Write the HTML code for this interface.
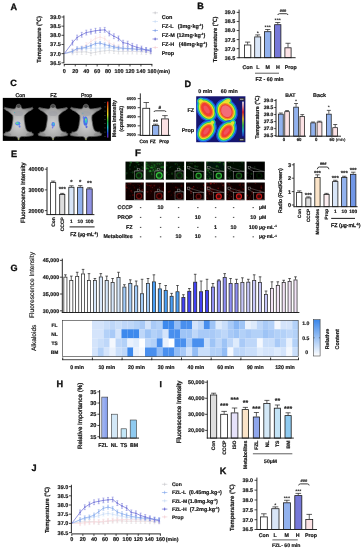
<!DOCTYPE html>
<html lang="en"><head><meta charset="utf-8"><title>Figure</title>
<style>
html,body{margin:0;padding:0;background:#fff;}
body{width:363px;height:550px;overflow:hidden;}
svg{display:block;font-family:'Liberation Sans','Noto Sans CJK SC',sans-serif;}
</style></head><body>
<svg width="363" height="550" viewBox="0 0 363 550" text-rendering="geometricPrecision">
<rect x="0" y="0" width="363" height="550" fill="#ffffff"/>
<defs><filter id="soft" x="0" y="0" width="363" height="550" filterUnits="userSpaceOnUse"><feGaussianBlur stdDeviation="0.38"/></filter></defs>
<g filter="url(#soft)" stroke-linecap="butt">
<text x="10.60" y="9.60" font-size="9.1" font-weight="bold" fill="#0c0c0c" stroke="#0c0c0c" stroke-width="0.3">A</text>
<line x1="72.51" y1="49.57" x2="72.51" y2="54.77" stroke="#d6d6da" stroke-width="0.6"/>
<line x1="71.51" y1="49.57" x2="73.51" y2="49.57" stroke="#d6d6da" stroke-width="0.5"/>
<line x1="71.51" y1="54.77" x2="73.51" y2="54.77" stroke="#d6d6da" stroke-width="0.5"/>
<line x1="77.11" y1="49.45" x2="77.11" y2="54.65" stroke="#d6d6da" stroke-width="0.6"/>
<line x1="76.11" y1="49.45" x2="78.11" y2="49.45" stroke="#d6d6da" stroke-width="0.5"/>
<line x1="76.11" y1="54.65" x2="78.11" y2="54.65" stroke="#d6d6da" stroke-width="0.5"/>
<line x1="81.71" y1="49.33" x2="81.71" y2="54.53" stroke="#d6d6da" stroke-width="0.6"/>
<line x1="80.71" y1="49.33" x2="82.71" y2="49.33" stroke="#d6d6da" stroke-width="0.5"/>
<line x1="80.71" y1="54.53" x2="82.71" y2="54.53" stroke="#d6d6da" stroke-width="0.5"/>
<line x1="86.31" y1="49.24" x2="86.31" y2="54.44" stroke="#d6d6da" stroke-width="0.6"/>
<line x1="85.31" y1="49.24" x2="87.31" y2="49.24" stroke="#d6d6da" stroke-width="0.5"/>
<line x1="85.31" y1="54.44" x2="87.31" y2="54.44" stroke="#d6d6da" stroke-width="0.5"/>
<line x1="90.91" y1="50.47" x2="90.91" y2="55.67" stroke="#d6d6da" stroke-width="0.6"/>
<line x1="89.91" y1="50.47" x2="91.91" y2="50.47" stroke="#d6d6da" stroke-width="0.5"/>
<line x1="89.91" y1="55.67" x2="91.91" y2="55.67" stroke="#d6d6da" stroke-width="0.5"/>
<line x1="95.51" y1="49.65" x2="95.51" y2="54.85" stroke="#d6d6da" stroke-width="0.6"/>
<line x1="94.51" y1="49.65" x2="96.51" y2="49.65" stroke="#d6d6da" stroke-width="0.5"/>
<line x1="94.51" y1="54.85" x2="96.51" y2="54.85" stroke="#d6d6da" stroke-width="0.5"/>
<line x1="100.11" y1="48.81" x2="100.11" y2="54.01" stroke="#d6d6da" stroke-width="0.6"/>
<line x1="99.11" y1="48.81" x2="101.11" y2="48.81" stroke="#d6d6da" stroke-width="0.5"/>
<line x1="99.11" y1="54.01" x2="101.11" y2="54.01" stroke="#d6d6da" stroke-width="0.5"/>
<line x1="104.71" y1="48.20" x2="104.71" y2="53.40" stroke="#d6d6da" stroke-width="0.6"/>
<line x1="103.71" y1="48.20" x2="105.71" y2="48.20" stroke="#d6d6da" stroke-width="0.5"/>
<line x1="103.71" y1="53.40" x2="105.71" y2="53.40" stroke="#d6d6da" stroke-width="0.5"/>
<line x1="109.30" y1="47.86" x2="109.30" y2="53.06" stroke="#d6d6da" stroke-width="0.6"/>
<line x1="108.30" y1="47.86" x2="110.30" y2="47.86" stroke="#d6d6da" stroke-width="0.5"/>
<line x1="108.30" y1="53.06" x2="110.30" y2="53.06" stroke="#d6d6da" stroke-width="0.5"/>
<line x1="113.90" y1="48.32" x2="113.90" y2="53.52" stroke="#d6d6da" stroke-width="0.6"/>
<line x1="112.90" y1="48.32" x2="114.90" y2="48.32" stroke="#d6d6da" stroke-width="0.5"/>
<line x1="112.90" y1="53.52" x2="114.90" y2="53.52" stroke="#d6d6da" stroke-width="0.5"/>
<line x1="118.50" y1="48.79" x2="118.50" y2="53.99" stroke="#d6d6da" stroke-width="0.6"/>
<line x1="117.50" y1="48.79" x2="119.50" y2="48.79" stroke="#d6d6da" stroke-width="0.5"/>
<line x1="117.50" y1="53.99" x2="119.50" y2="53.99" stroke="#d6d6da" stroke-width="0.5"/>
<line x1="123.10" y1="48.84" x2="123.10" y2="54.04" stroke="#d6d6da" stroke-width="0.6"/>
<line x1="122.10" y1="48.84" x2="124.10" y2="48.84" stroke="#d6d6da" stroke-width="0.5"/>
<line x1="122.10" y1="54.04" x2="124.10" y2="54.04" stroke="#d6d6da" stroke-width="0.5"/>
<line x1="127.70" y1="48.84" x2="127.70" y2="54.04" stroke="#d6d6da" stroke-width="0.6"/>
<line x1="126.70" y1="48.84" x2="128.70" y2="48.84" stroke="#d6d6da" stroke-width="0.5"/>
<line x1="126.70" y1="54.04" x2="128.70" y2="54.04" stroke="#d6d6da" stroke-width="0.5"/>
<line x1="132.30" y1="48.84" x2="132.30" y2="54.04" stroke="#d6d6da" stroke-width="0.6"/>
<line x1="131.30" y1="48.84" x2="133.30" y2="48.84" stroke="#d6d6da" stroke-width="0.5"/>
<line x1="131.30" y1="54.04" x2="133.30" y2="54.04" stroke="#d6d6da" stroke-width="0.5"/>
<line x1="136.90" y1="48.91" x2="136.90" y2="54.11" stroke="#d6d6da" stroke-width="0.6"/>
<line x1="135.90" y1="48.91" x2="137.90" y2="48.91" stroke="#d6d6da" stroke-width="0.5"/>
<line x1="135.90" y1="54.11" x2="137.90" y2="54.11" stroke="#d6d6da" stroke-width="0.5"/>
<line x1="141.50" y1="49.11" x2="141.50" y2="54.31" stroke="#d6d6da" stroke-width="0.6"/>
<line x1="140.50" y1="49.11" x2="142.50" y2="49.11" stroke="#d6d6da" stroke-width="0.5"/>
<line x1="140.50" y1="54.31" x2="142.50" y2="54.31" stroke="#d6d6da" stroke-width="0.5"/>
<line x1="146.10" y1="49.32" x2="146.10" y2="54.52" stroke="#d6d6da" stroke-width="0.6"/>
<line x1="145.10" y1="49.32" x2="147.10" y2="49.32" stroke="#d6d6da" stroke-width="0.5"/>
<line x1="145.10" y1="54.52" x2="147.10" y2="54.52" stroke="#d6d6da" stroke-width="0.5"/>
<line x1="150.70" y1="49.52" x2="150.70" y2="54.72" stroke="#d6d6da" stroke-width="0.6"/>
<line x1="149.70" y1="49.52" x2="151.70" y2="49.52" stroke="#d6d6da" stroke-width="0.5"/>
<line x1="149.70" y1="54.72" x2="151.70" y2="54.72" stroke="#d6d6da" stroke-width="0.5"/>
<polyline points="64.30,53.64 72.51,52.17 77.11,52.05 81.71,51.93 86.31,51.84 90.91,53.07 95.51,52.25 100.11,51.41 104.71,50.80 109.30,50.46 113.90,50.92 118.50,51.39 123.10,51.44 127.70,51.44 132.30,51.44 136.90,51.51 141.50,51.71 146.10,51.92 150.70,52.12" fill="none" stroke="#d6d6da" stroke-width="0.7" stroke-linejoin="round"/>
<circle cx="72.51" cy="52.17" r="0.85" fill="#d6d6da"/>
<circle cx="77.11" cy="52.05" r="0.85" fill="#d6d6da"/>
<circle cx="81.71" cy="51.93" r="0.85" fill="#d6d6da"/>
<circle cx="86.31" cy="51.84" r="0.85" fill="#d6d6da"/>
<circle cx="90.91" cy="53.07" r="0.85" fill="#d6d6da"/>
<circle cx="95.51" cy="52.25" r="0.85" fill="#d6d6da"/>
<circle cx="100.11" cy="51.41" r="0.85" fill="#d6d6da"/>
<circle cx="104.71" cy="50.80" r="0.85" fill="#d6d6da"/>
<circle cx="109.30" cy="50.46" r="0.85" fill="#d6d6da"/>
<circle cx="113.90" cy="50.92" r="0.85" fill="#d6d6da"/>
<circle cx="118.50" cy="51.39" r="0.85" fill="#d6d6da"/>
<circle cx="123.10" cy="51.44" r="0.85" fill="#d6d6da"/>
<circle cx="127.70" cy="51.44" r="0.85" fill="#d6d6da"/>
<circle cx="132.30" cy="51.44" r="0.85" fill="#d6d6da"/>
<circle cx="136.90" cy="51.51" r="0.85" fill="#d6d6da"/>
<circle cx="141.50" cy="51.71" r="0.85" fill="#d6d6da"/>
<circle cx="146.10" cy="51.92" r="0.85" fill="#d6d6da"/>
<circle cx="150.70" cy="52.12" r="0.85" fill="#d6d6da"/>
<line x1="72.51" y1="48.69" x2="72.51" y2="53.09" stroke="#cfe0f7" stroke-width="0.6"/>
<line x1="71.51" y1="48.69" x2="73.51" y2="48.69" stroke="#cfe0f7" stroke-width="0.5"/>
<line x1="71.51" y1="53.09" x2="73.51" y2="53.09" stroke="#cfe0f7" stroke-width="0.5"/>
<line x1="77.11" y1="47.46" x2="77.11" y2="51.86" stroke="#cfe0f7" stroke-width="0.6"/>
<line x1="76.11" y1="47.46" x2="78.11" y2="47.46" stroke="#cfe0f7" stroke-width="0.5"/>
<line x1="76.11" y1="51.86" x2="78.11" y2="51.86" stroke="#cfe0f7" stroke-width="0.5"/>
<line x1="81.71" y1="46.46" x2="81.71" y2="50.86" stroke="#cfe0f7" stroke-width="0.6"/>
<line x1="80.71" y1="46.46" x2="82.71" y2="46.46" stroke="#cfe0f7" stroke-width="0.5"/>
<line x1="80.71" y1="50.86" x2="82.71" y2="50.86" stroke="#cfe0f7" stroke-width="0.5"/>
<line x1="86.31" y1="46.31" x2="86.31" y2="50.71" stroke="#cfe0f7" stroke-width="0.6"/>
<line x1="85.31" y1="46.31" x2="87.31" y2="46.31" stroke="#cfe0f7" stroke-width="0.5"/>
<line x1="85.31" y1="50.71" x2="87.31" y2="50.71" stroke="#cfe0f7" stroke-width="0.5"/>
<line x1="90.91" y1="46.15" x2="90.91" y2="50.55" stroke="#cfe0f7" stroke-width="0.6"/>
<line x1="89.91" y1="46.15" x2="91.91" y2="46.15" stroke="#cfe0f7" stroke-width="0.5"/>
<line x1="89.91" y1="50.55" x2="91.91" y2="50.55" stroke="#cfe0f7" stroke-width="0.5"/>
<line x1="95.51" y1="46.00" x2="95.51" y2="50.40" stroke="#cfe0f7" stroke-width="0.6"/>
<line x1="94.51" y1="46.00" x2="96.51" y2="46.00" stroke="#cfe0f7" stroke-width="0.5"/>
<line x1="94.51" y1="50.40" x2="96.51" y2="50.40" stroke="#cfe0f7" stroke-width="0.5"/>
<line x1="100.11" y1="45.85" x2="100.11" y2="50.25" stroke="#cfe0f7" stroke-width="0.6"/>
<line x1="99.11" y1="45.85" x2="101.11" y2="45.85" stroke="#cfe0f7" stroke-width="0.5"/>
<line x1="99.11" y1="50.25" x2="101.11" y2="50.25" stroke="#cfe0f7" stroke-width="0.5"/>
<line x1="104.71" y1="45.69" x2="104.71" y2="50.09" stroke="#cfe0f7" stroke-width="0.6"/>
<line x1="103.71" y1="45.69" x2="105.71" y2="45.69" stroke="#cfe0f7" stroke-width="0.5"/>
<line x1="103.71" y1="50.09" x2="105.71" y2="50.09" stroke="#cfe0f7" stroke-width="0.5"/>
<line x1="109.30" y1="45.66" x2="109.30" y2="50.06" stroke="#cfe0f7" stroke-width="0.6"/>
<line x1="108.30" y1="45.66" x2="110.30" y2="45.66" stroke="#cfe0f7" stroke-width="0.5"/>
<line x1="108.30" y1="50.06" x2="110.30" y2="50.06" stroke="#cfe0f7" stroke-width="0.5"/>
<line x1="113.90" y1="45.97" x2="113.90" y2="50.37" stroke="#cfe0f7" stroke-width="0.6"/>
<line x1="112.90" y1="45.97" x2="114.90" y2="45.97" stroke="#cfe0f7" stroke-width="0.5"/>
<line x1="112.90" y1="50.37" x2="114.90" y2="50.37" stroke="#cfe0f7" stroke-width="0.5"/>
<line x1="118.50" y1="46.27" x2="118.50" y2="50.67" stroke="#cfe0f7" stroke-width="0.6"/>
<line x1="117.50" y1="46.27" x2="119.50" y2="46.27" stroke="#cfe0f7" stroke-width="0.5"/>
<line x1="117.50" y1="50.67" x2="119.50" y2="50.67" stroke="#cfe0f7" stroke-width="0.5"/>
<line x1="123.10" y1="46.58" x2="123.10" y2="50.98" stroke="#cfe0f7" stroke-width="0.6"/>
<line x1="122.10" y1="46.58" x2="124.10" y2="46.58" stroke="#cfe0f7" stroke-width="0.5"/>
<line x1="122.10" y1="50.98" x2="124.10" y2="50.98" stroke="#cfe0f7" stroke-width="0.5"/>
<line x1="127.70" y1="46.89" x2="127.70" y2="51.29" stroke="#cfe0f7" stroke-width="0.6"/>
<line x1="126.70" y1="46.89" x2="128.70" y2="46.89" stroke="#cfe0f7" stroke-width="0.5"/>
<line x1="126.70" y1="51.29" x2="128.70" y2="51.29" stroke="#cfe0f7" stroke-width="0.5"/>
<line x1="132.30" y1="47.20" x2="132.30" y2="51.60" stroke="#cfe0f7" stroke-width="0.6"/>
<line x1="131.30" y1="47.20" x2="133.30" y2="47.20" stroke="#cfe0f7" stroke-width="0.5"/>
<line x1="131.30" y1="51.60" x2="133.30" y2="51.60" stroke="#cfe0f7" stroke-width="0.5"/>
<line x1="136.90" y1="47.50" x2="136.90" y2="51.90" stroke="#cfe0f7" stroke-width="0.6"/>
<line x1="135.90" y1="47.50" x2="137.90" y2="47.50" stroke="#cfe0f7" stroke-width="0.5"/>
<line x1="135.90" y1="51.90" x2="137.90" y2="51.90" stroke="#cfe0f7" stroke-width="0.5"/>
<line x1="141.50" y1="47.81" x2="141.50" y2="52.21" stroke="#cfe0f7" stroke-width="0.6"/>
<line x1="140.50" y1="47.81" x2="142.50" y2="47.81" stroke="#cfe0f7" stroke-width="0.5"/>
<line x1="140.50" y1="52.21" x2="142.50" y2="52.21" stroke="#cfe0f7" stroke-width="0.5"/>
<line x1="146.10" y1="48.12" x2="146.10" y2="52.52" stroke="#cfe0f7" stroke-width="0.6"/>
<line x1="145.10" y1="48.12" x2="147.10" y2="48.12" stroke="#cfe0f7" stroke-width="0.5"/>
<line x1="145.10" y1="52.52" x2="147.10" y2="52.52" stroke="#cfe0f7" stroke-width="0.5"/>
<line x1="150.70" y1="48.43" x2="150.70" y2="52.83" stroke="#cfe0f7" stroke-width="0.6"/>
<line x1="149.70" y1="48.43" x2="151.70" y2="48.43" stroke="#cfe0f7" stroke-width="0.5"/>
<line x1="149.70" y1="52.83" x2="151.70" y2="52.83" stroke="#cfe0f7" stroke-width="0.5"/>
<polyline points="64.30,53.64 72.51,50.89 77.11,49.66 81.71,48.66 86.31,48.51 90.91,48.35 95.51,48.20 100.11,48.05 104.71,47.89 109.30,47.86 113.90,48.17 118.50,48.47 123.10,48.78 127.70,49.09 132.30,49.40 136.90,49.70 141.50,50.01 146.10,50.32 150.70,50.63" fill="none" stroke="#cfe0f7" stroke-width="0.7" stroke-linejoin="round"/>
<circle cx="72.51" cy="50.89" r="0.85" fill="#cfe0f7"/>
<circle cx="77.11" cy="49.66" r="0.85" fill="#cfe0f7"/>
<circle cx="81.71" cy="48.66" r="0.85" fill="#cfe0f7"/>
<circle cx="86.31" cy="48.51" r="0.85" fill="#cfe0f7"/>
<circle cx="90.91" cy="48.35" r="0.85" fill="#cfe0f7"/>
<circle cx="95.51" cy="48.20" r="0.85" fill="#cfe0f7"/>
<circle cx="100.11" cy="48.05" r="0.85" fill="#cfe0f7"/>
<circle cx="104.71" cy="47.89" r="0.85" fill="#cfe0f7"/>
<circle cx="109.30" cy="47.86" r="0.85" fill="#cfe0f7"/>
<circle cx="113.90" cy="48.17" r="0.85" fill="#cfe0f7"/>
<circle cx="118.50" cy="48.47" r="0.85" fill="#cfe0f7"/>
<circle cx="123.10" cy="48.78" r="0.85" fill="#cfe0f7"/>
<circle cx="127.70" cy="49.09" r="0.85" fill="#cfe0f7"/>
<circle cx="132.30" cy="49.40" r="0.85" fill="#cfe0f7"/>
<circle cx="136.90" cy="49.70" r="0.85" fill="#cfe0f7"/>
<circle cx="141.50" cy="50.01" r="0.85" fill="#cfe0f7"/>
<circle cx="146.10" cy="50.32" r="0.85" fill="#cfe0f7"/>
<circle cx="150.70" cy="50.63" r="0.85" fill="#cfe0f7"/>
<line x1="72.51" y1="48.49" x2="72.51" y2="53.29" stroke="#f8dfe2" stroke-width="0.6"/>
<line x1="71.51" y1="48.49" x2="73.51" y2="48.49" stroke="#f8dfe2" stroke-width="0.5"/>
<line x1="71.51" y1="53.29" x2="73.51" y2="53.29" stroke="#f8dfe2" stroke-width="0.5"/>
<line x1="77.11" y1="47.13" x2="77.11" y2="51.93" stroke="#f8dfe2" stroke-width="0.6"/>
<line x1="76.11" y1="47.13" x2="78.11" y2="47.13" stroke="#f8dfe2" stroke-width="0.5"/>
<line x1="76.11" y1="51.93" x2="78.11" y2="51.93" stroke="#f8dfe2" stroke-width="0.5"/>
<line x1="81.71" y1="45.78" x2="81.71" y2="50.58" stroke="#f8dfe2" stroke-width="0.6"/>
<line x1="80.71" y1="45.78" x2="82.71" y2="45.78" stroke="#f8dfe2" stroke-width="0.5"/>
<line x1="80.71" y1="50.58" x2="82.71" y2="50.58" stroke="#f8dfe2" stroke-width="0.5"/>
<line x1="86.31" y1="42.46" x2="86.31" y2="47.26" stroke="#f8dfe2" stroke-width="0.6"/>
<line x1="85.31" y1="42.46" x2="87.31" y2="42.46" stroke="#f8dfe2" stroke-width="0.5"/>
<line x1="85.31" y1="47.26" x2="87.31" y2="47.26" stroke="#f8dfe2" stroke-width="0.5"/>
<line x1="90.91" y1="39.11" x2="90.91" y2="43.91" stroke="#f8dfe2" stroke-width="0.6"/>
<line x1="89.91" y1="39.11" x2="91.91" y2="39.11" stroke="#f8dfe2" stroke-width="0.5"/>
<line x1="89.91" y1="43.91" x2="91.91" y2="43.91" stroke="#f8dfe2" stroke-width="0.5"/>
<line x1="95.51" y1="36.03" x2="95.51" y2="40.83" stroke="#f8dfe2" stroke-width="0.6"/>
<line x1="94.51" y1="36.03" x2="96.51" y2="36.03" stroke="#f8dfe2" stroke-width="0.5"/>
<line x1="94.51" y1="40.83" x2="96.51" y2="40.83" stroke="#f8dfe2" stroke-width="0.5"/>
<line x1="100.11" y1="34.65" x2="100.11" y2="39.45" stroke="#f8dfe2" stroke-width="0.6"/>
<line x1="99.11" y1="34.65" x2="101.11" y2="34.65" stroke="#f8dfe2" stroke-width="0.5"/>
<line x1="99.11" y1="39.45" x2="101.11" y2="39.45" stroke="#f8dfe2" stroke-width="0.5"/>
<line x1="104.71" y1="36.25" x2="104.71" y2="41.05" stroke="#f8dfe2" stroke-width="0.6"/>
<line x1="103.71" y1="36.25" x2="105.71" y2="36.25" stroke="#f8dfe2" stroke-width="0.5"/>
<line x1="103.71" y1="41.05" x2="105.71" y2="41.05" stroke="#f8dfe2" stroke-width="0.5"/>
<line x1="109.30" y1="40.21" x2="109.30" y2="45.01" stroke="#f8dfe2" stroke-width="0.6"/>
<line x1="108.30" y1="40.21" x2="110.30" y2="40.21" stroke="#f8dfe2" stroke-width="0.5"/>
<line x1="108.30" y1="45.01" x2="110.30" y2="45.01" stroke="#f8dfe2" stroke-width="0.5"/>
<line x1="113.90" y1="42.93" x2="113.90" y2="47.73" stroke="#f8dfe2" stroke-width="0.6"/>
<line x1="112.90" y1="42.93" x2="114.90" y2="42.93" stroke="#f8dfe2" stroke-width="0.5"/>
<line x1="112.90" y1="47.73" x2="114.90" y2="47.73" stroke="#f8dfe2" stroke-width="0.5"/>
<line x1="118.50" y1="44.40" x2="118.50" y2="49.20" stroke="#f8dfe2" stroke-width="0.6"/>
<line x1="117.50" y1="44.40" x2="119.50" y2="44.40" stroke="#f8dfe2" stroke-width="0.5"/>
<line x1="117.50" y1="49.20" x2="119.50" y2="49.20" stroke="#f8dfe2" stroke-width="0.5"/>
<line x1="123.10" y1="45.65" x2="123.10" y2="50.45" stroke="#f8dfe2" stroke-width="0.6"/>
<line x1="122.10" y1="45.65" x2="124.10" y2="45.65" stroke="#f8dfe2" stroke-width="0.5"/>
<line x1="122.10" y1="50.45" x2="124.10" y2="50.45" stroke="#f8dfe2" stroke-width="0.5"/>
<line x1="127.70" y1="46.16" x2="127.70" y2="50.96" stroke="#f8dfe2" stroke-width="0.6"/>
<line x1="126.70" y1="46.16" x2="128.70" y2="46.16" stroke="#f8dfe2" stroke-width="0.5"/>
<line x1="126.70" y1="50.96" x2="128.70" y2="50.96" stroke="#f8dfe2" stroke-width="0.5"/>
<line x1="132.30" y1="46.60" x2="132.30" y2="51.40" stroke="#f8dfe2" stroke-width="0.6"/>
<line x1="131.30" y1="46.60" x2="133.30" y2="46.60" stroke="#f8dfe2" stroke-width="0.5"/>
<line x1="131.30" y1="51.40" x2="133.30" y2="51.40" stroke="#f8dfe2" stroke-width="0.5"/>
<line x1="136.90" y1="47.04" x2="136.90" y2="51.84" stroke="#f8dfe2" stroke-width="0.6"/>
<line x1="135.90" y1="47.04" x2="137.90" y2="47.04" stroke="#f8dfe2" stroke-width="0.5"/>
<line x1="135.90" y1="51.84" x2="137.90" y2="51.84" stroke="#f8dfe2" stroke-width="0.5"/>
<line x1="141.50" y1="47.49" x2="141.50" y2="52.29" stroke="#f8dfe2" stroke-width="0.6"/>
<line x1="140.50" y1="47.49" x2="142.50" y2="47.49" stroke="#f8dfe2" stroke-width="0.5"/>
<line x1="140.50" y1="52.29" x2="142.50" y2="52.29" stroke="#f8dfe2" stroke-width="0.5"/>
<line x1="146.10" y1="47.93" x2="146.10" y2="52.73" stroke="#f8dfe2" stroke-width="0.6"/>
<line x1="145.10" y1="47.93" x2="147.10" y2="47.93" stroke="#f8dfe2" stroke-width="0.5"/>
<line x1="145.10" y1="52.73" x2="147.10" y2="52.73" stroke="#f8dfe2" stroke-width="0.5"/>
<line x1="150.70" y1="48.38" x2="150.70" y2="53.18" stroke="#f8dfe2" stroke-width="0.6"/>
<line x1="149.70" y1="48.38" x2="151.70" y2="48.38" stroke="#f8dfe2" stroke-width="0.5"/>
<line x1="149.70" y1="53.18" x2="151.70" y2="53.18" stroke="#f8dfe2" stroke-width="0.5"/>
<polyline points="64.30,53.64 72.51,50.89 77.11,49.53 81.71,48.18 86.31,44.86 90.91,41.51 95.51,38.43 100.11,37.05 104.71,38.65 109.30,42.61 113.90,45.33 118.50,46.80 123.10,48.05 127.70,48.56 132.30,49.00 136.90,49.44 141.50,49.89 146.10,50.33 150.70,50.78" fill="none" stroke="#f8dfe2" stroke-width="0.7" stroke-linejoin="round"/>
<circle cx="72.51" cy="50.89" r="0.85" fill="#f8dfe2"/>
<circle cx="77.11" cy="49.53" r="0.85" fill="#f8dfe2"/>
<circle cx="81.71" cy="48.18" r="0.85" fill="#f8dfe2"/>
<circle cx="86.31" cy="44.86" r="0.85" fill="#f8dfe2"/>
<circle cx="90.91" cy="41.51" r="0.85" fill="#f8dfe2"/>
<circle cx="95.51" cy="38.43" r="0.85" fill="#f8dfe2"/>
<circle cx="100.11" cy="37.05" r="0.85" fill="#f8dfe2"/>
<circle cx="104.71" cy="38.65" r="0.85" fill="#f8dfe2"/>
<circle cx="109.30" cy="42.61" r="0.85" fill="#f8dfe2"/>
<circle cx="113.90" cy="45.33" r="0.85" fill="#f8dfe2"/>
<circle cx="118.50" cy="46.80" r="0.85" fill="#f8dfe2"/>
<circle cx="123.10" cy="48.05" r="0.85" fill="#f8dfe2"/>
<circle cx="127.70" cy="48.56" r="0.85" fill="#f8dfe2"/>
<circle cx="132.30" cy="49.00" r="0.85" fill="#f8dfe2"/>
<circle cx="136.90" cy="49.44" r="0.85" fill="#f8dfe2"/>
<circle cx="141.50" cy="49.89" r="0.85" fill="#f8dfe2"/>
<circle cx="146.10" cy="50.33" r="0.85" fill="#f8dfe2"/>
<circle cx="150.70" cy="50.78" r="0.85" fill="#f8dfe2"/>
<line x1="72.51" y1="49.56" x2="72.51" y2="52.96" stroke="#86a6ea" stroke-width="0.6"/>
<line x1="71.51" y1="49.56" x2="73.51" y2="49.56" stroke="#86a6ea" stroke-width="0.5"/>
<line x1="71.51" y1="52.96" x2="73.51" y2="52.96" stroke="#86a6ea" stroke-width="0.5"/>
<line x1="77.11" y1="46.79" x2="77.11" y2="50.19" stroke="#86a6ea" stroke-width="0.6"/>
<line x1="76.11" y1="46.79" x2="78.11" y2="46.79" stroke="#86a6ea" stroke-width="0.5"/>
<line x1="76.11" y1="50.19" x2="78.11" y2="50.19" stroke="#86a6ea" stroke-width="0.5"/>
<line x1="81.71" y1="46.45" x2="81.71" y2="49.85" stroke="#86a6ea" stroke-width="0.6"/>
<line x1="80.71" y1="46.45" x2="82.71" y2="46.45" stroke="#86a6ea" stroke-width="0.5"/>
<line x1="80.71" y1="49.85" x2="82.71" y2="49.85" stroke="#86a6ea" stroke-width="0.5"/>
<line x1="86.31" y1="45.49" x2="86.31" y2="48.89" stroke="#86a6ea" stroke-width="0.6"/>
<line x1="85.31" y1="45.49" x2="87.31" y2="45.49" stroke="#86a6ea" stroke-width="0.5"/>
<line x1="85.31" y1="48.89" x2="87.31" y2="48.89" stroke="#86a6ea" stroke-width="0.5"/>
<line x1="90.91" y1="43.78" x2="90.91" y2="47.18" stroke="#86a6ea" stroke-width="0.6"/>
<line x1="89.91" y1="43.78" x2="91.91" y2="43.78" stroke="#86a6ea" stroke-width="0.5"/>
<line x1="89.91" y1="47.18" x2="91.91" y2="47.18" stroke="#86a6ea" stroke-width="0.5"/>
<line x1="95.51" y1="41.86" x2="95.51" y2="45.26" stroke="#86a6ea" stroke-width="0.6"/>
<line x1="94.51" y1="41.86" x2="96.51" y2="41.86" stroke="#86a6ea" stroke-width="0.5"/>
<line x1="94.51" y1="45.26" x2="96.51" y2="45.26" stroke="#86a6ea" stroke-width="0.5"/>
<line x1="100.11" y1="41.39" x2="100.11" y2="44.79" stroke="#86a6ea" stroke-width="0.6"/>
<line x1="99.11" y1="41.39" x2="101.11" y2="41.39" stroke="#86a6ea" stroke-width="0.5"/>
<line x1="99.11" y1="44.79" x2="101.11" y2="44.79" stroke="#86a6ea" stroke-width="0.5"/>
<line x1="104.71" y1="42.88" x2="104.71" y2="46.28" stroke="#86a6ea" stroke-width="0.6"/>
<line x1="103.71" y1="42.88" x2="105.71" y2="42.88" stroke="#86a6ea" stroke-width="0.5"/>
<line x1="103.71" y1="46.28" x2="105.71" y2="46.28" stroke="#86a6ea" stroke-width="0.5"/>
<line x1="109.30" y1="43.96" x2="109.30" y2="47.36" stroke="#86a6ea" stroke-width="0.6"/>
<line x1="108.30" y1="43.96" x2="110.30" y2="43.96" stroke="#86a6ea" stroke-width="0.5"/>
<line x1="108.30" y1="47.36" x2="110.30" y2="47.36" stroke="#86a6ea" stroke-width="0.5"/>
<line x1="113.90" y1="45.18" x2="113.90" y2="48.58" stroke="#86a6ea" stroke-width="0.6"/>
<line x1="112.90" y1="45.18" x2="114.90" y2="45.18" stroke="#86a6ea" stroke-width="0.5"/>
<line x1="112.90" y1="48.58" x2="114.90" y2="48.58" stroke="#86a6ea" stroke-width="0.5"/>
<line x1="118.50" y1="46.08" x2="118.50" y2="49.48" stroke="#86a6ea" stroke-width="0.6"/>
<line x1="117.50" y1="46.08" x2="119.50" y2="46.08" stroke="#86a6ea" stroke-width="0.5"/>
<line x1="117.50" y1="49.48" x2="119.50" y2="49.48" stroke="#86a6ea" stroke-width="0.5"/>
<line x1="123.10" y1="46.55" x2="123.10" y2="49.95" stroke="#86a6ea" stroke-width="0.6"/>
<line x1="122.10" y1="46.55" x2="124.10" y2="46.55" stroke="#86a6ea" stroke-width="0.5"/>
<line x1="122.10" y1="49.95" x2="124.10" y2="49.95" stroke="#86a6ea" stroke-width="0.5"/>
<line x1="127.70" y1="46.76" x2="127.70" y2="50.16" stroke="#86a6ea" stroke-width="0.6"/>
<line x1="126.70" y1="46.76" x2="128.70" y2="46.76" stroke="#86a6ea" stroke-width="0.5"/>
<line x1="126.70" y1="50.16" x2="128.70" y2="50.16" stroke="#86a6ea" stroke-width="0.5"/>
<line x1="132.30" y1="47.09" x2="132.30" y2="50.49" stroke="#86a6ea" stroke-width="0.6"/>
<line x1="131.30" y1="47.09" x2="133.30" y2="47.09" stroke="#86a6ea" stroke-width="0.5"/>
<line x1="131.30" y1="50.49" x2="133.30" y2="50.49" stroke="#86a6ea" stroke-width="0.5"/>
<line x1="136.90" y1="47.48" x2="136.90" y2="50.88" stroke="#86a6ea" stroke-width="0.6"/>
<line x1="135.90" y1="47.48" x2="137.90" y2="47.48" stroke="#86a6ea" stroke-width="0.5"/>
<line x1="135.90" y1="50.88" x2="137.90" y2="50.88" stroke="#86a6ea" stroke-width="0.5"/>
<line x1="141.50" y1="47.80" x2="141.50" y2="51.20" stroke="#86a6ea" stroke-width="0.6"/>
<line x1="140.50" y1="47.80" x2="142.50" y2="47.80" stroke="#86a6ea" stroke-width="0.5"/>
<line x1="140.50" y1="51.20" x2="142.50" y2="51.20" stroke="#86a6ea" stroke-width="0.5"/>
<line x1="146.10" y1="48.01" x2="146.10" y2="51.41" stroke="#86a6ea" stroke-width="0.6"/>
<line x1="145.10" y1="48.01" x2="147.10" y2="48.01" stroke="#86a6ea" stroke-width="0.5"/>
<line x1="145.10" y1="51.41" x2="147.10" y2="51.41" stroke="#86a6ea" stroke-width="0.5"/>
<line x1="150.70" y1="48.22" x2="150.70" y2="51.62" stroke="#86a6ea" stroke-width="0.6"/>
<line x1="149.70" y1="48.22" x2="151.70" y2="48.22" stroke="#86a6ea" stroke-width="0.5"/>
<line x1="149.70" y1="51.62" x2="151.70" y2="51.62" stroke="#86a6ea" stroke-width="0.5"/>
<polyline points="64.30,53.64 72.51,51.26 77.11,48.49 81.71,48.15 86.31,47.19 90.91,45.48 95.51,43.56 100.11,43.09 104.71,44.58 109.30,45.66 113.90,46.88 118.50,47.78 123.10,48.25 127.70,48.46 132.30,48.79 136.90,49.18 141.50,49.50 146.10,49.71 150.70,49.92" fill="none" stroke="#86a6ea" stroke-width="0.8" stroke-linejoin="round"/>
<circle cx="72.51" cy="51.26" r="0.85" fill="#86a6ea"/>
<circle cx="77.11" cy="48.49" r="0.85" fill="#86a6ea"/>
<circle cx="81.71" cy="48.15" r="0.85" fill="#86a6ea"/>
<circle cx="86.31" cy="47.19" r="0.85" fill="#86a6ea"/>
<circle cx="90.91" cy="45.48" r="0.85" fill="#86a6ea"/>
<circle cx="95.51" cy="43.56" r="0.85" fill="#86a6ea"/>
<circle cx="100.11" cy="43.09" r="0.85" fill="#86a6ea"/>
<circle cx="104.71" cy="44.58" r="0.85" fill="#86a6ea"/>
<circle cx="109.30" cy="45.66" r="0.85" fill="#86a6ea"/>
<circle cx="113.90" cy="46.88" r="0.85" fill="#86a6ea"/>
<circle cx="118.50" cy="47.78" r="0.85" fill="#86a6ea"/>
<circle cx="123.10" cy="48.25" r="0.85" fill="#86a6ea"/>
<circle cx="127.70" cy="48.46" r="0.85" fill="#86a6ea"/>
<circle cx="132.30" cy="48.79" r="0.85" fill="#86a6ea"/>
<circle cx="136.90" cy="49.18" r="0.85" fill="#86a6ea"/>
<circle cx="141.50" cy="49.50" r="0.85" fill="#86a6ea"/>
<circle cx="146.10" cy="49.71" r="0.85" fill="#86a6ea"/>
<circle cx="150.70" cy="49.92" r="0.85" fill="#86a6ea"/>
<line x1="72.51" y1="40.25" x2="72.51" y2="45.05" stroke="#7c7edb" stroke-width="0.6"/>
<line x1="71.51" y1="40.25" x2="73.51" y2="40.25" stroke="#7c7edb" stroke-width="0.5"/>
<line x1="71.51" y1="45.05" x2="73.51" y2="45.05" stroke="#7c7edb" stroke-width="0.5"/>
<line x1="77.11" y1="35.12" x2="77.11" y2="39.92" stroke="#7c7edb" stroke-width="0.6"/>
<line x1="76.11" y1="35.12" x2="78.11" y2="35.12" stroke="#7c7edb" stroke-width="0.5"/>
<line x1="76.11" y1="39.92" x2="78.11" y2="39.92" stroke="#7c7edb" stroke-width="0.5"/>
<line x1="81.71" y1="32.37" x2="81.71" y2="37.17" stroke="#7c7edb" stroke-width="0.6"/>
<line x1="80.71" y1="32.37" x2="82.71" y2="32.37" stroke="#7c7edb" stroke-width="0.5"/>
<line x1="80.71" y1="37.17" x2="82.71" y2="37.17" stroke="#7c7edb" stroke-width="0.5"/>
<line x1="86.31" y1="30.17" x2="86.31" y2="34.97" stroke="#7c7edb" stroke-width="0.6"/>
<line x1="85.31" y1="30.17" x2="87.31" y2="30.17" stroke="#7c7edb" stroke-width="0.5"/>
<line x1="85.31" y1="34.97" x2="87.31" y2="34.97" stroke="#7c7edb" stroke-width="0.5"/>
<line x1="90.91" y1="29.26" x2="90.91" y2="34.06" stroke="#7c7edb" stroke-width="0.6"/>
<line x1="89.91" y1="29.26" x2="91.91" y2="29.26" stroke="#7c7edb" stroke-width="0.5"/>
<line x1="89.91" y1="34.06" x2="91.91" y2="34.06" stroke="#7c7edb" stroke-width="0.5"/>
<line x1="95.51" y1="28.34" x2="95.51" y2="33.14" stroke="#7c7edb" stroke-width="0.6"/>
<line x1="94.51" y1="28.34" x2="96.51" y2="28.34" stroke="#7c7edb" stroke-width="0.5"/>
<line x1="94.51" y1="33.14" x2="96.51" y2="33.14" stroke="#7c7edb" stroke-width="0.5"/>
<line x1="100.11" y1="27.79" x2="100.11" y2="32.59" stroke="#7c7edb" stroke-width="0.6"/>
<line x1="99.11" y1="27.79" x2="101.11" y2="27.79" stroke="#7c7edb" stroke-width="0.5"/>
<line x1="99.11" y1="32.59" x2="101.11" y2="32.59" stroke="#7c7edb" stroke-width="0.5"/>
<line x1="104.71" y1="27.42" x2="104.71" y2="32.22" stroke="#7c7edb" stroke-width="0.6"/>
<line x1="103.71" y1="27.42" x2="105.71" y2="27.42" stroke="#7c7edb" stroke-width="0.5"/>
<line x1="103.71" y1="32.22" x2="105.71" y2="32.22" stroke="#7c7edb" stroke-width="0.5"/>
<line x1="109.30" y1="31.09" x2="109.30" y2="35.89" stroke="#7c7edb" stroke-width="0.6"/>
<line x1="108.30" y1="31.09" x2="110.30" y2="31.09" stroke="#7c7edb" stroke-width="0.5"/>
<line x1="108.30" y1="35.89" x2="110.30" y2="35.89" stroke="#7c7edb" stroke-width="0.5"/>
<line x1="113.90" y1="33.84" x2="113.90" y2="38.64" stroke="#7c7edb" stroke-width="0.6"/>
<line x1="112.90" y1="33.84" x2="114.90" y2="33.84" stroke="#7c7edb" stroke-width="0.5"/>
<line x1="112.90" y1="38.64" x2="114.90" y2="38.64" stroke="#7c7edb" stroke-width="0.5"/>
<line x1="118.50" y1="36.03" x2="118.50" y2="40.83" stroke="#7c7edb" stroke-width="0.6"/>
<line x1="117.50" y1="36.03" x2="119.50" y2="36.03" stroke="#7c7edb" stroke-width="0.5"/>
<line x1="117.50" y1="40.83" x2="119.50" y2="40.83" stroke="#7c7edb" stroke-width="0.5"/>
<line x1="123.10" y1="40.25" x2="123.10" y2="45.05" stroke="#7c7edb" stroke-width="0.6"/>
<line x1="122.10" y1="40.25" x2="124.10" y2="40.25" stroke="#7c7edb" stroke-width="0.5"/>
<line x1="122.10" y1="45.05" x2="124.10" y2="45.05" stroke="#7c7edb" stroke-width="0.5"/>
<line x1="127.70" y1="41.16" x2="127.70" y2="45.96" stroke="#7c7edb" stroke-width="0.6"/>
<line x1="126.70" y1="41.16" x2="128.70" y2="41.16" stroke="#7c7edb" stroke-width="0.5"/>
<line x1="126.70" y1="45.96" x2="128.70" y2="45.96" stroke="#7c7edb" stroke-width="0.5"/>
<line x1="132.30" y1="43.36" x2="132.30" y2="48.16" stroke="#7c7edb" stroke-width="0.6"/>
<line x1="131.30" y1="43.36" x2="133.30" y2="43.36" stroke="#7c7edb" stroke-width="0.5"/>
<line x1="131.30" y1="48.16" x2="133.30" y2="48.16" stroke="#7c7edb" stroke-width="0.5"/>
<line x1="136.90" y1="44.83" x2="136.90" y2="49.63" stroke="#7c7edb" stroke-width="0.6"/>
<line x1="135.90" y1="44.83" x2="137.90" y2="44.83" stroke="#7c7edb" stroke-width="0.5"/>
<line x1="135.90" y1="49.63" x2="137.90" y2="49.63" stroke="#7c7edb" stroke-width="0.5"/>
<line x1="141.50" y1="46.11" x2="141.50" y2="50.91" stroke="#7c7edb" stroke-width="0.6"/>
<line x1="140.50" y1="46.11" x2="142.50" y2="46.11" stroke="#7c7edb" stroke-width="0.5"/>
<line x1="140.50" y1="50.91" x2="142.50" y2="50.91" stroke="#7c7edb" stroke-width="0.5"/>
<line x1="146.10" y1="47.58" x2="146.10" y2="52.38" stroke="#7c7edb" stroke-width="0.6"/>
<line x1="145.10" y1="47.58" x2="147.10" y2="47.58" stroke="#7c7edb" stroke-width="0.5"/>
<line x1="145.10" y1="52.38" x2="147.10" y2="52.38" stroke="#7c7edb" stroke-width="0.5"/>
<line x1="150.70" y1="48.59" x2="150.70" y2="53.39" stroke="#7c7edb" stroke-width="0.6"/>
<line x1="149.70" y1="48.59" x2="151.70" y2="48.59" stroke="#7c7edb" stroke-width="0.5"/>
<line x1="149.70" y1="53.39" x2="151.70" y2="53.39" stroke="#7c7edb" stroke-width="0.5"/>
<polyline points="64.30,53.64 72.51,42.65 77.11,37.52 81.71,34.77 86.31,32.57 90.91,31.66 95.51,30.74 100.11,30.19 104.71,29.82 109.30,33.49 113.90,36.24 118.50,38.43 123.10,42.65 127.70,43.56 132.30,45.76 136.90,47.23 141.50,48.51 146.10,49.98 150.70,50.99" fill="none" stroke="#7c7edb" stroke-width="0.8" stroke-linejoin="round"/>
<circle cx="72.51" cy="42.65" r="0.85" fill="#7c7edb"/>
<circle cx="77.11" cy="37.52" r="0.85" fill="#7c7edb"/>
<circle cx="81.71" cy="34.77" r="0.85" fill="#7c7edb"/>
<circle cx="86.31" cy="32.57" r="0.85" fill="#7c7edb"/>
<circle cx="90.91" cy="31.66" r="0.85" fill="#7c7edb"/>
<circle cx="95.51" cy="30.74" r="0.85" fill="#7c7edb"/>
<circle cx="100.11" cy="30.19" r="0.85" fill="#7c7edb"/>
<circle cx="104.71" cy="29.82" r="0.85" fill="#7c7edb"/>
<circle cx="109.30" cy="33.49" r="0.85" fill="#7c7edb"/>
<circle cx="113.90" cy="36.24" r="0.85" fill="#7c7edb"/>
<circle cx="118.50" cy="38.43" r="0.85" fill="#7c7edb"/>
<circle cx="123.10" cy="42.65" r="0.85" fill="#7c7edb"/>
<circle cx="127.70" cy="43.56" r="0.85" fill="#7c7edb"/>
<circle cx="132.30" cy="45.76" r="0.85" fill="#7c7edb"/>
<circle cx="136.90" cy="47.23" r="0.85" fill="#7c7edb"/>
<circle cx="141.50" cy="48.51" r="0.85" fill="#7c7edb"/>
<circle cx="146.10" cy="49.98" r="0.85" fill="#7c7edb"/>
<circle cx="150.70" cy="50.99" r="0.85" fill="#7c7edb"/>
<line x1="63.90" y1="15.40" x2="63.90" y2="63.20" stroke="#1c1c1c" stroke-width="0.95"/>
<line x1="61.50" y1="17.00" x2="63.90" y2="17.00" stroke="#1c1c1c" stroke-width="0.8075"/>
<text x="60.80" y="18.98" font-size="5.5" text-anchor="end" font-weight="bold" fill="#161616" stroke="#161616" stroke-width="0.18">39.0</text>
<line x1="61.50" y1="26.16" x2="63.90" y2="26.16" stroke="#1c1c1c" stroke-width="0.8075"/>
<text x="60.80" y="28.14" font-size="5.5" text-anchor="end" font-weight="bold" fill="#161616" stroke="#161616" stroke-width="0.18">38.5</text>
<line x1="61.50" y1="35.32" x2="63.90" y2="35.32" stroke="#1c1c1c" stroke-width="0.8075"/>
<text x="60.80" y="37.30" font-size="5.5" text-anchor="end" font-weight="bold" fill="#161616" stroke="#161616" stroke-width="0.18">38.0</text>
<line x1="61.50" y1="44.48" x2="63.90" y2="44.48" stroke="#1c1c1c" stroke-width="0.8075"/>
<text x="60.80" y="46.46" font-size="5.5" text-anchor="end" font-weight="bold" fill="#161616" stroke="#161616" stroke-width="0.18">37.5</text>
<line x1="61.50" y1="53.64" x2="63.90" y2="53.64" stroke="#1c1c1c" stroke-width="0.8075"/>
<text x="60.80" y="55.62" font-size="5.5" text-anchor="end" font-weight="bold" fill="#161616" stroke="#161616" stroke-width="0.18">37.0</text>
<line x1="61.50" y1="62.80" x2="63.90" y2="62.80" stroke="#1c1c1c" stroke-width="0.8075"/>
<text x="60.80" y="64.78" font-size="5.5" text-anchor="end" font-weight="bold" fill="#161616" stroke="#161616" stroke-width="0.18">36.5</text>
<line x1="63.85" y1="64.40" x2="152.35" y2="64.40" stroke="#1c1c1c" stroke-width="0.95"/>
<line x1="64.30" y1="64.40" x2="64.30" y2="66.40" stroke="#1c1c1c" stroke-width="0.8"/>
<text x="64.30" y="72.98" font-size="5.5" text-anchor="middle" font-weight="bold" fill="#161616" stroke="#161616" stroke-width="0.18">0</text>
<line x1="75.25" y1="64.40" x2="75.25" y2="66.40" stroke="#1c1c1c" stroke-width="0.8"/>
<text x="75.25" y="72.98" font-size="5.5" text-anchor="middle" font-weight="bold" fill="#161616" stroke="#161616" stroke-width="0.18">20</text>
<line x1="86.20" y1="64.40" x2="86.20" y2="66.40" stroke="#1c1c1c" stroke-width="0.8"/>
<text x="86.20" y="72.98" font-size="5.5" text-anchor="middle" font-weight="bold" fill="#161616" stroke="#161616" stroke-width="0.18">40</text>
<line x1="97.15" y1="64.40" x2="97.15" y2="66.40" stroke="#1c1c1c" stroke-width="0.8"/>
<text x="97.15" y="72.98" font-size="5.5" text-anchor="middle" font-weight="bold" fill="#161616" stroke="#161616" stroke-width="0.18">60</text>
<line x1="108.10" y1="64.40" x2="108.10" y2="66.40" stroke="#1c1c1c" stroke-width="0.8"/>
<text x="108.10" y="72.98" font-size="5.5" text-anchor="middle" font-weight="bold" fill="#161616" stroke="#161616" stroke-width="0.18">80</text>
<line x1="119.05" y1="64.40" x2="119.05" y2="66.40" stroke="#1c1c1c" stroke-width="0.8"/>
<text x="119.05" y="72.98" font-size="5.5" text-anchor="middle" font-weight="bold" fill="#161616" stroke="#161616" stroke-width="0.18">100</text>
<line x1="130.00" y1="64.40" x2="130.00" y2="66.40" stroke="#1c1c1c" stroke-width="0.8"/>
<text x="130.00" y="72.98" font-size="5.5" text-anchor="middle" font-weight="bold" fill="#161616" stroke="#161616" stroke-width="0.18">120</text>
<line x1="140.95" y1="64.40" x2="140.95" y2="66.40" stroke="#1c1c1c" stroke-width="0.8"/>
<text x="140.95" y="72.98" font-size="5.5" text-anchor="middle" font-weight="bold" fill="#161616" stroke="#161616" stroke-width="0.18">140</text>
<line x1="151.90" y1="64.40" x2="151.90" y2="66.40" stroke="#1c1c1c" stroke-width="0.8"/>
<text x="147.50" y="72.98" font-size="5.5" text-anchor="start" font-weight="bold" fill="#161616" stroke="#161616" stroke-width="0.18">160</text>
<text x="157.30" y="72.87" font-size="5.2" text-anchor="start" font-weight="bold" fill="#161616" stroke="#161616" stroke-width="0.18">(min)</text>
<text x="41.32" y="39.40" font-size="5.9" text-anchor="middle" font-weight="bold" fill="#161616" transform="rotate(-90 41.32 39.40)" stroke="#161616" stroke-width="0.18">Temperature (℃)</text>
<line x1="152.50" y1="12.80" x2="158.00" y2="12.80" stroke="#d0d0d4" stroke-width="0.7"/>
<line x1="155.20" y1="11.20" x2="155.20" y2="14.40" stroke="#d0d0d4" stroke-width="0.6"/>
<circle cx="155.2" cy="12.80" r="0.85" fill="#d0d0d4"/>
<text x="161.70" y="18.58" font-size="5.5" text-anchor="start" font-weight="bold" fill="#161616" stroke="#161616" stroke-width="0.18">Con</text>
<line x1="152.50" y1="21.50" x2="158.00" y2="21.50" stroke="#cfe0f7" stroke-width="0.7"/>
<line x1="155.20" y1="19.90" x2="155.20" y2="23.10" stroke="#cfe0f7" stroke-width="0.6"/>
<circle cx="155.2" cy="21.50" r="0.85" fill="#cfe0f7"/>
<text x="161.70" y="27.88" font-size="5.5" text-anchor="start" font-weight="bold" fill="#161616" stroke="#161616" stroke-width="0.18">FZ-L</text>
<text x="177.70" y="27.86" font-size="5.45" text-anchor="start" font-weight="bold" fill="#161616" stroke="#161616" stroke-width="0.18">(3mg·kg<tspan dy="-1.7" font-size="3.0">-1</tspan><tspan dy="1.7">)</tspan></text>
<line x1="152.50" y1="30.50" x2="158.00" y2="30.50" stroke="#86a6ea" stroke-width="0.7"/>
<line x1="155.20" y1="28.90" x2="155.20" y2="32.10" stroke="#86a6ea" stroke-width="0.6"/>
<circle cx="155.2" cy="30.50" r="0.85" fill="#86a6ea"/>
<text x="161.70" y="36.98" font-size="5.5" text-anchor="start" font-weight="bold" fill="#161616" stroke="#161616" stroke-width="0.18">FZ-M</text>
<text x="176.70" y="36.96" font-size="5.45" text-anchor="start" font-weight="bold" fill="#161616" stroke="#161616" stroke-width="0.18">(12mg·kg<tspan dy="-1.7" font-size="3.0">-1</tspan><tspan dy="1.7">)</tspan></text>
<line x1="152.50" y1="39.00" x2="158.00" y2="39.00" stroke="#6e70d4" stroke-width="0.7"/>
<line x1="155.20" y1="37.40" x2="155.20" y2="40.60" stroke="#6e70d4" stroke-width="0.6"/>
<circle cx="155.2" cy="39.00" r="0.85" fill="#6e70d4"/>
<text x="161.70" y="46.18" font-size="5.5" text-anchor="start" font-weight="bold" fill="#161616" stroke="#161616" stroke-width="0.18">FZ-H</text>
<text x="178.70" y="46.16" font-size="5.45" text-anchor="start" font-weight="bold" fill="#161616" stroke="#161616" stroke-width="0.18">(48mg·kg<tspan dy="-1.7" font-size="3.0">-1</tspan><tspan dy="1.7">)</tspan></text>
<line x1="152.50" y1="47.50" x2="158.00" y2="47.50" stroke="#f6d4d8" stroke-width="0.7"/>
<line x1="155.20" y1="45.90" x2="155.20" y2="49.10" stroke="#f6d4d8" stroke-width="0.6"/>
<circle cx="155.2" cy="47.50" r="0.85" fill="#f6d4d8"/>
<text x="161.70" y="55.28" font-size="5.5" text-anchor="start" font-weight="bold" fill="#161616" stroke="#161616" stroke-width="0.18">Prop</text>
<text x="31.40" y="470.80" font-size="9.1" font-weight="bold" fill="#0c0c0c" stroke="#0c0c0c" stroke-width="0.3">J</text>
<line x1="80.11" y1="519.73" x2="80.11" y2="524.13" stroke="#dcd8da" stroke-width="0.6"/>
<line x1="79.11" y1="519.73" x2="81.11" y2="519.73" stroke="#dcd8da" stroke-width="0.5"/>
<line x1="79.11" y1="524.13" x2="81.11" y2="524.13" stroke="#dcd8da" stroke-width="0.5"/>
<line x1="84.76" y1="519.60" x2="84.76" y2="524.00" stroke="#dcd8da" stroke-width="0.6"/>
<line x1="83.76" y1="519.60" x2="85.76" y2="519.60" stroke="#dcd8da" stroke-width="0.5"/>
<line x1="83.76" y1="524.00" x2="85.76" y2="524.00" stroke="#dcd8da" stroke-width="0.5"/>
<line x1="89.41" y1="519.48" x2="89.41" y2="523.88" stroke="#dcd8da" stroke-width="0.6"/>
<line x1="88.41" y1="519.48" x2="90.41" y2="519.48" stroke="#dcd8da" stroke-width="0.5"/>
<line x1="88.41" y1="523.88" x2="90.41" y2="523.88" stroke="#dcd8da" stroke-width="0.5"/>
<line x1="94.06" y1="519.38" x2="94.06" y2="523.78" stroke="#dcd8da" stroke-width="0.6"/>
<line x1="93.06" y1="519.38" x2="95.06" y2="519.38" stroke="#dcd8da" stroke-width="0.5"/>
<line x1="93.06" y1="523.78" x2="95.06" y2="523.78" stroke="#dcd8da" stroke-width="0.5"/>
<line x1="98.71" y1="520.15" x2="98.71" y2="524.55" stroke="#dcd8da" stroke-width="0.6"/>
<line x1="97.71" y1="520.15" x2="99.71" y2="520.15" stroke="#dcd8da" stroke-width="0.5"/>
<line x1="97.71" y1="524.55" x2="99.71" y2="524.55" stroke="#dcd8da" stroke-width="0.5"/>
<line x1="103.36" y1="519.64" x2="103.36" y2="524.04" stroke="#dcd8da" stroke-width="0.6"/>
<line x1="102.36" y1="519.64" x2="104.36" y2="519.64" stroke="#dcd8da" stroke-width="0.5"/>
<line x1="102.36" y1="524.04" x2="104.36" y2="524.04" stroke="#dcd8da" stroke-width="0.5"/>
<line x1="108.02" y1="519.11" x2="108.02" y2="523.51" stroke="#dcd8da" stroke-width="0.6"/>
<line x1="107.02" y1="519.11" x2="109.02" y2="519.11" stroke="#dcd8da" stroke-width="0.5"/>
<line x1="107.02" y1="523.51" x2="109.02" y2="523.51" stroke="#dcd8da" stroke-width="0.5"/>
<line x1="112.67" y1="518.73" x2="112.67" y2="523.13" stroke="#dcd8da" stroke-width="0.6"/>
<line x1="111.67" y1="518.73" x2="113.67" y2="518.73" stroke="#dcd8da" stroke-width="0.5"/>
<line x1="111.67" y1="523.13" x2="113.67" y2="523.13" stroke="#dcd8da" stroke-width="0.5"/>
<line x1="117.32" y1="518.50" x2="117.32" y2="522.90" stroke="#dcd8da" stroke-width="0.6"/>
<line x1="116.32" y1="518.50" x2="118.32" y2="518.50" stroke="#dcd8da" stroke-width="0.5"/>
<line x1="116.32" y1="522.90" x2="118.32" y2="522.90" stroke="#dcd8da" stroke-width="0.5"/>
<line x1="121.97" y1="518.73" x2="121.97" y2="523.13" stroke="#dcd8da" stroke-width="0.6"/>
<line x1="120.97" y1="518.73" x2="122.97" y2="518.73" stroke="#dcd8da" stroke-width="0.5"/>
<line x1="120.97" y1="523.13" x2="122.97" y2="523.13" stroke="#dcd8da" stroke-width="0.5"/>
<line x1="126.62" y1="518.96" x2="126.62" y2="523.36" stroke="#dcd8da" stroke-width="0.6"/>
<line x1="125.62" y1="518.96" x2="127.62" y2="518.96" stroke="#dcd8da" stroke-width="0.5"/>
<line x1="125.62" y1="523.36" x2="127.62" y2="523.36" stroke="#dcd8da" stroke-width="0.5"/>
<line x1="131.27" y1="518.99" x2="131.27" y2="523.39" stroke="#dcd8da" stroke-width="0.6"/>
<line x1="130.27" y1="518.99" x2="132.27" y2="518.99" stroke="#dcd8da" stroke-width="0.5"/>
<line x1="130.27" y1="523.39" x2="132.27" y2="523.39" stroke="#dcd8da" stroke-width="0.5"/>
<line x1="135.92" y1="518.99" x2="135.92" y2="523.39" stroke="#dcd8da" stroke-width="0.6"/>
<line x1="134.92" y1="518.99" x2="136.92" y2="518.99" stroke="#dcd8da" stroke-width="0.5"/>
<line x1="134.92" y1="523.39" x2="136.92" y2="523.39" stroke="#dcd8da" stroke-width="0.5"/>
<line x1="140.58" y1="518.99" x2="140.58" y2="523.39" stroke="#dcd8da" stroke-width="0.6"/>
<line x1="139.58" y1="518.99" x2="141.58" y2="518.99" stroke="#dcd8da" stroke-width="0.5"/>
<line x1="139.58" y1="523.39" x2="141.58" y2="523.39" stroke="#dcd8da" stroke-width="0.5"/>
<line x1="145.23" y1="519.06" x2="145.23" y2="523.46" stroke="#dcd8da" stroke-width="0.6"/>
<line x1="144.23" y1="519.06" x2="146.23" y2="519.06" stroke="#dcd8da" stroke-width="0.5"/>
<line x1="144.23" y1="523.46" x2="146.23" y2="523.46" stroke="#dcd8da" stroke-width="0.5"/>
<line x1="149.88" y1="519.26" x2="149.88" y2="523.66" stroke="#dcd8da" stroke-width="0.6"/>
<line x1="148.88" y1="519.26" x2="150.88" y2="519.26" stroke="#dcd8da" stroke-width="0.5"/>
<line x1="148.88" y1="523.66" x2="150.88" y2="523.66" stroke="#dcd8da" stroke-width="0.5"/>
<line x1="154.53" y1="519.47" x2="154.53" y2="523.87" stroke="#dcd8da" stroke-width="0.6"/>
<line x1="153.53" y1="519.47" x2="155.53" y2="519.47" stroke="#dcd8da" stroke-width="0.5"/>
<line x1="153.53" y1="523.87" x2="155.53" y2="523.87" stroke="#dcd8da" stroke-width="0.5"/>
<line x1="159.18" y1="519.67" x2="159.18" y2="524.07" stroke="#dcd8da" stroke-width="0.6"/>
<line x1="158.18" y1="519.67" x2="160.18" y2="519.67" stroke="#dcd8da" stroke-width="0.5"/>
<line x1="158.18" y1="524.07" x2="160.18" y2="524.07" stroke="#dcd8da" stroke-width="0.5"/>
<polyline points="71.80,523.40 80.11,521.93 84.76,521.80 89.41,521.68 94.06,521.58 98.71,522.35 103.36,521.84 108.02,521.31 112.67,520.93 117.32,520.70 121.97,520.93 126.62,521.16 131.27,521.19 135.92,521.19 140.58,521.19 145.23,521.26 149.88,521.46 154.53,521.67 159.18,521.87" fill="none" stroke="#dcd8da" stroke-width="0.7" stroke-linejoin="round"/>
<circle cx="80.11" cy="521.93" r="0.85" fill="#dcd8da"/>
<circle cx="84.76" cy="521.80" r="0.85" fill="#dcd8da"/>
<circle cx="89.41" cy="521.68" r="0.85" fill="#dcd8da"/>
<circle cx="94.06" cy="521.58" r="0.85" fill="#dcd8da"/>
<circle cx="98.71" cy="522.35" r="0.85" fill="#dcd8da"/>
<circle cx="103.36" cy="521.84" r="0.85" fill="#dcd8da"/>
<circle cx="108.02" cy="521.31" r="0.85" fill="#dcd8da"/>
<circle cx="112.67" cy="520.93" r="0.85" fill="#dcd8da"/>
<circle cx="117.32" cy="520.70" r="0.85" fill="#dcd8da"/>
<circle cx="121.97" cy="520.93" r="0.85" fill="#dcd8da"/>
<circle cx="126.62" cy="521.16" r="0.85" fill="#dcd8da"/>
<circle cx="131.27" cy="521.19" r="0.85" fill="#dcd8da"/>
<circle cx="135.92" cy="521.19" r="0.85" fill="#dcd8da"/>
<circle cx="140.58" cy="521.19" r="0.85" fill="#dcd8da"/>
<circle cx="145.23" cy="521.26" r="0.85" fill="#dcd8da"/>
<circle cx="149.88" cy="521.46" r="0.85" fill="#dcd8da"/>
<circle cx="154.53" cy="521.67" r="0.85" fill="#dcd8da"/>
<circle cx="159.18" cy="521.87" r="0.85" fill="#dcd8da"/>
<line x1="80.11" y1="521.20" x2="80.11" y2="525.60" stroke="#f8dade" stroke-width="0.6"/>
<line x1="79.11" y1="521.20" x2="81.11" y2="521.20" stroke="#f8dade" stroke-width="0.5"/>
<line x1="79.11" y1="525.60" x2="81.11" y2="525.60" stroke="#f8dade" stroke-width="0.5"/>
<line x1="84.76" y1="520.71" x2="84.76" y2="525.11" stroke="#f8dade" stroke-width="0.6"/>
<line x1="83.76" y1="520.71" x2="85.76" y2="520.71" stroke="#f8dade" stroke-width="0.5"/>
<line x1="83.76" y1="525.11" x2="85.76" y2="525.11" stroke="#f8dade" stroke-width="0.5"/>
<line x1="89.41" y1="520.21" x2="89.41" y2="524.61" stroke="#f8dade" stroke-width="0.6"/>
<line x1="88.41" y1="520.21" x2="90.41" y2="520.21" stroke="#f8dade" stroke-width="0.5"/>
<line x1="88.41" y1="524.61" x2="90.41" y2="524.61" stroke="#f8dade" stroke-width="0.5"/>
<line x1="94.06" y1="519.72" x2="94.06" y2="524.12" stroke="#f8dade" stroke-width="0.6"/>
<line x1="93.06" y1="519.72" x2="95.06" y2="519.72" stroke="#f8dade" stroke-width="0.5"/>
<line x1="93.06" y1="524.12" x2="95.06" y2="524.12" stroke="#f8dade" stroke-width="0.5"/>
<line x1="98.71" y1="519.41" x2="98.71" y2="523.81" stroke="#f8dade" stroke-width="0.6"/>
<line x1="97.71" y1="519.41" x2="99.71" y2="519.41" stroke="#f8dade" stroke-width="0.5"/>
<line x1="97.71" y1="523.81" x2="99.71" y2="523.81" stroke="#f8dade" stroke-width="0.5"/>
<line x1="103.36" y1="519.10" x2="103.36" y2="523.50" stroke="#f8dade" stroke-width="0.6"/>
<line x1="102.36" y1="519.10" x2="104.36" y2="519.10" stroke="#f8dade" stroke-width="0.5"/>
<line x1="102.36" y1="523.50" x2="104.36" y2="523.50" stroke="#f8dade" stroke-width="0.5"/>
<line x1="108.02" y1="518.59" x2="108.02" y2="522.99" stroke="#f8dade" stroke-width="0.6"/>
<line x1="107.02" y1="518.59" x2="109.02" y2="518.59" stroke="#f8dade" stroke-width="0.5"/>
<line x1="107.02" y1="522.99" x2="109.02" y2="522.99" stroke="#f8dade" stroke-width="0.5"/>
<line x1="112.67" y1="517.98" x2="112.67" y2="522.38" stroke="#f8dade" stroke-width="0.6"/>
<line x1="111.67" y1="517.98" x2="113.67" y2="517.98" stroke="#f8dade" stroke-width="0.5"/>
<line x1="111.67" y1="522.38" x2="113.67" y2="522.38" stroke="#f8dade" stroke-width="0.5"/>
<line x1="117.32" y1="517.49" x2="117.32" y2="521.89" stroke="#f8dade" stroke-width="0.6"/>
<line x1="116.32" y1="517.49" x2="118.32" y2="517.49" stroke="#f8dade" stroke-width="0.5"/>
<line x1="116.32" y1="521.89" x2="118.32" y2="521.89" stroke="#f8dade" stroke-width="0.5"/>
<line x1="121.97" y1="517.39" x2="121.97" y2="521.79" stroke="#f8dade" stroke-width="0.6"/>
<line x1="120.97" y1="517.39" x2="122.97" y2="517.39" stroke="#f8dade" stroke-width="0.5"/>
<line x1="120.97" y1="521.79" x2="122.97" y2="521.79" stroke="#f8dade" stroke-width="0.5"/>
<line x1="126.62" y1="517.29" x2="126.62" y2="521.69" stroke="#f8dade" stroke-width="0.6"/>
<line x1="125.62" y1="517.29" x2="127.62" y2="517.29" stroke="#f8dade" stroke-width="0.5"/>
<line x1="125.62" y1="521.69" x2="127.62" y2="521.69" stroke="#f8dade" stroke-width="0.5"/>
<line x1="131.27" y1="517.18" x2="131.27" y2="521.58" stroke="#f8dade" stroke-width="0.6"/>
<line x1="130.27" y1="517.18" x2="132.27" y2="517.18" stroke="#f8dade" stroke-width="0.5"/>
<line x1="130.27" y1="521.58" x2="132.27" y2="521.58" stroke="#f8dade" stroke-width="0.5"/>
<line x1="135.92" y1="517.29" x2="135.92" y2="521.69" stroke="#f8dade" stroke-width="0.6"/>
<line x1="134.92" y1="517.29" x2="136.92" y2="517.29" stroke="#f8dade" stroke-width="0.5"/>
<line x1="134.92" y1="521.69" x2="136.92" y2="521.69" stroke="#f8dade" stroke-width="0.5"/>
<line x1="140.58" y1="517.50" x2="140.58" y2="521.90" stroke="#f8dade" stroke-width="0.6"/>
<line x1="139.58" y1="517.50" x2="141.58" y2="517.50" stroke="#f8dade" stroke-width="0.5"/>
<line x1="139.58" y1="521.90" x2="141.58" y2="521.90" stroke="#f8dade" stroke-width="0.5"/>
<line x1="145.23" y1="517.71" x2="145.23" y2="522.11" stroke="#f8dade" stroke-width="0.6"/>
<line x1="144.23" y1="517.71" x2="146.23" y2="517.71" stroke="#f8dade" stroke-width="0.5"/>
<line x1="144.23" y1="522.11" x2="146.23" y2="522.11" stroke="#f8dade" stroke-width="0.5"/>
<line x1="149.88" y1="517.92" x2="149.88" y2="522.32" stroke="#f8dade" stroke-width="0.6"/>
<line x1="148.88" y1="517.92" x2="150.88" y2="517.92" stroke="#f8dade" stroke-width="0.5"/>
<line x1="148.88" y1="522.32" x2="150.88" y2="522.32" stroke="#f8dade" stroke-width="0.5"/>
<line x1="154.53" y1="518.15" x2="154.53" y2="522.55" stroke="#f8dade" stroke-width="0.6"/>
<line x1="153.53" y1="518.15" x2="155.53" y2="518.15" stroke="#f8dade" stroke-width="0.5"/>
<line x1="153.53" y1="522.55" x2="155.53" y2="522.55" stroke="#f8dade" stroke-width="0.5"/>
<line x1="159.18" y1="518.38" x2="159.18" y2="522.78" stroke="#f8dade" stroke-width="0.6"/>
<line x1="158.18" y1="518.38" x2="160.18" y2="518.38" stroke="#f8dade" stroke-width="0.5"/>
<line x1="158.18" y1="522.78" x2="160.18" y2="522.78" stroke="#f8dade" stroke-width="0.5"/>
<polyline points="71.80,523.40 80.11,523.40 84.76,522.91 89.41,522.41 94.06,521.92 98.71,521.61 103.36,521.30 108.02,520.79 112.67,520.18 117.32,519.69 121.97,519.59 126.62,519.49 131.27,519.38 135.92,519.49 140.58,519.70 145.23,519.91 149.88,520.12 154.53,520.35 159.18,520.58" fill="none" stroke="#f8dade" stroke-width="0.7" stroke-linejoin="round"/>
<circle cx="80.11" cy="523.40" r="0.85" fill="#f8dade"/>
<circle cx="84.76" cy="522.91" r="0.85" fill="#f8dade"/>
<circle cx="89.41" cy="522.41" r="0.85" fill="#f8dade"/>
<circle cx="94.06" cy="521.92" r="0.85" fill="#f8dade"/>
<circle cx="98.71" cy="521.61" r="0.85" fill="#f8dade"/>
<circle cx="103.36" cy="521.30" r="0.85" fill="#f8dade"/>
<circle cx="108.02" cy="520.79" r="0.85" fill="#f8dade"/>
<circle cx="112.67" cy="520.18" r="0.85" fill="#f8dade"/>
<circle cx="117.32" cy="519.69" r="0.85" fill="#f8dade"/>
<circle cx="121.97" cy="519.59" r="0.85" fill="#f8dade"/>
<circle cx="126.62" cy="519.49" r="0.85" fill="#f8dade"/>
<circle cx="131.27" cy="519.38" r="0.85" fill="#f8dade"/>
<circle cx="135.92" cy="519.49" r="0.85" fill="#f8dade"/>
<circle cx="140.58" cy="519.70" r="0.85" fill="#f8dade"/>
<circle cx="145.23" cy="519.91" r="0.85" fill="#f8dade"/>
<circle cx="149.88" cy="520.12" r="0.85" fill="#f8dade"/>
<circle cx="154.53" cy="520.35" r="0.85" fill="#f8dade"/>
<circle cx="159.18" cy="520.58" r="0.85" fill="#f8dade"/>
<line x1="80.11" y1="517.92" x2="80.11" y2="521.52" stroke="#cfe0f7" stroke-width="0.6"/>
<line x1="79.11" y1="517.92" x2="81.11" y2="517.92" stroke="#cfe0f7" stroke-width="0.5"/>
<line x1="79.11" y1="521.52" x2="81.11" y2="521.52" stroke="#cfe0f7" stroke-width="0.5"/>
<line x1="84.76" y1="516.89" x2="84.76" y2="520.49" stroke="#cfe0f7" stroke-width="0.6"/>
<line x1="83.76" y1="516.89" x2="85.76" y2="516.89" stroke="#cfe0f7" stroke-width="0.5"/>
<line x1="83.76" y1="520.49" x2="85.76" y2="520.49" stroke="#cfe0f7" stroke-width="0.5"/>
<line x1="89.41" y1="515.90" x2="89.41" y2="519.50" stroke="#cfe0f7" stroke-width="0.6"/>
<line x1="88.41" y1="515.90" x2="90.41" y2="515.90" stroke="#cfe0f7" stroke-width="0.5"/>
<line x1="88.41" y1="519.50" x2="90.41" y2="519.50" stroke="#cfe0f7" stroke-width="0.5"/>
<line x1="94.06" y1="515.08" x2="94.06" y2="518.68" stroke="#cfe0f7" stroke-width="0.6"/>
<line x1="93.06" y1="515.08" x2="95.06" y2="515.08" stroke="#cfe0f7" stroke-width="0.5"/>
<line x1="93.06" y1="518.68" x2="95.06" y2="518.68" stroke="#cfe0f7" stroke-width="0.5"/>
<line x1="98.71" y1="513.95" x2="98.71" y2="517.55" stroke="#cfe0f7" stroke-width="0.6"/>
<line x1="97.71" y1="513.95" x2="99.71" y2="513.95" stroke="#cfe0f7" stroke-width="0.5"/>
<line x1="97.71" y1="517.55" x2="99.71" y2="517.55" stroke="#cfe0f7" stroke-width="0.5"/>
<line x1="103.36" y1="512.40" x2="103.36" y2="516.00" stroke="#cfe0f7" stroke-width="0.6"/>
<line x1="102.36" y1="512.40" x2="104.36" y2="512.40" stroke="#cfe0f7" stroke-width="0.5"/>
<line x1="102.36" y1="516.00" x2="104.36" y2="516.00" stroke="#cfe0f7" stroke-width="0.5"/>
<line x1="108.02" y1="511.63" x2="108.02" y2="515.23" stroke="#cfe0f7" stroke-width="0.6"/>
<line x1="107.02" y1="511.63" x2="109.02" y2="511.63" stroke="#cfe0f7" stroke-width="0.5"/>
<line x1="107.02" y1="515.23" x2="109.02" y2="515.23" stroke="#cfe0f7" stroke-width="0.5"/>
<line x1="112.67" y1="512.44" x2="112.67" y2="516.04" stroke="#cfe0f7" stroke-width="0.6"/>
<line x1="111.67" y1="512.44" x2="113.67" y2="512.44" stroke="#cfe0f7" stroke-width="0.5"/>
<line x1="111.67" y1="516.04" x2="113.67" y2="516.04" stroke="#cfe0f7" stroke-width="0.5"/>
<line x1="117.32" y1="513.59" x2="117.32" y2="517.19" stroke="#cfe0f7" stroke-width="0.6"/>
<line x1="116.32" y1="513.59" x2="118.32" y2="513.59" stroke="#cfe0f7" stroke-width="0.5"/>
<line x1="116.32" y1="517.19" x2="118.32" y2="517.19" stroke="#cfe0f7" stroke-width="0.5"/>
<line x1="121.97" y1="514.62" x2="121.97" y2="518.22" stroke="#cfe0f7" stroke-width="0.6"/>
<line x1="120.97" y1="514.62" x2="122.97" y2="514.62" stroke="#cfe0f7" stroke-width="0.5"/>
<line x1="120.97" y1="518.22" x2="122.97" y2="518.22" stroke="#cfe0f7" stroke-width="0.5"/>
<line x1="126.62" y1="515.37" x2="126.62" y2="518.97" stroke="#cfe0f7" stroke-width="0.6"/>
<line x1="125.62" y1="515.37" x2="127.62" y2="515.37" stroke="#cfe0f7" stroke-width="0.5"/>
<line x1="125.62" y1="518.97" x2="127.62" y2="518.97" stroke="#cfe0f7" stroke-width="0.5"/>
<line x1="131.27" y1="515.80" x2="131.27" y2="519.40" stroke="#cfe0f7" stroke-width="0.6"/>
<line x1="130.27" y1="515.80" x2="132.27" y2="515.80" stroke="#cfe0f7" stroke-width="0.5"/>
<line x1="130.27" y1="519.40" x2="132.27" y2="519.40" stroke="#cfe0f7" stroke-width="0.5"/>
<line x1="135.92" y1="516.23" x2="135.92" y2="519.83" stroke="#cfe0f7" stroke-width="0.6"/>
<line x1="134.92" y1="516.23" x2="136.92" y2="516.23" stroke="#cfe0f7" stroke-width="0.5"/>
<line x1="134.92" y1="519.83" x2="136.92" y2="519.83" stroke="#cfe0f7" stroke-width="0.5"/>
<line x1="140.58" y1="516.64" x2="140.58" y2="520.24" stroke="#cfe0f7" stroke-width="0.6"/>
<line x1="139.58" y1="516.64" x2="141.58" y2="516.64" stroke="#cfe0f7" stroke-width="0.5"/>
<line x1="139.58" y1="520.24" x2="141.58" y2="520.24" stroke="#cfe0f7" stroke-width="0.5"/>
<line x1="145.23" y1="517.03" x2="145.23" y2="520.63" stroke="#cfe0f7" stroke-width="0.6"/>
<line x1="144.23" y1="517.03" x2="146.23" y2="517.03" stroke="#cfe0f7" stroke-width="0.5"/>
<line x1="144.23" y1="520.63" x2="146.23" y2="520.63" stroke="#cfe0f7" stroke-width="0.5"/>
<line x1="149.88" y1="517.41" x2="149.88" y2="521.01" stroke="#cfe0f7" stroke-width="0.6"/>
<line x1="148.88" y1="517.41" x2="150.88" y2="517.41" stroke="#cfe0f7" stroke-width="0.5"/>
<line x1="148.88" y1="521.01" x2="150.88" y2="521.01" stroke="#cfe0f7" stroke-width="0.5"/>
<line x1="154.53" y1="517.80" x2="154.53" y2="521.40" stroke="#cfe0f7" stroke-width="0.6"/>
<line x1="153.53" y1="517.80" x2="155.53" y2="517.80" stroke="#cfe0f7" stroke-width="0.5"/>
<line x1="153.53" y1="521.40" x2="155.53" y2="521.40" stroke="#cfe0f7" stroke-width="0.5"/>
<line x1="159.18" y1="518.19" x2="159.18" y2="521.79" stroke="#cfe0f7" stroke-width="0.6"/>
<line x1="158.18" y1="518.19" x2="160.18" y2="518.19" stroke="#cfe0f7" stroke-width="0.5"/>
<line x1="158.18" y1="521.79" x2="160.18" y2="521.79" stroke="#cfe0f7" stroke-width="0.5"/>
<polyline points="71.80,523.40 80.11,519.72 84.76,518.69 89.41,517.70 94.06,516.88 98.71,515.75 103.36,514.20 108.02,513.43 112.67,514.24 117.32,515.39 121.97,516.42 126.62,517.17 131.27,517.60 135.92,518.03 140.58,518.44 145.23,518.83 149.88,519.21 154.53,519.60 159.18,519.99" fill="none" stroke="#cfe0f7" stroke-width="0.7" stroke-linejoin="round"/>
<circle cx="80.11" cy="519.72" r="0.85" fill="#cfe0f7"/>
<circle cx="84.76" cy="518.69" r="0.85" fill="#cfe0f7"/>
<circle cx="89.41" cy="517.70" r="0.85" fill="#cfe0f7"/>
<circle cx="94.06" cy="516.88" r="0.85" fill="#cfe0f7"/>
<circle cx="98.71" cy="515.75" r="0.85" fill="#cfe0f7"/>
<circle cx="103.36" cy="514.20" r="0.85" fill="#cfe0f7"/>
<circle cx="108.02" cy="513.43" r="0.85" fill="#cfe0f7"/>
<circle cx="112.67" cy="514.24" r="0.85" fill="#cfe0f7"/>
<circle cx="117.32" cy="515.39" r="0.85" fill="#cfe0f7"/>
<circle cx="121.97" cy="516.42" r="0.85" fill="#cfe0f7"/>
<circle cx="126.62" cy="517.17" r="0.85" fill="#cfe0f7"/>
<circle cx="131.27" cy="517.60" r="0.85" fill="#cfe0f7"/>
<circle cx="135.92" cy="518.03" r="0.85" fill="#cfe0f7"/>
<circle cx="140.58" cy="518.44" r="0.85" fill="#cfe0f7"/>
<circle cx="145.23" cy="518.83" r="0.85" fill="#cfe0f7"/>
<circle cx="149.88" cy="519.21" r="0.85" fill="#cfe0f7"/>
<circle cx="154.53" cy="519.60" r="0.85" fill="#cfe0f7"/>
<circle cx="159.18" cy="519.99" r="0.85" fill="#cfe0f7"/>
<line x1="80.11" y1="517.72" x2="80.11" y2="521.72" stroke="#92b2ee" stroke-width="0.6"/>
<line x1="79.11" y1="517.72" x2="81.11" y2="517.72" stroke="#92b2ee" stroke-width="0.5"/>
<line x1="79.11" y1="521.72" x2="81.11" y2="521.72" stroke="#92b2ee" stroke-width="0.5"/>
<line x1="84.76" y1="515.84" x2="84.76" y2="519.84" stroke="#92b2ee" stroke-width="0.6"/>
<line x1="83.76" y1="515.84" x2="85.76" y2="515.84" stroke="#92b2ee" stroke-width="0.5"/>
<line x1="83.76" y1="519.84" x2="85.76" y2="519.84" stroke="#92b2ee" stroke-width="0.5"/>
<line x1="89.41" y1="514.98" x2="89.41" y2="518.98" stroke="#92b2ee" stroke-width="0.6"/>
<line x1="88.41" y1="514.98" x2="90.41" y2="514.98" stroke="#92b2ee" stroke-width="0.5"/>
<line x1="88.41" y1="518.98" x2="90.41" y2="518.98" stroke="#92b2ee" stroke-width="0.5"/>
<line x1="94.06" y1="513.04" x2="94.06" y2="517.04" stroke="#92b2ee" stroke-width="0.6"/>
<line x1="93.06" y1="513.04" x2="95.06" y2="513.04" stroke="#92b2ee" stroke-width="0.5"/>
<line x1="93.06" y1="517.04" x2="95.06" y2="517.04" stroke="#92b2ee" stroke-width="0.5"/>
<line x1="98.71" y1="509.60" x2="98.71" y2="513.60" stroke="#92b2ee" stroke-width="0.6"/>
<line x1="97.71" y1="509.60" x2="99.71" y2="509.60" stroke="#92b2ee" stroke-width="0.5"/>
<line x1="97.71" y1="513.60" x2="99.71" y2="513.60" stroke="#92b2ee" stroke-width="0.5"/>
<line x1="103.36" y1="506.31" x2="103.36" y2="510.31" stroke="#92b2ee" stroke-width="0.6"/>
<line x1="102.36" y1="506.31" x2="104.36" y2="506.31" stroke="#92b2ee" stroke-width="0.5"/>
<line x1="102.36" y1="510.31" x2="104.36" y2="510.31" stroke="#92b2ee" stroke-width="0.5"/>
<line x1="108.02" y1="505.08" x2="108.02" y2="509.08" stroke="#92b2ee" stroke-width="0.6"/>
<line x1="107.02" y1="505.08" x2="109.02" y2="505.08" stroke="#92b2ee" stroke-width="0.5"/>
<line x1="107.02" y1="509.08" x2="109.02" y2="509.08" stroke="#92b2ee" stroke-width="0.5"/>
<line x1="112.67" y1="506.40" x2="112.67" y2="510.40" stroke="#92b2ee" stroke-width="0.6"/>
<line x1="111.67" y1="506.40" x2="113.67" y2="506.40" stroke="#92b2ee" stroke-width="0.5"/>
<line x1="111.67" y1="510.40" x2="113.67" y2="510.40" stroke="#92b2ee" stroke-width="0.5"/>
<line x1="117.32" y1="509.99" x2="117.32" y2="513.99" stroke="#92b2ee" stroke-width="0.6"/>
<line x1="116.32" y1="509.99" x2="118.32" y2="509.99" stroke="#92b2ee" stroke-width="0.5"/>
<line x1="116.32" y1="513.99" x2="118.32" y2="513.99" stroke="#92b2ee" stroke-width="0.5"/>
<line x1="121.97" y1="511.76" x2="121.97" y2="515.76" stroke="#92b2ee" stroke-width="0.6"/>
<line x1="120.97" y1="511.76" x2="122.97" y2="511.76" stroke="#92b2ee" stroke-width="0.5"/>
<line x1="120.97" y1="515.76" x2="122.97" y2="515.76" stroke="#92b2ee" stroke-width="0.5"/>
<line x1="126.62" y1="513.08" x2="126.62" y2="517.08" stroke="#92b2ee" stroke-width="0.6"/>
<line x1="125.62" y1="513.08" x2="127.62" y2="513.08" stroke="#92b2ee" stroke-width="0.5"/>
<line x1="125.62" y1="517.08" x2="127.62" y2="517.08" stroke="#92b2ee" stroke-width="0.5"/>
<line x1="131.27" y1="514.32" x2="131.27" y2="518.32" stroke="#92b2ee" stroke-width="0.6"/>
<line x1="130.27" y1="514.32" x2="132.27" y2="514.32" stroke="#92b2ee" stroke-width="0.5"/>
<line x1="130.27" y1="518.32" x2="132.27" y2="518.32" stroke="#92b2ee" stroke-width="0.5"/>
<line x1="135.92" y1="515.08" x2="135.92" y2="519.08" stroke="#92b2ee" stroke-width="0.6"/>
<line x1="134.92" y1="515.08" x2="136.92" y2="515.08" stroke="#92b2ee" stroke-width="0.5"/>
<line x1="134.92" y1="519.08" x2="136.92" y2="519.08" stroke="#92b2ee" stroke-width="0.5"/>
<line x1="140.58" y1="515.81" x2="140.58" y2="519.81" stroke="#92b2ee" stroke-width="0.6"/>
<line x1="139.58" y1="515.81" x2="141.58" y2="515.81" stroke="#92b2ee" stroke-width="0.5"/>
<line x1="139.58" y1="519.81" x2="141.58" y2="519.81" stroke="#92b2ee" stroke-width="0.5"/>
<line x1="145.23" y1="516.28" x2="145.23" y2="520.28" stroke="#92b2ee" stroke-width="0.6"/>
<line x1="144.23" y1="516.28" x2="146.23" y2="516.28" stroke="#92b2ee" stroke-width="0.5"/>
<line x1="144.23" y1="520.28" x2="146.23" y2="520.28" stroke="#92b2ee" stroke-width="0.5"/>
<line x1="149.88" y1="516.72" x2="149.88" y2="520.72" stroke="#92b2ee" stroke-width="0.6"/>
<line x1="148.88" y1="516.72" x2="150.88" y2="516.72" stroke="#92b2ee" stroke-width="0.5"/>
<line x1="148.88" y1="520.72" x2="150.88" y2="520.72" stroke="#92b2ee" stroke-width="0.5"/>
<line x1="154.53" y1="517.16" x2="154.53" y2="521.16" stroke="#92b2ee" stroke-width="0.6"/>
<line x1="153.53" y1="517.16" x2="155.53" y2="517.16" stroke="#92b2ee" stroke-width="0.5"/>
<line x1="153.53" y1="521.16" x2="155.53" y2="521.16" stroke="#92b2ee" stroke-width="0.5"/>
<line x1="159.18" y1="517.60" x2="159.18" y2="521.60" stroke="#92b2ee" stroke-width="0.6"/>
<line x1="158.18" y1="517.60" x2="160.18" y2="517.60" stroke="#92b2ee" stroke-width="0.5"/>
<line x1="158.18" y1="521.60" x2="160.18" y2="521.60" stroke="#92b2ee" stroke-width="0.5"/>
<polyline points="71.80,523.40 80.11,519.72 84.76,517.84 89.41,516.98 94.06,515.04 98.71,511.60 103.36,508.31 108.02,507.08 112.67,508.40 117.32,511.99 121.97,513.76 126.62,515.08 131.27,516.32 135.92,517.08 140.58,517.81 145.23,518.28 149.88,518.72 154.53,519.16 159.18,519.60" fill="none" stroke="#92b2ee" stroke-width="0.8" stroke-linejoin="round"/>
<circle cx="80.11" cy="519.72" r="0.85" fill="#92b2ee"/>
<circle cx="84.76" cy="517.84" r="0.85" fill="#92b2ee"/>
<circle cx="89.41" cy="516.98" r="0.85" fill="#92b2ee"/>
<circle cx="94.06" cy="515.04" r="0.85" fill="#92b2ee"/>
<circle cx="98.71" cy="511.60" r="0.85" fill="#92b2ee"/>
<circle cx="103.36" cy="508.31" r="0.85" fill="#92b2ee"/>
<circle cx="108.02" cy="507.08" r="0.85" fill="#92b2ee"/>
<circle cx="112.67" cy="508.40" r="0.85" fill="#92b2ee"/>
<circle cx="117.32" cy="511.99" r="0.85" fill="#92b2ee"/>
<circle cx="121.97" cy="513.76" r="0.85" fill="#92b2ee"/>
<circle cx="126.62" cy="515.08" r="0.85" fill="#92b2ee"/>
<circle cx="131.27" cy="516.32" r="0.85" fill="#92b2ee"/>
<circle cx="135.92" cy="517.08" r="0.85" fill="#92b2ee"/>
<circle cx="140.58" cy="517.81" r="0.85" fill="#92b2ee"/>
<circle cx="145.23" cy="518.28" r="0.85" fill="#92b2ee"/>
<circle cx="149.88" cy="518.72" r="0.85" fill="#92b2ee"/>
<circle cx="154.53" cy="519.16" r="0.85" fill="#92b2ee"/>
<circle cx="159.18" cy="519.60" r="0.85" fill="#92b2ee"/>
<line x1="80.11" y1="509.96" x2="80.11" y2="514.76" stroke="#7c7edb" stroke-width="0.6"/>
<line x1="79.11" y1="509.96" x2="81.11" y2="509.96" stroke="#7c7edb" stroke-width="0.5"/>
<line x1="79.11" y1="514.76" x2="81.11" y2="514.76" stroke="#7c7edb" stroke-width="0.5"/>
<line x1="84.76" y1="504.81" x2="84.76" y2="509.61" stroke="#7c7edb" stroke-width="0.6"/>
<line x1="83.76" y1="504.81" x2="85.76" y2="504.81" stroke="#7c7edb" stroke-width="0.5"/>
<line x1="83.76" y1="509.61" x2="85.76" y2="509.61" stroke="#7c7edb" stroke-width="0.5"/>
<line x1="89.41" y1="502.05" x2="89.41" y2="506.85" stroke="#7c7edb" stroke-width="0.6"/>
<line x1="88.41" y1="502.05" x2="90.41" y2="502.05" stroke="#7c7edb" stroke-width="0.5"/>
<line x1="88.41" y1="506.85" x2="90.41" y2="506.85" stroke="#7c7edb" stroke-width="0.5"/>
<line x1="94.06" y1="499.84" x2="94.06" y2="504.64" stroke="#7c7edb" stroke-width="0.6"/>
<line x1="93.06" y1="499.84" x2="95.06" y2="499.84" stroke="#7c7edb" stroke-width="0.5"/>
<line x1="93.06" y1="504.64" x2="95.06" y2="504.64" stroke="#7c7edb" stroke-width="0.5"/>
<line x1="98.71" y1="498.92" x2="98.71" y2="503.72" stroke="#7c7edb" stroke-width="0.6"/>
<line x1="97.71" y1="498.92" x2="99.71" y2="498.92" stroke="#7c7edb" stroke-width="0.5"/>
<line x1="97.71" y1="503.72" x2="99.71" y2="503.72" stroke="#7c7edb" stroke-width="0.5"/>
<line x1="103.36" y1="498.00" x2="103.36" y2="502.80" stroke="#7c7edb" stroke-width="0.6"/>
<line x1="102.36" y1="498.00" x2="104.36" y2="498.00" stroke="#7c7edb" stroke-width="0.5"/>
<line x1="102.36" y1="502.80" x2="104.36" y2="502.80" stroke="#7c7edb" stroke-width="0.5"/>
<line x1="108.02" y1="497.45" x2="108.02" y2="502.25" stroke="#7c7edb" stroke-width="0.6"/>
<line x1="107.02" y1="497.45" x2="109.02" y2="497.45" stroke="#7c7edb" stroke-width="0.5"/>
<line x1="107.02" y1="502.25" x2="109.02" y2="502.25" stroke="#7c7edb" stroke-width="0.5"/>
<line x1="112.67" y1="497.08" x2="112.67" y2="501.88" stroke="#7c7edb" stroke-width="0.6"/>
<line x1="111.67" y1="497.08" x2="113.67" y2="497.08" stroke="#7c7edb" stroke-width="0.5"/>
<line x1="111.67" y1="501.88" x2="113.67" y2="501.88" stroke="#7c7edb" stroke-width="0.5"/>
<line x1="117.32" y1="500.76" x2="117.32" y2="505.56" stroke="#7c7edb" stroke-width="0.6"/>
<line x1="116.32" y1="500.76" x2="118.32" y2="500.76" stroke="#7c7edb" stroke-width="0.5"/>
<line x1="116.32" y1="505.56" x2="118.32" y2="505.56" stroke="#7c7edb" stroke-width="0.5"/>
<line x1="121.97" y1="503.52" x2="121.97" y2="508.32" stroke="#7c7edb" stroke-width="0.6"/>
<line x1="120.97" y1="503.52" x2="122.97" y2="503.52" stroke="#7c7edb" stroke-width="0.5"/>
<line x1="120.97" y1="508.32" x2="122.97" y2="508.32" stroke="#7c7edb" stroke-width="0.5"/>
<line x1="126.62" y1="505.73" x2="126.62" y2="510.53" stroke="#7c7edb" stroke-width="0.6"/>
<line x1="125.62" y1="505.73" x2="127.62" y2="505.73" stroke="#7c7edb" stroke-width="0.5"/>
<line x1="125.62" y1="510.53" x2="127.62" y2="510.53" stroke="#7c7edb" stroke-width="0.5"/>
<line x1="131.27" y1="509.96" x2="131.27" y2="514.76" stroke="#7c7edb" stroke-width="0.6"/>
<line x1="130.27" y1="509.96" x2="132.27" y2="509.96" stroke="#7c7edb" stroke-width="0.5"/>
<line x1="130.27" y1="514.76" x2="132.27" y2="514.76" stroke="#7c7edb" stroke-width="0.5"/>
<line x1="135.92" y1="510.88" x2="135.92" y2="515.68" stroke="#7c7edb" stroke-width="0.6"/>
<line x1="134.92" y1="510.88" x2="136.92" y2="510.88" stroke="#7c7edb" stroke-width="0.5"/>
<line x1="134.92" y1="515.68" x2="136.92" y2="515.68" stroke="#7c7edb" stroke-width="0.5"/>
<line x1="140.58" y1="513.09" x2="140.58" y2="517.89" stroke="#7c7edb" stroke-width="0.6"/>
<line x1="139.58" y1="513.09" x2="141.58" y2="513.09" stroke="#7c7edb" stroke-width="0.5"/>
<line x1="139.58" y1="517.89" x2="141.58" y2="517.89" stroke="#7c7edb" stroke-width="0.5"/>
<line x1="145.23" y1="514.56" x2="145.23" y2="519.36" stroke="#7c7edb" stroke-width="0.6"/>
<line x1="144.23" y1="514.56" x2="146.23" y2="514.56" stroke="#7c7edb" stroke-width="0.5"/>
<line x1="144.23" y1="519.36" x2="146.23" y2="519.36" stroke="#7c7edb" stroke-width="0.5"/>
<line x1="149.88" y1="515.85" x2="149.88" y2="520.65" stroke="#7c7edb" stroke-width="0.6"/>
<line x1="148.88" y1="515.85" x2="150.88" y2="515.85" stroke="#7c7edb" stroke-width="0.5"/>
<line x1="148.88" y1="520.65" x2="150.88" y2="520.65" stroke="#7c7edb" stroke-width="0.5"/>
<line x1="154.53" y1="517.32" x2="154.53" y2="522.12" stroke="#7c7edb" stroke-width="0.6"/>
<line x1="153.53" y1="517.32" x2="155.53" y2="517.32" stroke="#7c7edb" stroke-width="0.5"/>
<line x1="153.53" y1="522.12" x2="155.53" y2="522.12" stroke="#7c7edb" stroke-width="0.5"/>
<line x1="159.18" y1="518.34" x2="159.18" y2="523.14" stroke="#7c7edb" stroke-width="0.6"/>
<line x1="158.18" y1="518.34" x2="160.18" y2="518.34" stroke="#7c7edb" stroke-width="0.5"/>
<line x1="158.18" y1="523.14" x2="160.18" y2="523.14" stroke="#7c7edb" stroke-width="0.5"/>
<polyline points="71.80,523.40 80.11,512.36 84.76,507.21 89.41,504.45 94.06,502.24 98.71,501.32 103.36,500.40 108.02,499.85 112.67,499.48 117.32,503.16 121.97,505.92 126.62,508.13 131.27,512.36 135.92,513.28 140.58,515.49 145.23,516.96 149.88,518.25 154.53,519.72 159.18,520.74" fill="none" stroke="#7c7edb" stroke-width="0.8" stroke-linejoin="round"/>
<circle cx="80.11" cy="512.36" r="0.85" fill="#7c7edb"/>
<circle cx="84.76" cy="507.21" r="0.85" fill="#7c7edb"/>
<circle cx="89.41" cy="504.45" r="0.85" fill="#7c7edb"/>
<circle cx="94.06" cy="502.24" r="0.85" fill="#7c7edb"/>
<circle cx="98.71" cy="501.32" r="0.85" fill="#7c7edb"/>
<circle cx="103.36" cy="500.40" r="0.85" fill="#7c7edb"/>
<circle cx="108.02" cy="499.85" r="0.85" fill="#7c7edb"/>
<circle cx="112.67" cy="499.48" r="0.85" fill="#7c7edb"/>
<circle cx="117.32" cy="503.16" r="0.85" fill="#7c7edb"/>
<circle cx="121.97" cy="505.92" r="0.85" fill="#7c7edb"/>
<circle cx="126.62" cy="508.13" r="0.85" fill="#7c7edb"/>
<circle cx="131.27" cy="512.36" r="0.85" fill="#7c7edb"/>
<circle cx="135.92" cy="513.28" r="0.85" fill="#7c7edb"/>
<circle cx="140.58" cy="515.49" r="0.85" fill="#7c7edb"/>
<circle cx="145.23" cy="516.96" r="0.85" fill="#7c7edb"/>
<circle cx="149.88" cy="518.25" r="0.85" fill="#7c7edb"/>
<circle cx="154.53" cy="519.72" r="0.85" fill="#7c7edb"/>
<circle cx="159.18" cy="520.74" r="0.85" fill="#7c7edb"/>
<line x1="71.40" y1="484.80" x2="71.40" y2="533.00" stroke="#1c1c1c" stroke-width="0.95"/>
<line x1="69.00" y1="486.60" x2="71.40" y2="486.60" stroke="#1c1c1c" stroke-width="0.8075"/>
<text x="68.30" y="488.58" font-size="5.5" text-anchor="end" font-weight="bold" fill="#161616" stroke="#161616" stroke-width="0.18">39.0</text>
<line x1="69.00" y1="495.80" x2="71.40" y2="495.80" stroke="#1c1c1c" stroke-width="0.8075"/>
<text x="68.30" y="497.78" font-size="5.5" text-anchor="end" font-weight="bold" fill="#161616" stroke="#161616" stroke-width="0.18">38.5</text>
<line x1="69.00" y1="505.00" x2="71.40" y2="505.00" stroke="#1c1c1c" stroke-width="0.8075"/>
<text x="68.30" y="506.98" font-size="5.5" text-anchor="end" font-weight="bold" fill="#161616" stroke="#161616" stroke-width="0.18">38.0</text>
<line x1="69.00" y1="514.20" x2="71.40" y2="514.20" stroke="#1c1c1c" stroke-width="0.8075"/>
<text x="68.30" y="516.18" font-size="5.5" text-anchor="end" font-weight="bold" fill="#161616" stroke="#161616" stroke-width="0.18">37.5</text>
<line x1="69.00" y1="523.40" x2="71.40" y2="523.40" stroke="#1c1c1c" stroke-width="0.8075"/>
<text x="68.30" y="525.38" font-size="5.5" text-anchor="end" font-weight="bold" fill="#161616" stroke="#161616" stroke-width="0.18">37.0</text>
<line x1="69.00" y1="532.60" x2="71.40" y2="532.60" stroke="#1c1c1c" stroke-width="0.8075"/>
<text x="68.30" y="534.58" font-size="5.5" text-anchor="end" font-weight="bold" fill="#161616" stroke="#161616" stroke-width="0.18">36.5</text>
<line x1="71.35" y1="533.90" x2="160.85" y2="533.90" stroke="#1c1c1c" stroke-width="0.95"/>
<line x1="71.80" y1="533.90" x2="71.80" y2="535.90" stroke="#1c1c1c" stroke-width="0.8"/>
<text x="71.80" y="541.38" font-size="5.5" text-anchor="middle" font-weight="bold" fill="#161616" stroke="#161616" stroke-width="0.18">0</text>
<line x1="82.88" y1="533.90" x2="82.88" y2="535.90" stroke="#1c1c1c" stroke-width="0.8"/>
<text x="82.88" y="541.38" font-size="5.5" text-anchor="middle" font-weight="bold" fill="#161616" stroke="#161616" stroke-width="0.18">20</text>
<line x1="93.95" y1="533.90" x2="93.95" y2="535.90" stroke="#1c1c1c" stroke-width="0.8"/>
<text x="93.95" y="541.38" font-size="5.5" text-anchor="middle" font-weight="bold" fill="#161616" stroke="#161616" stroke-width="0.18">40</text>
<line x1="105.03" y1="533.90" x2="105.03" y2="535.90" stroke="#1c1c1c" stroke-width="0.8"/>
<text x="105.03" y="541.38" font-size="5.5" text-anchor="middle" font-weight="bold" fill="#161616" stroke="#161616" stroke-width="0.18">60</text>
<line x1="116.10" y1="533.90" x2="116.10" y2="535.90" stroke="#1c1c1c" stroke-width="0.8"/>
<text x="116.10" y="541.38" font-size="5.5" text-anchor="middle" font-weight="bold" fill="#161616" stroke="#161616" stroke-width="0.18">80</text>
<line x1="127.18" y1="533.90" x2="127.18" y2="535.90" stroke="#1c1c1c" stroke-width="0.8"/>
<text x="127.18" y="541.38" font-size="5.5" text-anchor="middle" font-weight="bold" fill="#161616" stroke="#161616" stroke-width="0.18">100</text>
<line x1="138.25" y1="533.90" x2="138.25" y2="535.90" stroke="#1c1c1c" stroke-width="0.8"/>
<text x="138.25" y="541.38" font-size="5.5" text-anchor="middle" font-weight="bold" fill="#161616" stroke="#161616" stroke-width="0.18">120</text>
<line x1="149.32" y1="533.90" x2="149.32" y2="535.90" stroke="#1c1c1c" stroke-width="0.8"/>
<text x="149.32" y="541.38" font-size="5.5" text-anchor="middle" font-weight="bold" fill="#161616" stroke="#161616" stroke-width="0.18">140</text>
<line x1="160.40" y1="533.90" x2="160.40" y2="535.90" stroke="#1c1c1c" stroke-width="0.8"/>
<text x="156.00" y="541.38" font-size="5.5" text-anchor="start" font-weight="bold" fill="#161616" stroke="#161616" stroke-width="0.18">160</text>
<text x="165.80" y="541.27" font-size="5.2" text-anchor="start" font-weight="bold" fill="#161616" stroke="#161616" stroke-width="0.18">(min)</text>
<text x="48.99" y="510.00" font-size="5.8" text-anchor="middle" font-weight="bold" fill="#161616" transform="rotate(-90 48.99 510.00)" stroke="#161616" stroke-width="0.18">Temperature (℃)</text>
<line x1="161.90" y1="484.30" x2="167.40" y2="484.30" stroke="#d0d0d4" stroke-width="0.7"/>
<line x1="164.60" y1="482.60" x2="164.60" y2="486.00" stroke="#d0d0d4" stroke-width="0.6"/>
<circle cx="164.6" cy="484.30" r="0.85" fill="#d0d0d4"/>
<text x="171.90" y="486.14" font-size="5.1" text-anchor="start" font-weight="bold" fill="#161616" stroke="#161616" stroke-width="0.18">Con</text>
<line x1="161.90" y1="492.50" x2="167.40" y2="492.50" stroke="#92b2ee" stroke-width="0.7"/>
<line x1="164.60" y1="490.80" x2="164.60" y2="494.20" stroke="#92b2ee" stroke-width="0.6"/>
<circle cx="164.6" cy="492.50" r="0.85" fill="#92b2ee"/>
<text x="171.90" y="494.34" font-size="5.1" text-anchor="start" font-weight="bold" fill="#161616" stroke="#161616" stroke-width="0.18">FZL-L</text>
<text x="188.90" y="494.46" font-size="5.45" text-anchor="start" font-weight="bold" fill="#161616" stroke="#161616" stroke-width="0.18">(0.45mg.kg<tspan dy="-1.7" font-size="3.1">-1</tspan><tspan dy="1.7">)</tspan></text>
<line x1="161.90" y1="500.80" x2="167.40" y2="500.80" stroke="#cfe0f7" stroke-width="0.7"/>
<line x1="164.60" y1="499.10" x2="164.60" y2="502.50" stroke="#cfe0f7" stroke-width="0.6"/>
<circle cx="164.6" cy="500.80" r="0.85" fill="#cfe0f7"/>
<text x="171.90" y="502.64" font-size="5.1" text-anchor="start" font-weight="bold" fill="#161616" stroke="#161616" stroke-width="0.18">FZL-M</text>
<text x="187.90" y="502.76" font-size="5.45" text-anchor="start" font-weight="bold" fill="#161616" stroke="#161616" stroke-width="0.18">(1.8mg.kg<tspan dy="-1.7" font-size="3.1">-1</tspan><tspan dy="1.7">)</tspan></text>
<line x1="161.90" y1="509.10" x2="167.40" y2="509.10" stroke="#6e70d4" stroke-width="0.7"/>
<line x1="164.60" y1="507.40" x2="164.60" y2="510.80" stroke="#6e70d4" stroke-width="0.6"/>
<circle cx="164.6" cy="509.10" r="0.85" fill="#6e70d4"/>
<text x="171.90" y="510.94" font-size="5.1" text-anchor="start" font-weight="bold" fill="#161616" stroke="#161616" stroke-width="0.18">FZL-H</text>
<text x="189.70" y="511.06" font-size="5.45" text-anchor="start" font-weight="bold" fill="#161616" stroke="#161616" stroke-width="0.18">(7.2mg.kg<tspan dy="-1.7" font-size="3.1">-1</tspan><tspan dy="1.7">)</tspan></text>
<line x1="161.90" y1="516.90" x2="167.40" y2="516.90" stroke="#f6d4d8" stroke-width="0.7"/>
<line x1="164.60" y1="515.20" x2="164.60" y2="518.60" stroke="#f6d4d8" stroke-width="0.6"/>
<circle cx="164.6" cy="516.90" r="0.85" fill="#f6d4d8"/>
<text x="171.90" y="518.74" font-size="5.1" text-anchor="start" font-weight="bold" fill="#161616" stroke="#161616" stroke-width="0.18">Prop</text>
<text x="197.30" y="9.00" font-size="9.1" font-weight="bold" fill="#0c0c0c" stroke="#0c0c0c" stroke-width="0.3">B</text>
<line x1="247.60" y1="44.60" x2="247.60" y2="42.10" stroke="#1c1c1c" stroke-width="0.7"/>
<line x1="245.01" y1="42.10" x2="250.19" y2="42.10" stroke="#1c1c1c" stroke-width="0.7"/>
<rect x="244.40" y="45.00" width="6.40" height="12.70" fill="#ffffff" stroke="#1c1c1c" stroke-width="0.8"/>
<text x="247.70" y="69.31" font-size="5.3" text-anchor="middle" font-weight="bold" fill="#161616" stroke="#161616" stroke-width="0.18">Con</text>
<line x1="257.70" y1="36.50" x2="257.70" y2="34.90" stroke="#1c1c1c" stroke-width="0.7"/>
<line x1="255.25" y1="34.90" x2="260.15" y2="34.90" stroke="#1c1c1c" stroke-width="0.7"/>
<rect x="254.70" y="36.90" width="6.00" height="20.80" fill="#d9e6f8" stroke="#1c1c1c" stroke-width="0.8"/>
<text x="257.80" y="69.31" font-size="5.3" text-anchor="middle" font-weight="bold" fill="#161616" stroke="#161616" stroke-width="0.18">L</text>
<text x="257.70" y="35.00" font-size="5.4" text-anchor="middle" font-weight="bold" fill="#2c2c2c">*</text>
<line x1="267.70" y1="31.30" x2="267.70" y2="29.50" stroke="#1c1c1c" stroke-width="0.7"/>
<line x1="265.11" y1="29.50" x2="270.29" y2="29.50" stroke="#1c1c1c" stroke-width="0.7"/>
<rect x="264.50" y="31.70" width="6.40" height="26.00" fill="#92b2ee" stroke="#1c1c1c" stroke-width="0.8"/>
<text x="267.80" y="69.31" font-size="5.3" text-anchor="middle" font-weight="bold" fill="#161616" stroke="#161616" stroke-width="0.18">M</text>
<text x="267.70" y="29.20" font-size="5.4" text-anchor="middle" font-weight="bold" fill="#2c2c2c">***</text>
<line x1="277.75" y1="24.30" x2="277.75" y2="22.50" stroke="#1c1c1c" stroke-width="0.7"/>
<line x1="275.19" y1="22.50" x2="280.31" y2="22.50" stroke="#1c1c1c" stroke-width="0.7"/>
<rect x="274.60" y="24.70" width="6.30" height="33.00" fill="#7678d8" stroke="#1c1c1c" stroke-width="0.8"/>
<text x="277.80" y="69.31" font-size="5.3" text-anchor="middle" font-weight="bold" fill="#161616" stroke="#161616" stroke-width="0.18">H</text>
<text x="277.75" y="21.50" font-size="5.4" text-anchor="middle" font-weight="bold" fill="#2c2c2c">***</text>
<line x1="288.00" y1="47.40" x2="288.00" y2="43.30" stroke="#1c1c1c" stroke-width="0.7"/>
<line x1="285.48" y1="43.30" x2="290.52" y2="43.30" stroke="#1c1c1c" stroke-width="0.7"/>
<rect x="284.90" y="47.80" width="6.20" height="9.90" fill="#fce2e5" stroke="#1c1c1c" stroke-width="0.8"/>
<text x="290.70" y="69.31" font-size="5.3" text-anchor="middle" font-weight="bold" fill="#161616" stroke="#161616" stroke-width="0.18">Prop</text>
<line x1="239.10" y1="9.60" x2="239.10" y2="58.15" stroke="#1c1c1c" stroke-width="0.95"/>
<line x1="236.70" y1="12.40" x2="239.10" y2="12.40" stroke="#1c1c1c" stroke-width="0.8075"/>
<text x="235.30" y="14.34" font-size="5.4" text-anchor="end" font-weight="bold" fill="#161616" stroke="#161616" stroke-width="0.18">39.0</text>
<line x1="236.70" y1="21.46" x2="239.10" y2="21.46" stroke="#1c1c1c" stroke-width="0.8075"/>
<text x="235.30" y="23.40" font-size="5.4" text-anchor="end" font-weight="bold" fill="#161616" stroke="#161616" stroke-width="0.18">38.5</text>
<line x1="236.70" y1="30.52" x2="239.10" y2="30.52" stroke="#1c1c1c" stroke-width="0.8075"/>
<text x="235.30" y="32.46" font-size="5.4" text-anchor="end" font-weight="bold" fill="#161616" stroke="#161616" stroke-width="0.18">38.0</text>
<line x1="236.70" y1="39.58" x2="239.10" y2="39.58" stroke="#1c1c1c" stroke-width="0.8075"/>
<text x="235.30" y="41.52" font-size="5.4" text-anchor="end" font-weight="bold" fill="#161616" stroke="#161616" stroke-width="0.18">37.5</text>
<line x1="236.70" y1="48.64" x2="239.10" y2="48.64" stroke="#1c1c1c" stroke-width="0.8075"/>
<text x="235.30" y="50.58" font-size="5.4" text-anchor="end" font-weight="bold" fill="#161616" stroke="#161616" stroke-width="0.18">37.0</text>
<line x1="236.70" y1="57.70" x2="239.10" y2="57.70" stroke="#1c1c1c" stroke-width="0.8075"/>
<text x="235.30" y="59.64" font-size="5.4" text-anchor="end" font-weight="bold" fill="#161616" stroke="#161616" stroke-width="0.18">36.5</text>
<line x1="238.65" y1="57.70" x2="295.60" y2="57.70" stroke="#1c1c1c" stroke-width="0.95"/>
<line x1="255.00" y1="73.20" x2="279.00" y2="73.20" stroke="#1c1c1c" stroke-width="0.7"/>
<text x="269.60" y="80.91" font-size="5.3" text-anchor="middle" font-weight="bold" fill="#161616" stroke="#161616" stroke-width="0.18">FZ - 60 min</text>
<text x="216.97" y="39.40" font-size="5.75" text-anchor="middle" font-weight="bold" fill="#161616" transform="rotate(-90 216.97 39.40)" stroke="#161616" stroke-width="0.18">Temperature (℃)</text>
<path d="M277.8 15.0 q0.3 -1.3 1.6 -1.3 h7.0 q1.3 0 1.6 1.3" fill="none" stroke="#1c1c1c" stroke-width="0.85"/>
<text x="283.00" y="11.84" font-size="4.0" text-anchor="middle" font-weight="bold" fill="#161616" stroke="#161616" stroke-width="0.18">###</text>
<text x="219.80" y="473.60" font-size="9.1" font-weight="bold" fill="#0c0c0c" stroke="#0c0c0c" stroke-width="0.3">K</text>
<line x1="263.85" y1="516.50" x2="263.85" y2="513.80" stroke="#1c1c1c" stroke-width="0.7"/>
<line x1="261.08" y1="513.80" x2="266.62" y2="513.80" stroke="#1c1c1c" stroke-width="0.7"/>
<rect x="260.40" y="516.90" width="6.90" height="12.60" fill="#ffffff" stroke="#1c1c1c" stroke-width="0.8"/>
<text x="263.90" y="536.61" font-size="5.3" text-anchor="middle" font-weight="bold" fill="#161616" stroke="#161616" stroke-width="0.18">Con</text>
<line x1="275.35" y1="508.30" x2="275.35" y2="506.90" stroke="#1c1c1c" stroke-width="0.7"/>
<line x1="272.43" y1="506.90" x2="278.27" y2="506.90" stroke="#1c1c1c" stroke-width="0.7"/>
<rect x="271.70" y="508.70" width="7.30" height="20.80" fill="#d9e6f8" stroke="#1c1c1c" stroke-width="0.8"/>
<text x="275.10" y="536.61" font-size="5.3" text-anchor="middle" font-weight="bold" fill="#161616" stroke="#161616" stroke-width="0.18">L</text>
<text x="275.35" y="506.60" font-size="5.4" text-anchor="middle" font-weight="bold" fill="#2c2c2c">*</text>
<line x1="286.90" y1="502.40" x2="286.90" y2="500.30" stroke="#1c1c1c" stroke-width="0.7"/>
<line x1="284.09" y1="500.30" x2="289.71" y2="500.30" stroke="#1c1c1c" stroke-width="0.7"/>
<rect x="283.40" y="502.80" width="7.00" height="26.70" fill="#92b2ee" stroke="#1c1c1c" stroke-width="0.8"/>
<text x="286.80" y="536.61" font-size="5.3" text-anchor="middle" font-weight="bold" fill="#161616" stroke="#161616" stroke-width="0.18">M</text>
<text x="286.90" y="500.40" font-size="5.4" text-anchor="middle" font-weight="bold" fill="#2c2c2c">***</text>
<line x1="298.30" y1="495.20" x2="298.30" y2="493.40" stroke="#1c1c1c" stroke-width="0.7"/>
<line x1="295.49" y1="493.40" x2="301.11" y2="493.40" stroke="#1c1c1c" stroke-width="0.7"/>
<rect x="294.80" y="495.60" width="7.00" height="33.90" fill="#7678d8" stroke="#1c1c1c" stroke-width="0.8"/>
<text x="297.60" y="536.61" font-size="5.3" text-anchor="middle" font-weight="bold" fill="#161616" stroke="#161616" stroke-width="0.18">H</text>
<text x="298.30" y="492.90" font-size="5.4" text-anchor="middle" font-weight="bold" fill="#2c2c2c">***</text>
<line x1="309.25" y1="519.20" x2="309.25" y2="514.40" stroke="#1c1c1c" stroke-width="0.7"/>
<line x1="306.48" y1="514.40" x2="312.02" y2="514.40" stroke="#1c1c1c" stroke-width="0.7"/>
<rect x="305.80" y="519.60" width="6.90" height="9.90" fill="#fce2e5" stroke="#1c1c1c" stroke-width="0.8"/>
<text x="311.00" y="536.61" font-size="5.3" text-anchor="middle" font-weight="bold" fill="#161616" stroke="#161616" stroke-width="0.18">Prop</text>
<line x1="256.90" y1="477.60" x2="256.90" y2="529.95" stroke="#1c1c1c" stroke-width="0.95"/>
<line x1="254.50" y1="480.30" x2="256.90" y2="480.30" stroke="#1c1c1c" stroke-width="0.8075"/>
<text x="253.10" y="482.24" font-size="5.4" text-anchor="end" font-weight="bold" fill="#161616" stroke="#161616" stroke-width="0.18">39.0</text>
<line x1="254.50" y1="490.14" x2="256.90" y2="490.14" stroke="#1c1c1c" stroke-width="0.8075"/>
<text x="253.10" y="492.08" font-size="5.4" text-anchor="end" font-weight="bold" fill="#161616" stroke="#161616" stroke-width="0.18">38.5</text>
<line x1="254.50" y1="499.98" x2="256.90" y2="499.98" stroke="#1c1c1c" stroke-width="0.8075"/>
<text x="253.10" y="501.92" font-size="5.4" text-anchor="end" font-weight="bold" fill="#161616" stroke="#161616" stroke-width="0.18">38.0</text>
<line x1="254.50" y1="509.82" x2="256.90" y2="509.82" stroke="#1c1c1c" stroke-width="0.8075"/>
<text x="253.10" y="511.76" font-size="5.4" text-anchor="end" font-weight="bold" fill="#161616" stroke="#161616" stroke-width="0.18">37.5</text>
<line x1="254.50" y1="519.66" x2="256.90" y2="519.66" stroke="#1c1c1c" stroke-width="0.8075"/>
<text x="253.10" y="521.60" font-size="5.4" text-anchor="end" font-weight="bold" fill="#161616" stroke="#161616" stroke-width="0.18">37.0</text>
<line x1="254.50" y1="529.50" x2="256.90" y2="529.50" stroke="#1c1c1c" stroke-width="0.8075"/>
<text x="253.10" y="531.44" font-size="5.4" text-anchor="end" font-weight="bold" fill="#161616" stroke="#161616" stroke-width="0.18">36.5</text>
<line x1="256.45" y1="529.50" x2="317.00" y2="529.50" stroke="#1c1c1c" stroke-width="0.95"/>
<line x1="272.40" y1="539.90" x2="297.80" y2="539.90" stroke="#1c1c1c" stroke-width="0.7"/>
<text x="286.20" y="547.14" font-size="5.1" text-anchor="middle" font-weight="bold" fill="#161616" stroke="#161616" stroke-width="0.18">FZL- 60 min</text>
<text x="234.32" y="507.60" font-size="5.9" text-anchor="middle" font-weight="bold" fill="#161616" transform="rotate(-90 234.32 507.60)" stroke="#161616" stroke-width="0.18">Temperature (℃)</text>
<path d="M298.6 485.4 q0.3 -1.5 1.8 -1.5 h7.0 q1.5 0 1.8 1.5" fill="none" stroke="#1c1c1c" stroke-width="0.85"/>
<text x="303.90" y="482.08" font-size="4.1" text-anchor="middle" font-weight="bold" fill="#161616" stroke="#161616" stroke-width="0.18">###</text>
<text x="10.20" y="86.40" font-size="9.1" font-weight="bold" fill="#0c0c0c" stroke="#0c0c0c" stroke-width="0.3">C</text>
<text x="20.40" y="96.51" font-size="5.3" text-anchor="middle" font-weight="normal" fill="#161616" stroke="#161616" stroke-width="0.3">Con</text>
<text x="53.40" y="96.51" font-size="5.3" text-anchor="middle" font-weight="normal" fill="#161616" stroke="#161616" stroke-width="0.3">FZ</text>
<text x="86.50" y="96.51" font-size="5.3" text-anchor="middle" font-weight="normal" fill="#161616" stroke="#161616" stroke-width="0.3">Prop</text>
<rect x="2.80" y="97.90" width="108.10" height="43.00" fill="#060606"/>
<defs>
<linearGradient id="rb" x1="0" y1="0" x2="0" y2="1">
<stop offset="0" stop-color="#e01818"/><stop offset="0.2" stop-color="#f09a18"/><stop offset="0.36" stop-color="#e8e020"/>
<stop offset="0.55" stop-color="#20c040"/><stop offset="0.72" stop-color="#20c0d0"/><stop offset="0.88" stop-color="#2040e0"/><stop offset="1" stop-color="#7020b0"/>
</linearGradient>
<radialGradient id="mg" cx="0.5" cy="0.56" r="0.6"><stop offset="0" stop-color="#d2d2d2"/><stop offset="0.35" stop-color="#bcbcbc"/><stop offset="0.7" stop-color="#a2a2a2"/><stop offset="1" stop-color="#767676"/></radialGradient>
<filter id="bl" x="-20%" y="-20%" width="140%" height="140%"><feGaussianBlur stdDeviation="0.55"/></filter>
<filter id="bl2" x="-30%" y="-30%" width="160%" height="160%"><feGaussianBlur stdDeviation="1.1"/></filter>
<filter id="bl3" x="-30%" y="-30%" width="160%" height="160%"><feGaussianBlur stdDeviation="0.4"/></filter>
</defs>
<g transform="translate(18.60 0) scale(1.0 1)" filter="url(#bl)">
<path d="M0.00 104.30 C1.50 104.30 2.30 105.20 2.50 106.80 C2.70 107.90 3.20 108.60 4.40 108.90 C8.00 109.00 11.00 108.20 13.80 107.40 L14.50 108.70 C11.40 110.60 8.00 112.60 5.80 115.60 C5.40 118.00 5.70 120.50 6.10 122.50 C6.50 126.00 7.00 129.00 8.60 131.00 L14.80 133.80 L14.40 135.40 C11.00 136.20 6.00 136.80 3.40 136.50 C2.20 136.80 1.20 137.20 0.90 138.20 L0.35 139.90 L-0.35 139.90 L-0.90 138.20 C-1.20 137.20 -2.20 136.80 -3.40 136.50 C-6.00 136.80 -11.00 136.20 -14.40 135.40 L-14.80 133.80 L-8.60 131.00 C-7.00 129.00 -6.50 126.00 -6.10 122.50 C-5.70 120.50 -5.40 118.00 -5.80 115.60 C-8.00 112.60 -11.40 110.60 -14.50 108.70 L-13.80 107.40 C-11.00 108.20 -8.00 109.00 -4.40 108.90 C-3.20 108.60 -2.70 107.90 -2.50 106.80 C-2.30 105.20 -1.50 104.30 0.00 104.30 Z" fill="url(#mg)" stroke="#5c5c5c" stroke-width="0.7" stroke-linejoin="round"/>
<ellipse cx="0" cy="106.3" rx="1.9" ry="1.7" fill="#484848"/>
<ellipse cx="-9.5" cy="109.6" rx="3.6" ry="1.0" fill="#8a8a8a" opacity="0.6" transform="rotate(-8 -9.5 109.6)"/><ellipse cx="9.5" cy="109.6" rx="3.6" ry="1.0" fill="#8a8a8a" opacity="0.6" transform="rotate(8 9.5 109.6)"/>
<ellipse cx="-10.5" cy="133.6" rx="3.4" ry="1.2" fill="#868686" opacity="0.6" transform="rotate(28 -10.5 133.6)"/><ellipse cx="10.5" cy="133.6" rx="3.4" ry="1.2" fill="#868686" opacity="0.6" transform="rotate(-28 10.5 133.6)"/>
<ellipse cx="0" cy="113.5" rx="4.6" ry="2.6" fill="#9a9ca4" opacity="0.55"/>
</g>
<g transform="translate(18.60 0)" filter="url(#bl3)">
<ellipse cx="-0.8" cy="123.4" rx="2.6" ry="2.0" fill="#5a84ea"/>
<ellipse cx="-1.2" cy="123.2" rx="1.5" ry="1.0" fill="#38d0c8"/>
<ellipse cx="-1.8" cy="123.0" rx="0.7" ry="0.5" fill="#b0e840"/>
<ellipse cx="1.0" cy="126.4" rx="0.9" ry="1.2" fill="#6a78e4"/>
<ellipse cx="-4.0" cy="112.6" rx="0.5" ry="0.5" fill="#50b0c0"/>
<ellipse cx="0.1" cy="139.0" rx="0.4" ry="0.8" fill="#c0d040"/>
</g>
<g transform="translate(53.00 0) scale(1.0 1)" filter="url(#bl)">
<path d="M0.00 104.30 C1.50 104.30 2.30 105.20 2.50 106.80 C2.70 107.90 3.20 108.60 4.40 108.90 C8.00 109.00 11.00 108.20 13.80 107.40 L14.50 108.70 C11.40 110.60 8.00 112.60 5.80 115.60 C5.40 118.00 5.70 120.50 6.10 122.50 C6.50 126.00 7.00 129.00 8.60 131.00 L14.80 133.80 L14.40 135.40 C11.00 136.20 6.00 136.80 3.40 136.50 C2.20 136.80 1.20 137.20 0.90 138.20 L0.35 139.90 L-0.35 139.90 L-0.90 138.20 C-1.20 137.20 -2.20 136.80 -3.40 136.50 C-6.00 136.80 -11.00 136.20 -14.40 135.40 L-14.80 133.80 L-8.60 131.00 C-7.00 129.00 -6.50 126.00 -6.10 122.50 C-5.70 120.50 -5.40 118.00 -5.80 115.60 C-8.00 112.60 -11.40 110.60 -14.50 108.70 L-13.80 107.40 C-11.00 108.20 -8.00 109.00 -4.40 108.90 C-3.20 108.60 -2.70 107.90 -2.50 106.80 C-2.30 105.20 -1.50 104.30 0.00 104.30 Z" fill="url(#mg)" stroke="#5c5c5c" stroke-width="0.7" stroke-linejoin="round"/>
<ellipse cx="0" cy="106.3" rx="1.9" ry="1.7" fill="#484848"/>
<ellipse cx="-9.5" cy="109.6" rx="3.6" ry="1.0" fill="#8a8a8a" opacity="0.6" transform="rotate(-8 -9.5 109.6)"/><ellipse cx="9.5" cy="109.6" rx="3.6" ry="1.0" fill="#8a8a8a" opacity="0.6" transform="rotate(8 9.5 109.6)"/>
<ellipse cx="-10.5" cy="133.6" rx="3.4" ry="1.2" fill="#868686" opacity="0.6" transform="rotate(28 -10.5 133.6)"/><ellipse cx="10.5" cy="133.6" rx="3.4" ry="1.2" fill="#868686" opacity="0.6" transform="rotate(-28 10.5 133.6)"/>
<ellipse cx="0" cy="113.5" rx="4.6" ry="2.6" fill="#9a9ca4" opacity="0.55"/>
</g>
<g transform="translate(53.00 0)" filter="url(#bl3)">
<ellipse cx="0.2" cy="124.4" rx="1.8" ry="2.4" fill="#5a80ea"/>
<ellipse cx="0.6" cy="124.0" rx="0.9" ry="1.1" fill="#38c8d8"/>
<ellipse cx="-0.4" cy="127.6" rx="0.8" ry="1.0" fill="#7a7ae4"/>
<ellipse cx="0.1" cy="139.0" rx="0.4" ry="0.8" fill="#c0d040"/>
</g>
<g transform="translate(85.90 0) scale(1.06 1)" filter="url(#bl)">
<path d="M0.00 104.30 C1.50 104.30 2.30 105.20 2.50 106.80 C2.70 107.90 3.20 108.60 4.40 108.90 C8.00 109.00 11.00 108.20 13.80 107.40 L14.50 108.70 C11.40 110.60 8.00 112.60 5.80 115.60 C5.40 118.00 5.70 120.50 6.10 122.50 C6.50 126.00 7.00 129.00 8.60 131.00 L14.80 133.80 L14.40 135.40 C11.00 136.20 6.00 136.80 3.40 136.50 C2.20 136.80 1.20 137.20 0.90 138.20 L0.35 139.90 L-0.35 139.90 L-0.90 138.20 C-1.20 137.20 -2.20 136.80 -3.40 136.50 C-6.00 136.80 -11.00 136.20 -14.40 135.40 L-14.80 133.80 L-8.60 131.00 C-7.00 129.00 -6.50 126.00 -6.10 122.50 C-5.70 120.50 -5.40 118.00 -5.80 115.60 C-8.00 112.60 -11.40 110.60 -14.50 108.70 L-13.80 107.40 C-11.00 108.20 -8.00 109.00 -4.40 108.90 C-3.20 108.60 -2.70 107.90 -2.50 106.80 C-2.30 105.20 -1.50 104.30 0.00 104.30 Z" fill="url(#mg)" stroke="#5c5c5c" stroke-width="0.7" stroke-linejoin="round"/>
<ellipse cx="0" cy="106.3" rx="1.9" ry="1.7" fill="#484848"/>
<ellipse cx="-9.5" cy="109.6" rx="3.6" ry="1.0" fill="#8a8a8a" opacity="0.6" transform="rotate(-8 -9.5 109.6)"/><ellipse cx="9.5" cy="109.6" rx="3.6" ry="1.0" fill="#8a8a8a" opacity="0.6" transform="rotate(8 9.5 109.6)"/>
<ellipse cx="-10.5" cy="133.6" rx="3.4" ry="1.2" fill="#868686" opacity="0.6" transform="rotate(28 -10.5 133.6)"/><ellipse cx="10.5" cy="133.6" rx="3.4" ry="1.2" fill="#868686" opacity="0.6" transform="rotate(-28 10.5 133.6)"/>
<ellipse cx="0" cy="113.5" rx="4.6" ry="2.6" fill="#9a9ca4" opacity="0.55"/>
</g>
<g transform="translate(85.90 0)" filter="url(#bl3)">
<ellipse cx="-0.4" cy="121.2" rx="2.2" ry="4.6" fill="#4a70e8"/>
<ellipse cx="0.1" cy="120.6" rx="1.1" ry="2.6" fill="#30c8d0"/>
<ellipse cx="-0.2" cy="119.6" rx="0.55" ry="1.0" fill="#a0e850"/>
<ellipse cx="-2.4" cy="117.6" rx="0.8" ry="1.6" fill="#6a80e4"/>
<ellipse cx="0.6" cy="126.8" rx="1.0" ry="1.4" fill="#5468dc"/>
<ellipse cx="-3.0" cy="113.2" rx="0.5" ry="0.5" fill="#50b0c0"/>
<ellipse cx="0.1" cy="139.0" rx="0.4" ry="0.8" fill="#c0d040"/>
</g>
<rect x="107.00" y="101.60" width="1.40" height="36.00" fill="url(#rb)"/>
<rect x="104.40" y="102.40" width="1.20" height="0.60" fill="#555"/>
<rect x="104.40" y="106.60" width="1.20" height="0.60" fill="#555"/>
<rect x="104.40" y="110.80" width="1.20" height="0.60" fill="#555"/>
<rect x="104.40" y="115.00" width="1.20" height="0.60" fill="#555"/>
<rect x="104.40" y="119.20" width="1.20" height="0.60" fill="#555"/>
<rect x="104.40" y="123.40" width="1.20" height="0.60" fill="#555"/>
<rect x="104.40" y="127.60" width="1.20" height="0.60" fill="#555"/>
<rect x="104.40" y="131.80" width="1.20" height="0.60" fill="#555"/>
<rect x="104.40" y="136.00" width="1.20" height="0.60" fill="#555"/>
<line x1="146.25" y1="107.90" x2="146.25" y2="102.50" stroke="#1c1c1c" stroke-width="0.7"/>
<line x1="143.48" y1="102.50" x2="149.02" y2="102.50" stroke="#1c1c1c" stroke-width="0.7"/>
<rect x="142.80" y="108.30" width="6.90" height="27.10" fill="#ffffff" stroke="#1c1c1c" stroke-width="0.8"/>
<text x="143.90" y="143.09" font-size="4.7" text-anchor="middle" font-weight="normal" fill="#161616" stroke="#161616" stroke-width="0.3">Con</text>
<line x1="155.60" y1="125.20" x2="155.60" y2="124.20" stroke="#1c1c1c" stroke-width="0.7"/>
<line x1="153.01" y1="124.20" x2="158.19" y2="124.20" stroke="#1c1c1c" stroke-width="0.7"/>
<rect x="152.40" y="125.60" width="6.40" height="9.80" fill="#92b2ee" stroke="#1c1c1c" stroke-width="0.8"/>
<text x="152.80" y="143.09" font-size="4.7" text-anchor="middle" font-weight="normal" fill="#161616" stroke="#161616" stroke-width="0.3">FZ</text>
<text x="155.60" y="123.90" font-size="6.4" text-anchor="middle" font-weight="bold" fill="#1c1c1c" stroke="#1c1c1c" stroke-width="0.14">**</text>
<line x1="164.95" y1="118.50" x2="164.95" y2="115.60" stroke="#1c1c1c" stroke-width="0.7"/>
<line x1="162.18" y1="115.60" x2="167.72" y2="115.60" stroke="#1c1c1c" stroke-width="0.7"/>
<rect x="161.50" y="118.90" width="6.90" height="16.50" fill="#fce2e5" stroke="#1c1c1c" stroke-width="0.8"/>
<text x="164.20" y="143.09" font-size="4.7" text-anchor="middle" font-weight="normal" fill="#161616" stroke="#161616" stroke-width="0.3">Prop</text>
<line x1="140.30" y1="93.40" x2="140.30" y2="135.80" stroke="#1c1c1c" stroke-width="0.95"/>
<line x1="137.70" y1="98.60" x2="140.30" y2="98.60" stroke="#1c1c1c" stroke-width="0.8075"/>
<text x="135.90" y="100.08" font-size="4.1" text-anchor="end" font-weight="bold" fill="#161616" stroke="#161616" stroke-width="0.18">6000</text>
<line x1="137.70" y1="107.67" x2="140.30" y2="107.67" stroke="#1c1c1c" stroke-width="0.8075"/>
<text x="135.90" y="109.15" font-size="4.1" text-anchor="end" font-weight="bold" fill="#161616" stroke="#161616" stroke-width="0.18">5000</text>
<line x1="137.70" y1="116.75" x2="140.30" y2="116.75" stroke="#1c1c1c" stroke-width="0.8075"/>
<text x="135.90" y="118.23" font-size="4.1" text-anchor="end" font-weight="bold" fill="#161616" stroke="#161616" stroke-width="0.18">4000</text>
<line x1="137.70" y1="125.83" x2="140.30" y2="125.83" stroke="#1c1c1c" stroke-width="0.8075"/>
<text x="135.90" y="127.30" font-size="4.1" text-anchor="end" font-weight="bold" fill="#161616" stroke="#161616" stroke-width="0.18">3000</text>
<line x1="137.70" y1="134.90" x2="140.30" y2="134.90" stroke="#1c1c1c" stroke-width="0.8075"/>
<text x="135.90" y="136.38" font-size="4.1" text-anchor="end" font-weight="bold" fill="#161616" stroke="#161616" stroke-width="0.18">2000</text>
<line x1="139.85" y1="135.40" x2="170.40" y2="135.40" stroke="#1c1c1c" stroke-width="0.95"/>
<path d="M154.0 112.0 q0.3 -1.2 1.5 -1.2 h9.0 q1.2 0 1.5 1.2" fill="none" stroke="#1c1c1c" stroke-width="0.85"/>
<text x="159.80" y="108.86" font-size="4.6" text-anchor="middle" font-weight="bold" fill="#161616" stroke="#161616" stroke-width="0.18">#</text>
<text x="116.43" y="118.60" font-size="5.35" text-anchor="middle" font-weight="bold" fill="#161616" transform="rotate(-90 116.43 118.60)" stroke="#161616" stroke-width="0.18">Mean intensity</text>
<text x="123.27" y="118.80" font-size="5.2" text-anchor="middle" font-weight="bold" fill="#161616" transform="rotate(-90 123.27 118.80)" stroke="#161616" stroke-width="0.18">(cps/mm2)</text>
<text x="184.40" y="86.60" font-size="9.1" font-weight="bold" fill="#0c0c0c" stroke="#0c0c0c" stroke-width="0.3">D</text>
<text x="205.20" y="92.94" font-size="5.4" text-anchor="middle" font-weight="bold" fill="#161616" stroke="#161616" stroke-width="0.18">0 min</text>
<text x="229.20" y="92.94" font-size="5.4" text-anchor="middle" font-weight="bold" fill="#161616" stroke="#161616" stroke-width="0.18">60 min</text>
<text x="194.20" y="112.48" font-size="5.5" text-anchor="end" font-weight="bold" fill="#161616" stroke="#161616" stroke-width="0.18">FZ</text>
<text x="194.20" y="132.48" font-size="5.5" text-anchor="end" font-weight="bold" fill="#161616" stroke="#161616" stroke-width="0.18">Prop</text>
<defs>
<radialGradient id="th1" cx="0.5" cy="0.5" r="0.5">
<stop offset="0" stop-color="#f0707a"/><stop offset="0.40" stop-color="#ee3a44"/><stop offset="0.56" stop-color="#ee3a30"/><stop offset="0.64" stop-color="#f08a20"/><stop offset="0.72" stop-color="#f0e020"/><stop offset="0.82" stop-color="#40d040"/><stop offset="0.91" stop-color="#20c0d0"/><stop offset="1" stop-color="#2050d0" stop-opacity="0"/>
</radialGradient>
<radialGradient id="th2" cx="0.5" cy="0.5" r="0.5">
<stop offset="0" stop-color="#f8a0a8"/><stop offset="0.50" stop-color="#f27078"/><stop offset="0.64" stop-color="#ee4038"/><stop offset="0.72" stop-color="#f0c020"/><stop offset="0.82" stop-color="#40d040"/><stop offset="0.91" stop-color="#20c0d0"/><stop offset="1" stop-color="#2050d0" stop-opacity="0"/>
</radialGradient>
<linearGradient id="thb" x1="0" y1="0" x2="0" y2="1">
<stop offset="0" stop-color="#ffffff"/><stop offset="0.12" stop-color="#f8b0b0"/><stop offset="0.3" stop-color="#e82020"/><stop offset="0.5" stop-color="#f0d020"/><stop offset="0.68" stop-color="#30c840"/><stop offset="0.84" stop-color="#20b0e0"/><stop offset="1" stop-color="#2030c0"/>
</linearGradient>
<clipPath id="dclip"><rect x="196.2" y="96.3" width="49.2" height="45.9"/></clipPath>
</defs>
<rect x="196.20" y="96.30" width="49.20" height="45.90" fill="#121270"/>
<g clip-path="url(#dclip)"><g filter="url(#bl)">
<g transform="rotate(58 206.6 109.6)">
<ellipse cx="206.6" cy="109.6" rx="13.00" ry="9.80" fill="#1f4fd8"/>
<ellipse cx="197.00" cy="110.20" rx="4.2" ry="3.6" fill="#20b4dc"/>
<ellipse cx="206.6" cy="109.6" rx="11.60" ry="8.50" fill="#20b4dc"/>
<ellipse cx="197.00" cy="110.20" rx="3.3" ry="2.8000000000000003" fill="#36cf4a"/>
<ellipse cx="206.6" cy="109.6" rx="10.80" ry="7.70" fill="#36cf4a"/>
<ellipse cx="197.00" cy="110.20" rx="2.6" ry="2.2" fill="#e6e030"/>
<ellipse cx="206.6" cy="109.6" rx="9.80" ry="6.80" fill="#efe428"/>
<ellipse cx="206.6" cy="109.6" rx="8.70" ry="5.80" fill="#f09020"/>
<ellipse cx="206.6" cy="109.6" rx="7.40" ry="4.60" fill="#f03c34"/>
<ellipse cx="206.6" cy="109.6" rx="4.4" ry="2.2" fill="#f2525c"/>
</g>
<g transform="rotate(60 226.4 111.2)">
<ellipse cx="226.4" cy="111.2" rx="12.90" ry="11.10" fill="#1f4fd8"/>
<ellipse cx="218.40" cy="106.60" rx="3.8000000000000003" ry="5.6" fill="#20b4dc"/>
<ellipse cx="226.4" cy="111.2" rx="11.50" ry="9.80" fill="#20b4dc"/>
<ellipse cx="218.40" cy="106.60" rx="2.9000000000000004" ry="4.8" fill="#36cf4a"/>
<ellipse cx="226.4" cy="111.2" rx="10.70" ry="9.00" fill="#36cf4a"/>
<ellipse cx="218.40" cy="106.60" rx="2.2" ry="4.2" fill="#e6e030"/>
<ellipse cx="226.4" cy="111.2" rx="9.70" ry="8.10" fill="#efe428"/>
<ellipse cx="226.4" cy="111.2" rx="8.60" ry="7.10" fill="#f09020"/>
<ellipse cx="226.4" cy="111.2" rx="7.30" ry="5.90" fill="#f03c34"/>
<ellipse cx="226.4" cy="111.2" rx="6.2" ry="4.9" fill="#f26c78"/>
</g>
<g transform="rotate(-52 206.3 131.0)">
<ellipse cx="206.3" cy="131.0" rx="12.50" ry="9.10" fill="#1f4fd8"/>
<ellipse cx="215.90" cy="130.60" rx="4.2" ry="3.0999999999999996" fill="#20b4dc"/>
<ellipse cx="206.3" cy="131.0" rx="11.10" ry="7.80" fill="#20b4dc"/>
<ellipse cx="215.90" cy="130.60" rx="3.3" ry="2.3" fill="#36cf4a"/>
<ellipse cx="206.3" cy="131.0" rx="10.30" ry="7.00" fill="#36cf4a"/>
<ellipse cx="215.90" cy="130.60" rx="2.6" ry="1.7" fill="#e6e030"/>
<ellipse cx="206.3" cy="131.0" rx="9.30" ry="6.10" fill="#efe428"/>
<ellipse cx="206.3" cy="131.0" rx="8.20" ry="5.10" fill="#f09020"/>
<ellipse cx="206.3" cy="131.0" rx="6.90" ry="3.90" fill="#f03c34"/>
<ellipse cx="206.3" cy="131.0" rx="4.0" ry="1.9" fill="#f2525c"/>
</g>
<g transform="rotate(-52 226.6 131.4)">
<ellipse cx="226.6" cy="131.4" rx="12.50" ry="9.10" fill="#1f4fd8"/>
<ellipse cx="236.20" cy="131.00" rx="4.2" ry="3.0999999999999996" fill="#20b4dc"/>
<ellipse cx="226.6" cy="131.4" rx="11.10" ry="7.80" fill="#20b4dc"/>
<ellipse cx="236.20" cy="131.00" rx="3.3" ry="2.3" fill="#36cf4a"/>
<ellipse cx="226.6" cy="131.4" rx="10.30" ry="7.00" fill="#36cf4a"/>
<ellipse cx="236.20" cy="131.00" rx="2.6" ry="1.7" fill="#e6e030"/>
<ellipse cx="226.6" cy="131.4" rx="9.30" ry="6.10" fill="#efe428"/>
<ellipse cx="226.6" cy="131.4" rx="8.20" ry="5.10" fill="#f09020"/>
<ellipse cx="226.6" cy="131.4" rx="6.90" ry="3.90" fill="#f03c34"/>
<ellipse cx="226.6" cy="131.4" rx="4.0" ry="1.9" fill="#f2525c"/>
</g>
</g></g>
<rect x="242.20" y="101.60" width="1.60" height="34.80" fill="url(#thb)"/>
<rect x="238.80" y="98.00" width="5.80" height="2.60" fill="#2a2a34"/>
<rect x="238.80" y="138.40" width="5.80" height="2.60" fill="#2a2a34"/>
<rect x="240.00" y="98.80" width="3.40" height="1.00" fill="#b0b0b8"/>
<rect x="240.00" y="139.20" width="3.40" height="1.00" fill="#b0b0b8"/>
<line x1="280.85" y1="113.80" x2="280.85" y2="113.00" stroke="#1c1c1c" stroke-width="0.7"/>
<line x1="278.87" y1="113.00" x2="282.83" y2="113.00" stroke="#1c1c1c" stroke-width="0.7"/>
<rect x="278.48" y="114.17" width="4.75" height="22.02" fill="#92b2ee" stroke="#1c1c1c" stroke-width="0.75"/>
<line x1="287.05" y1="111.30" x2="287.05" y2="110.60" stroke="#1c1c1c" stroke-width="0.7"/>
<line x1="285.14" y1="110.60" x2="288.96" y2="110.60" stroke="#1c1c1c" stroke-width="0.7"/>
<rect x="284.77" y="111.67" width="4.55" height="24.52" fill="#fce2e5" stroke="#1c1c1c" stroke-width="0.75"/>
<line x1="296.05" y1="106.80" x2="296.05" y2="103.50" stroke="#1c1c1c" stroke-width="0.7"/>
<line x1="294.07" y1="103.50" x2="298.03" y2="103.50" stroke="#1c1c1c" stroke-width="0.7"/>
<rect x="293.68" y="107.17" width="4.75" height="29.02" fill="#92b2ee" stroke="#1c1c1c" stroke-width="0.75"/>
<text x="296.05" y="103.00" font-size="5.2" text-anchor="middle" font-weight="bold" fill="#2c2c2c">*</text>
<line x1="302.25" y1="116.20" x2="302.25" y2="114.60" stroke="#1c1c1c" stroke-width="0.7"/>
<line x1="300.34" y1="114.60" x2="304.16" y2="114.60" stroke="#1c1c1c" stroke-width="0.7"/>
<rect x="299.98" y="116.58" width="4.55" height="19.62" fill="#fce2e5" stroke="#1c1c1c" stroke-width="0.75"/>
<line x1="313.05" y1="122.50" x2="313.05" y2="122.00" stroke="#1c1c1c" stroke-width="0.7"/>
<line x1="311.14" y1="122.00" x2="314.96" y2="122.00" stroke="#1c1c1c" stroke-width="0.7"/>
<rect x="310.77" y="122.88" width="4.55" height="13.32" fill="#92b2ee" stroke="#1c1c1c" stroke-width="0.75"/>
<line x1="319.50" y1="121.70" x2="319.50" y2="121.20" stroke="#1c1c1c" stroke-width="0.7"/>
<line x1="317.48" y1="121.20" x2="321.52" y2="121.20" stroke="#1c1c1c" stroke-width="0.7"/>
<rect x="317.07" y="122.08" width="4.85" height="14.12" fill="#fce2e5" stroke="#1c1c1c" stroke-width="0.75"/>
<line x1="328.85" y1="113.80" x2="328.85" y2="110.40" stroke="#1c1c1c" stroke-width="0.7"/>
<line x1="326.87" y1="110.40" x2="330.83" y2="110.40" stroke="#1c1c1c" stroke-width="0.7"/>
<rect x="326.48" y="114.17" width="4.75" height="22.02" fill="#92b2ee" stroke="#1c1c1c" stroke-width="0.75"/>
<text x="328.85" y="109.00" font-size="5.2" text-anchor="middle" font-weight="bold" fill="#2c2c2c">*</text>
<line x1="335.20" y1="127.30" x2="335.20" y2="124.50" stroke="#1c1c1c" stroke-width="0.7"/>
<line x1="333.18" y1="124.50" x2="337.22" y2="124.50" stroke="#1c1c1c" stroke-width="0.7"/>
<rect x="332.77" y="127.67" width="4.85" height="8.52" fill="#fce2e5" stroke="#1c1c1c" stroke-width="0.75"/>
<line x1="276.00" y1="99.00" x2="276.00" y2="136.60" stroke="#1c1c1c" stroke-width="0.95"/>
<line x1="274.20" y1="100.50" x2="276.00" y2="100.50" stroke="#1c1c1c" stroke-width="0.8075"/>
<text x="273.40" y="102.30" font-size="5.0" text-anchor="end" font-weight="bold" fill="#161616" stroke="#161616" stroke-width="0.18">39.0</text>
<line x1="274.20" y1="107.52" x2="276.00" y2="107.52" stroke="#1c1c1c" stroke-width="0.8075"/>
<text x="273.40" y="109.32" font-size="5.0" text-anchor="end" font-weight="bold" fill="#161616" stroke="#161616" stroke-width="0.18">38.5</text>
<line x1="274.20" y1="114.54" x2="276.00" y2="114.54" stroke="#1c1c1c" stroke-width="0.8075"/>
<text x="273.40" y="116.34" font-size="5.0" text-anchor="end" font-weight="bold" fill="#161616" stroke="#161616" stroke-width="0.18">38.0</text>
<line x1="274.20" y1="121.56" x2="276.00" y2="121.56" stroke="#1c1c1c" stroke-width="0.8075"/>
<text x="273.40" y="123.36" font-size="5.0" text-anchor="end" font-weight="bold" fill="#161616" stroke="#161616" stroke-width="0.18">37.5</text>
<line x1="274.20" y1="128.58" x2="276.00" y2="128.58" stroke="#1c1c1c" stroke-width="0.8075"/>
<text x="273.40" y="130.38" font-size="5.0" text-anchor="end" font-weight="bold" fill="#161616" stroke="#161616" stroke-width="0.18">37.0</text>
<line x1="274.20" y1="135.60" x2="276.00" y2="135.60" stroke="#1c1c1c" stroke-width="0.8075"/>
<text x="273.40" y="137.40" font-size="5.0" text-anchor="end" font-weight="bold" fill="#161616" stroke="#161616" stroke-width="0.18">36.5</text>
<text x="258.76" y="117.20" font-size="5.45" text-anchor="middle" font-weight="bold" fill="#161616" transform="rotate(-90 258.76 117.20)" stroke="#161616" stroke-width="0.18">Temperature (℃)</text>
<line x1="275.55" y1="136.20" x2="306.00" y2="136.20" stroke="#1c1c1c" stroke-width="0.95"/>
<line x1="309.10" y1="136.20" x2="341.00" y2="136.20" stroke="#1c1c1c" stroke-width="0.95"/>
<text x="290.30" y="97.07" font-size="5.2" text-anchor="middle" font-weight="bold" fill="#161616" stroke="#161616" stroke-width="0.18">BAT</text>
<text x="319.50" y="96.64" font-size="5.4" text-anchor="middle" font-weight="bold" fill="#161616" stroke="#161616" stroke-width="0.18">Back</text>
<line x1="283.90" y1="136.20" x2="283.90" y2="137.60" stroke="#1c1c1c" stroke-width="0.7"/>
<text x="283.90" y="141.45" font-size="4.3" text-anchor="middle" font-weight="bold" fill="#161616" stroke="#161616" stroke-width="0.18">0</text>
<line x1="299.10" y1="136.20" x2="299.10" y2="137.60" stroke="#1c1c1c" stroke-width="0.7"/>
<text x="299.10" y="141.45" font-size="4.3" text-anchor="middle" font-weight="bold" fill="#161616" stroke="#161616" stroke-width="0.18">60</text>
<line x1="316.20" y1="136.20" x2="316.20" y2="137.60" stroke="#1c1c1c" stroke-width="0.7"/>
<text x="316.20" y="141.45" font-size="4.3" text-anchor="middle" font-weight="bold" fill="#161616" stroke="#161616" stroke-width="0.18">0</text>
<line x1="331.90" y1="136.20" x2="331.90" y2="137.60" stroke="#1c1c1c" stroke-width="0.7"/>
<text x="331.90" y="141.45" font-size="4.3" text-anchor="middle" font-weight="bold" fill="#161616" stroke="#161616" stroke-width="0.18">60</text>
<text x="335.80" y="141.21" font-size="4.2" text-anchor="start" font-weight="normal" fill="#161616" stroke="#161616" stroke-width="0.16">(min)</text>
<text x="11.00" y="157.20" font-size="9.1" font-weight="bold" fill="#0c0c0c" stroke="#0c0c0c" stroke-width="0.3">E</text>
<line x1="53.15" y1="182.20" x2="53.15" y2="181.10" stroke="#1c1c1c" stroke-width="0.7"/>
<line x1="51.03" y1="181.10" x2="55.27" y2="181.10" stroke="#1c1c1c" stroke-width="0.7"/>
<rect x="50.60" y="182.60" width="5.10" height="32.00" fill="#ffffff" stroke="#1c1c1c" stroke-width="0.8"/>
<text x="55.01" y="217.30" font-size="4.9" text-anchor="end" font-weight="bold" fill="#161616" transform="rotate(-90 55.01 217.30)" stroke="#161616" stroke-width="0.18">Con</text>
<line x1="62.25" y1="194.00" x2="62.25" y2="193.40" stroke="#1c1c1c" stroke-width="0.7"/>
<line x1="60.13" y1="193.40" x2="64.37" y2="193.40" stroke="#1c1c1c" stroke-width="0.7"/>
<rect x="59.70" y="194.40" width="5.10" height="20.20" fill="#dedede" stroke="#1c1c1c" stroke-width="0.8"/>
<text x="64.11" y="217.30" font-size="4.9" text-anchor="end" font-weight="bold" fill="#161616" transform="rotate(-90 64.11 217.30)" stroke="#161616" stroke-width="0.18">CCCP</text>
<text x="62.25" y="191.40" font-size="6.0" text-anchor="middle" font-weight="bold" fill="#1c1c1c" stroke="#1c1c1c" stroke-width="0.14">***</text>
<line x1="71.40" y1="186.90" x2="71.40" y2="185.80" stroke="#1c1c1c" stroke-width="0.7"/>
<line x1="69.24" y1="185.80" x2="73.56" y2="185.80" stroke="#1c1c1c" stroke-width="0.7"/>
<rect x="68.80" y="187.30" width="5.20" height="27.30" fill="#d9e6f8" stroke="#1c1c1c" stroke-width="0.8"/>
<text x="71.40" y="222.73" font-size="4.8" text-anchor="middle" font-weight="bold" fill="#161616" stroke="#161616" stroke-width="0.18">1</text>
<text x="71.40" y="184.20" font-size="6.0" text-anchor="middle" font-weight="bold" fill="#1c1c1c" stroke="#1c1c1c" stroke-width="0.14">*</text>
<line x1="80.25" y1="186.90" x2="80.25" y2="185.60" stroke="#1c1c1c" stroke-width="0.7"/>
<line x1="78.05" y1="185.60" x2="82.45" y2="185.60" stroke="#1c1c1c" stroke-width="0.7"/>
<rect x="77.60" y="187.30" width="5.30" height="27.30" fill="#92b2ee" stroke="#1c1c1c" stroke-width="0.8"/>
<text x="80.25" y="222.73" font-size="4.8" text-anchor="middle" font-weight="bold" fill="#161616" stroke="#161616" stroke-width="0.18">10</text>
<text x="80.25" y="184.20" font-size="6.0" text-anchor="middle" font-weight="bold" fill="#1c1c1c" stroke="#1c1c1c" stroke-width="0.14">*</text>
<line x1="89.45" y1="188.50" x2="89.45" y2="187.70" stroke="#1c1c1c" stroke-width="0.7"/>
<line x1="87.18" y1="187.70" x2="91.72" y2="187.70" stroke="#1c1c1c" stroke-width="0.7"/>
<rect x="86.70" y="188.90" width="5.50" height="25.70" fill="#9092e4" stroke="#1c1c1c" stroke-width="0.8"/>
<text x="89.45" y="222.73" font-size="4.8" text-anchor="middle" font-weight="bold" fill="#161616" stroke="#161616" stroke-width="0.18">100</text>
<text x="89.45" y="185.40" font-size="6.0" text-anchor="middle" font-weight="bold" fill="#1c1c1c" stroke="#1c1c1c" stroke-width="0.14">**</text>
<line x1="47.00" y1="167.00" x2="47.00" y2="215.00" stroke="#1c1c1c" stroke-width="0.95"/>
<line x1="44.80" y1="169.20" x2="47.00" y2="169.20" stroke="#1c1c1c" stroke-width="0.8075"/>
<text x="43.80" y="171.18" font-size="5.5" text-anchor="end" font-weight="bold" fill="#161616" stroke="#161616" stroke-width="0.18">40000</text>
<line x1="44.80" y1="189.90" x2="47.00" y2="189.90" stroke="#1c1c1c" stroke-width="0.8075"/>
<text x="43.80" y="191.88" font-size="5.5" text-anchor="end" font-weight="bold" fill="#161616" stroke="#161616" stroke-width="0.18">30000</text>
<line x1="44.80" y1="210.60" x2="47.00" y2="210.60" stroke="#1c1c1c" stroke-width="0.8075"/>
<text x="43.80" y="212.58" font-size="5.5" text-anchor="end" font-weight="bold" fill="#161616" stroke="#161616" stroke-width="0.18">20000</text>
<line x1="46.55" y1="214.60" x2="94.40" y2="214.60" stroke="#1c1c1c" stroke-width="0.95"/>
<line x1="69.60" y1="226.90" x2="94.60" y2="226.90" stroke="#1c1c1c" stroke-width="1.0"/>
<text x="70.20" y="235.62" font-size="5.05" text-anchor="start" font-weight="normal" fill="#161616" stroke="#161616" stroke-width="0.32">FZ (μg·mL<tspan dy="-1.7" font-size="3.0">-1</tspan><tspan dy="1.7">)</tspan></text>
<text x="24.98" y="192.80" font-size="6.05" text-anchor="middle" font-weight="normal" fill="#161616" transform="rotate(-90 24.98 192.80)" stroke="#161616" stroke-width="0.3">Fluorescence Intensity</text>
<text x="135.00" y="156.00" font-size="9.6" font-weight="bold" fill="#0c0c0c" stroke="#0c0c0c" stroke-width="0.3">F</text>
<defs><filter id="nz" x="-5%" y="-5%" width="110%" height="110%"><feGaussianBlur stdDeviation="0.5"/></filter></defs>
<defs><clipPath id="fc00"><rect x="125.50" y="161.60" width="18.3" height="18.1"/></clipPath></defs>
<rect x="125.50" y="161.60" width="18.30" height="18.10" fill="rgb(4,13,5)"/>
<g clip-path="url(#fc00)"><g filter="url(#nz)">
<circle cx="129.85" cy="168.99" r="0.86" fill="rgb(60,225,70)" opacity="0.16"/>
<circle cx="136.95" cy="162.49" r="1.06" fill="rgb(60,225,70)" opacity="0.10"/>
<circle cx="130.25" cy="164.78" r="0.75" fill="rgb(60,225,70)" opacity="0.27"/>
<circle cx="140.81" cy="168.07" r="0.48" fill="rgb(60,225,70)" opacity="0.21"/>
<circle cx="137.12" cy="173.38" r="0.98" fill="rgb(60,225,70)" opacity="0.19"/>
<circle cx="137.79" cy="162.47" r="0.85" fill="rgb(60,225,70)" opacity="0.23"/>
<circle cx="131.01" cy="162.02" r="0.75" fill="rgb(60,225,70)" opacity="0.25"/>
<circle cx="138.65" cy="173.53" r="1.13" fill="rgb(60,225,70)" opacity="0.22"/>
<circle cx="132.73" cy="172.47" r="1.15" fill="rgb(60,225,70)" opacity="0.18"/>
<circle cx="141.58" cy="162.92" r="0.53" fill="rgb(60,225,70)" opacity="0.12"/>
<circle cx="143.17" cy="167.52" r="0.61" fill="rgb(60,225,70)" opacity="0.21"/>
<circle cx="134.78" cy="166.84" r="0.85" fill="rgb(60,225,70)" opacity="0.16"/>
<circle cx="136.19" cy="173.87" r="1.14" fill="rgb(60,225,70)" opacity="0.22"/>
<circle cx="141.17" cy="175.05" r="0.49" fill="rgb(60,225,70)" opacity="0.21"/>
<circle cx="141.25" cy="174.69" r="0.83" fill="rgb(60,225,70)" opacity="0.25"/>
<circle cx="138.56" cy="164.47" r="0.84" fill="rgb(60,225,70)" opacity="0.24"/>
<circle cx="130.71" cy="162.46" r="1.19" fill="rgb(60,225,70)" opacity="0.25"/>
<circle cx="127.12" cy="172.47" r="0.48" fill="rgb(60,225,70)" opacity="0.17"/>
<circle cx="130.88" cy="172.04" r="0.39" fill="rgb(60,225,70)" opacity="0.25"/>
<circle cx="136.75" cy="162.21" r="0.63" fill="rgb(60,225,70)" opacity="0.22"/>
<circle cx="141.62" cy="174.91" r="1.20" fill="rgb(60,225,70)" opacity="0.19"/>
<circle cx="131.17" cy="162.64" r="0.38" fill="rgb(60,225,70)" opacity="0.20"/>
<circle cx="129.11" cy="167.14" r="0.48" fill="rgb(60,225,70)" opacity="0.20"/>
<circle cx="126.28" cy="173.38" r="1.16" fill="rgb(60,225,70)" opacity="0.15"/>
<circle cx="141.91" cy="166.73" r="0.79" fill="rgb(60,225,70)" opacity="0.18"/>
<circle cx="137.28" cy="169.69" r="0.88" fill="rgb(60,225,70)" opacity="0.20"/>
<circle cx="142.71" cy="168.48" r="0.96" fill="rgb(60,225,70)" opacity="0.17"/>
<circle cx="129.85" cy="165.69" r="0.79" fill="rgb(60,225,70)" opacity="0.27"/>
<circle cx="135.54" cy="161.76" r="0.84" fill="rgb(60,225,70)" opacity="0.17"/>
<circle cx="125.87" cy="169.96" r="0.40" fill="rgb(60,225,70)" opacity="0.21"/>
<circle cx="136.98" cy="167.93" r="0.65" fill="rgb(60,225,70)" opacity="0.22"/>
<circle cx="138.44" cy="171.62" r="0.40" fill="rgb(60,225,70)" opacity="0.10"/>
<circle cx="137.87" cy="174.68" r="0.74" fill="rgb(60,225,70)" opacity="0.14"/>
<circle cx="136.35" cy="165.94" r="0.62" fill="rgb(60,225,70)" opacity="0.16"/>
</g></g>
<rect x="134.70" y="171.00" width="8.80" height="8.40" fill="rgb(2,9,3)" stroke="#a8a8a8" stroke-width="0.45"/>
<g filter="url(#bl)"><circle cx="139.10" cy="175.40" r="2.86" fill="rgb(60,225,70)" fill-opacity="0.10" stroke="rgb(60,225,70)" stroke-width="1.2" stroke-opacity="0.38"/></g>
<rect x="137.30" y="168.20" width="2.30" height="2.30" fill="none" stroke="#a8a8a8" stroke-width="0.4"/>
<line x1="137.30" y1="170.50" x2="134.70" y2="171.00" stroke="#9a9a9a" stroke-width="0.35"/>
<line x1="139.60" y1="169.40" x2="143.50" y2="171.00" stroke="#9a9a9a" stroke-width="0.35"/>
<defs><clipPath id="fc01"><rect x="125.50" y="182.50" width="18.3" height="17.7"/></clipPath></defs>
<rect x="125.50" y="182.50" width="18.30" height="17.70" fill="rgb(14,3,3)"/>
<g clip-path="url(#fc01)"><g filter="url(#nz)">
<circle cx="129.82" cy="183.87" r="0.48" fill="rgb(245,30,30)" opacity="0.16"/>
<circle cx="126.72" cy="187.83" r="1.03" fill="rgb(245,30,30)" opacity="0.24"/>
<circle cx="139.50" cy="185.45" r="0.59" fill="rgb(245,30,30)" opacity="0.18"/>
<circle cx="128.66" cy="183.91" r="1.14" fill="rgb(245,30,30)" opacity="0.13"/>
<circle cx="140.67" cy="193.21" r="0.51" fill="rgb(245,30,30)" opacity="0.22"/>
<circle cx="131.17" cy="190.82" r="1.08" fill="rgb(245,30,30)" opacity="0.21"/>
<circle cx="141.60" cy="183.65" r="0.92" fill="rgb(245,30,30)" opacity="0.19"/>
<circle cx="134.76" cy="184.86" r="0.43" fill="rgb(245,30,30)" opacity="0.17"/>
<circle cx="142.60" cy="193.99" r="0.61" fill="rgb(245,30,30)" opacity="0.18"/>
<circle cx="142.13" cy="190.10" r="1.07" fill="rgb(245,30,30)" opacity="0.23"/>
<circle cx="134.80" cy="188.00" r="0.72" fill="rgb(245,30,30)" opacity="0.19"/>
<circle cx="128.45" cy="186.55" r="0.39" fill="rgb(245,30,30)" opacity="0.22"/>
<circle cx="126.35" cy="190.81" r="0.80" fill="rgb(245,30,30)" opacity="0.14"/>
<circle cx="134.12" cy="187.05" r="0.52" fill="rgb(245,30,30)" opacity="0.25"/>
<circle cx="133.05" cy="185.19" r="0.58" fill="rgb(245,30,30)" opacity="0.20"/>
<circle cx="132.01" cy="192.42" r="0.82" fill="rgb(245,30,30)" opacity="0.15"/>
<circle cx="142.05" cy="183.84" r="0.54" fill="rgb(245,30,30)" opacity="0.11"/>
<circle cx="139.50" cy="190.67" r="0.63" fill="rgb(245,30,30)" opacity="0.14"/>
<circle cx="128.75" cy="188.59" r="0.94" fill="rgb(245,30,30)" opacity="0.11"/>
<circle cx="141.90" cy="195.17" r="1.17" fill="rgb(245,30,30)" opacity="0.21"/>
<circle cx="125.83" cy="186.34" r="1.01" fill="rgb(245,30,30)" opacity="0.25"/>
<circle cx="133.01" cy="195.02" r="1.05" fill="rgb(245,30,30)" opacity="0.19"/>
<circle cx="130.87" cy="185.04" r="0.47" fill="rgb(245,30,30)" opacity="0.17"/>
<circle cx="132.48" cy="195.27" r="0.36" fill="rgb(245,30,30)" opacity="0.15"/>
<circle cx="126.32" cy="184.75" r="0.66" fill="rgb(245,30,30)" opacity="0.22"/>
<circle cx="130.81" cy="183.79" r="0.71" fill="rgb(245,30,30)" opacity="0.25"/>
<circle cx="129.30" cy="183.29" r="0.49" fill="rgb(245,30,30)" opacity="0.11"/>
<circle cx="137.89" cy="184.49" r="0.77" fill="rgb(245,30,30)" opacity="0.11"/>
<circle cx="130.06" cy="195.74" r="0.80" fill="rgb(245,30,30)" opacity="0.12"/>
<circle cx="139.66" cy="187.93" r="0.76" fill="rgb(245,30,30)" opacity="0.25"/>
<circle cx="129.93" cy="187.95" r="0.71" fill="rgb(245,30,30)" opacity="0.11"/>
</g></g>
<rect x="134.70" y="191.90" width="8.80" height="8.00" fill="rgb(9,2,2)" stroke="#a8a8a8" stroke-width="0.45"/>
<g filter="url(#bl)"><circle cx="139.10" cy="196.10" r="2.72" fill="rgb(245,30,30)" fill-opacity="0.10" stroke="rgb(245,30,30)" stroke-width="1.2" stroke-opacity="0.38"/></g>
<rect x="137.30" y="189.10" width="2.30" height="2.30" fill="none" stroke="#a8a8a8" stroke-width="0.4"/>
<line x1="137.30" y1="191.40" x2="134.70" y2="191.90" stroke="#9a9a9a" stroke-width="0.35"/>
<line x1="139.60" y1="190.30" x2="143.50" y2="191.90" stroke="#9a9a9a" stroke-width="0.35"/>
<defs><clipPath id="fc10"><rect x="145.67" y="161.60" width="18.3" height="18.1"/></clipPath></defs>
<rect x="145.67" y="161.60" width="18.30" height="18.10" fill="rgb(9,32,11)"/>
<g clip-path="url(#fc10)"><g filter="url(#nz)">
<circle cx="150.41" cy="170.90" r="1.07" fill="rgb(60,225,70)" opacity="0.31"/>
<circle cx="149.07" cy="164.73" r="0.54" fill="rgb(60,225,70)" opacity="0.15"/>
<circle cx="159.10" cy="163.37" r="0.53" fill="rgb(60,225,70)" opacity="0.26"/>
<circle cx="151.06" cy="167.46" r="0.87" fill="rgb(60,225,70)" opacity="0.36"/>
<circle cx="145.93" cy="165.34" r="1.09" fill="rgb(60,225,70)" opacity="0.14"/>
<circle cx="160.49" cy="172.54" r="0.98" fill="rgb(60,225,70)" opacity="0.35"/>
<circle cx="163.04" cy="172.38" r="1.07" fill="rgb(60,225,70)" opacity="0.18"/>
<circle cx="154.58" cy="171.85" r="0.72" fill="rgb(60,225,70)" opacity="0.27"/>
<circle cx="152.33" cy="167.43" r="0.45" fill="rgb(60,225,70)" opacity="0.20"/>
<circle cx="160.67" cy="172.44" r="0.94" fill="rgb(60,225,70)" opacity="0.40"/>
<circle cx="155.81" cy="171.76" r="0.93" fill="rgb(60,225,70)" opacity="0.14"/>
<circle cx="153.78" cy="164.00" r="0.79" fill="rgb(60,225,70)" opacity="0.16"/>
<circle cx="150.31" cy="167.84" r="0.69" fill="rgb(60,225,70)" opacity="0.29"/>
<circle cx="148.06" cy="168.26" r="0.55" fill="rgb(60,225,70)" opacity="0.17"/>
<circle cx="149.23" cy="166.57" r="0.90" fill="rgb(60,225,70)" opacity="0.12"/>
<circle cx="163.12" cy="166.89" r="1.14" fill="rgb(60,225,70)" opacity="0.32"/>
<circle cx="146.46" cy="163.52" r="1.06" fill="rgb(60,225,70)" opacity="0.35"/>
<circle cx="157.36" cy="163.77" r="1.09" fill="rgb(60,225,70)" opacity="0.23"/>
<circle cx="161.89" cy="172.50" r="1.08" fill="rgb(60,225,70)" opacity="0.16"/>
<circle cx="152.53" cy="171.33" r="1.18" fill="rgb(60,225,70)" opacity="0.14"/>
<circle cx="156.71" cy="171.41" r="0.87" fill="rgb(60,225,70)" opacity="0.16"/>
<circle cx="156.30" cy="169.63" r="0.97" fill="rgb(60,225,70)" opacity="0.21"/>
<circle cx="151.92" cy="165.61" r="0.93" fill="rgb(60,225,70)" opacity="0.15"/>
<circle cx="147.72" cy="164.66" r="0.90" fill="rgb(60,225,70)" opacity="0.12"/>
<circle cx="155.85" cy="168.98" r="0.72" fill="rgb(60,225,70)" opacity="0.11"/>
<circle cx="151.95" cy="162.86" r="1.20" fill="rgb(60,225,70)" opacity="0.10"/>
<circle cx="147.89" cy="165.69" r="0.86" fill="rgb(60,225,70)" opacity="0.18"/>
<circle cx="147.09" cy="167.98" r="1.06" fill="rgb(60,225,70)" opacity="0.21"/>
<circle cx="145.77" cy="166.14" r="1.17" fill="rgb(60,225,70)" opacity="0.25"/>
<circle cx="155.13" cy="168.04" r="0.60" fill="rgb(60,225,70)" opacity="0.30"/>
<circle cx="146.25" cy="168.41" r="0.98" fill="rgb(60,225,70)" opacity="0.38"/>
<circle cx="150.40" cy="170.89" r="0.57" fill="rgb(60,225,70)" opacity="0.36"/>
<circle cx="156.43" cy="166.43" r="0.59" fill="rgb(60,225,70)" opacity="0.17"/>
<circle cx="149.40" cy="166.36" r="0.69" fill="rgb(60,225,70)" opacity="0.11"/>
<circle cx="147.26" cy="171.89" r="0.35" fill="rgb(60,225,70)" opacity="0.28"/>
<circle cx="159.83" cy="164.19" r="0.82" fill="rgb(60,225,70)" opacity="0.25"/>
<circle cx="151.76" cy="165.53" r="0.47" fill="rgb(60,225,70)" opacity="0.23"/>
<circle cx="161.47" cy="163.12" r="0.54" fill="rgb(60,225,70)" opacity="0.35"/>
<circle cx="151.22" cy="166.87" r="0.46" fill="rgb(60,225,70)" opacity="0.11"/>
<circle cx="152.28" cy="167.60" r="1.19" fill="rgb(60,225,70)" opacity="0.37"/>
<circle cx="146.47" cy="168.86" r="1.03" fill="rgb(60,225,70)" opacity="0.14"/>
<circle cx="151.58" cy="173.72" r="0.46" fill="rgb(60,225,70)" opacity="0.27"/>
<circle cx="145.76" cy="164.97" r="0.48" fill="rgb(60,225,70)" opacity="0.37"/>
<circle cx="154.43" cy="166.65" r="1.03" fill="rgb(60,225,70)" opacity="0.21"/>
<circle cx="149.58" cy="171.35" r="1.15" fill="rgb(60,225,70)" opacity="0.30"/>
<circle cx="155.18" cy="174.10" r="0.84" fill="rgb(60,225,70)" opacity="0.23"/>
<circle cx="157.03" cy="173.00" r="0.45" fill="rgb(60,225,70)" opacity="0.37"/>
<circle cx="148.18" cy="168.85" r="0.80" fill="rgb(60,225,70)" opacity="0.35"/>
<circle cx="151.15" cy="174.66" r="0.42" fill="rgb(60,225,70)" opacity="0.19"/>
<circle cx="146.62" cy="162.01" r="0.44" fill="rgb(60,225,70)" opacity="0.32"/>
<circle cx="158.78" cy="173.36" r="1.04" fill="rgb(60,225,70)" opacity="0.41"/>
<circle cx="153.44" cy="170.05" r="0.96" fill="rgb(60,225,70)" opacity="0.35"/>
<circle cx="150.98" cy="171.94" r="0.61" fill="rgb(60,225,70)" opacity="0.13"/>
<circle cx="163.90" cy="168.00" r="1.02" fill="rgb(60,225,70)" opacity="0.18"/>
<circle cx="153.91" cy="161.65" r="0.57" fill="rgb(60,225,70)" opacity="0.11"/>
<circle cx="151.74" cy="174.32" r="1.07" fill="rgb(60,225,70)" opacity="0.18"/>
<circle cx="161.29" cy="167.25" r="1.00" fill="rgb(60,225,70)" opacity="0.40"/>
<circle cx="154.53" cy="165.15" r="1.12" fill="rgb(60,225,70)" opacity="0.24"/>
</g></g>
<rect x="154.87" y="171.00" width="8.80" height="8.40" fill="rgb(6,22,7)" stroke="#a8a8a8" stroke-width="0.45"/>
<g filter="url(#bl)"><circle cx="159.27" cy="175.40" r="2.86" fill="rgb(60,225,70)" fill-opacity="0.22" stroke="rgb(60,225,70)" stroke-width="1.2" stroke-opacity="0.85"/></g>
<rect x="157.47" y="168.20" width="2.30" height="2.30" fill="none" stroke="#a8a8a8" stroke-width="0.4"/>
<line x1="157.47" y1="170.50" x2="154.87" y2="171.00" stroke="#9a9a9a" stroke-width="0.35"/>
<line x1="159.77" y1="169.40" x2="163.67" y2="171.00" stroke="#9a9a9a" stroke-width="0.35"/>
<defs><clipPath id="fc11"><rect x="145.67" y="182.50" width="18.3" height="17.7"/></clipPath></defs>
<rect x="145.67" y="182.50" width="18.30" height="17.70" fill="rgb(18,3,3)"/>
<g clip-path="url(#fc11)"><g filter="url(#nz)">
<circle cx="147.62" cy="191.83" r="1.15" fill="rgb(245,30,30)" opacity="0.19"/>
<circle cx="150.63" cy="185.90" r="0.91" fill="rgb(245,30,30)" opacity="0.20"/>
<circle cx="151.21" cy="191.58" r="1.01" fill="rgb(245,30,30)" opacity="0.16"/>
<circle cx="147.84" cy="185.46" r="0.65" fill="rgb(245,30,30)" opacity="0.23"/>
<circle cx="150.44" cy="193.18" r="0.48" fill="rgb(245,30,30)" opacity="0.19"/>
<circle cx="155.76" cy="191.31" r="0.90" fill="rgb(245,30,30)" opacity="0.12"/>
<circle cx="147.92" cy="186.97" r="0.52" fill="rgb(245,30,30)" opacity="0.11"/>
<circle cx="163.57" cy="187.86" r="0.72" fill="rgb(245,30,30)" opacity="0.24"/>
<circle cx="156.79" cy="194.08" r="0.44" fill="rgb(245,30,30)" opacity="0.20"/>
<circle cx="156.45" cy="190.91" r="0.43" fill="rgb(245,30,30)" opacity="0.13"/>
<circle cx="161.68" cy="189.32" r="0.73" fill="rgb(245,30,30)" opacity="0.13"/>
<circle cx="149.66" cy="193.10" r="0.44" fill="rgb(245,30,30)" opacity="0.17"/>
<circle cx="160.64" cy="183.69" r="0.37" fill="rgb(245,30,30)" opacity="0.14"/>
<circle cx="159.22" cy="184.01" r="0.43" fill="rgb(245,30,30)" opacity="0.18"/>
<circle cx="154.46" cy="191.60" r="0.74" fill="rgb(245,30,30)" opacity="0.18"/>
<circle cx="154.54" cy="188.30" r="0.43" fill="rgb(245,30,30)" opacity="0.19"/>
<circle cx="154.35" cy="185.64" r="1.15" fill="rgb(245,30,30)" opacity="0.22"/>
<circle cx="146.89" cy="184.40" r="0.84" fill="rgb(245,30,30)" opacity="0.20"/>
<circle cx="146.02" cy="191.86" r="0.71" fill="rgb(245,30,30)" opacity="0.23"/>
<circle cx="152.03" cy="190.06" r="0.57" fill="rgb(245,30,30)" opacity="0.23"/>
<circle cx="151.20" cy="185.01" r="0.75" fill="rgb(245,30,30)" opacity="0.19"/>
<circle cx="150.36" cy="187.65" r="0.62" fill="rgb(245,30,30)" opacity="0.10"/>
<circle cx="163.66" cy="190.28" r="1.15" fill="rgb(245,30,30)" opacity="0.14"/>
<circle cx="152.23" cy="185.84" r="0.47" fill="rgb(245,30,30)" opacity="0.11"/>
<circle cx="149.31" cy="185.55" r="0.57" fill="rgb(245,30,30)" opacity="0.22"/>
<circle cx="150.22" cy="190.52" r="0.60" fill="rgb(245,30,30)" opacity="0.23"/>
<circle cx="159.61" cy="187.39" r="0.86" fill="rgb(245,30,30)" opacity="0.18"/>
<circle cx="162.91" cy="192.55" r="1.07" fill="rgb(245,30,30)" opacity="0.17"/>
<circle cx="152.38" cy="187.60" r="0.81" fill="rgb(245,30,30)" opacity="0.24"/>
</g></g>
<rect x="154.87" y="191.90" width="8.80" height="8.00" fill="rgb(12,2,2)" stroke="#a8a8a8" stroke-width="0.45"/>
<g filter="url(#bl)"><circle cx="159.27" cy="196.10" r="2.72" fill="rgb(245,30,30)" fill-opacity="0.10" stroke="rgb(245,30,30)" stroke-width="1.2" stroke-opacity="0.38"/></g>
<rect x="157.47" y="189.10" width="2.30" height="2.30" fill="none" stroke="#a8a8a8" stroke-width="0.4"/>
<line x1="157.47" y1="191.40" x2="154.87" y2="191.90" stroke="#9a9a9a" stroke-width="0.35"/>
<line x1="159.77" y1="190.30" x2="163.67" y2="191.90" stroke="#9a9a9a" stroke-width="0.35"/>
<defs><clipPath id="fc20"><rect x="165.84" y="161.60" width="18.3" height="18.1"/></clipPath></defs>
<rect x="165.84" y="161.60" width="18.30" height="18.10" fill="rgb(3,11,4)"/>
<g clip-path="url(#fc20)"><g filter="url(#nz)">
<circle cx="182.77" cy="174.48" r="0.42" fill="rgb(60,225,70)" opacity="0.22"/>
<circle cx="176.67" cy="167.35" r="0.46" fill="rgb(60,225,70)" opacity="0.17"/>
<circle cx="169.35" cy="167.64" r="0.74" fill="rgb(60,225,70)" opacity="0.13"/>
<circle cx="166.29" cy="162.76" r="0.71" fill="rgb(60,225,70)" opacity="0.20"/>
<circle cx="175.22" cy="171.57" r="0.40" fill="rgb(60,225,70)" opacity="0.15"/>
<circle cx="180.17" cy="169.60" r="0.88" fill="rgb(60,225,70)" opacity="0.19"/>
<circle cx="183.60" cy="166.52" r="0.66" fill="rgb(60,225,70)" opacity="0.20"/>
<circle cx="176.31" cy="170.57" r="0.42" fill="rgb(60,225,70)" opacity="0.14"/>
<circle cx="174.52" cy="171.35" r="0.73" fill="rgb(60,225,70)" opacity="0.18"/>
<circle cx="177.60" cy="164.07" r="0.62" fill="rgb(60,225,70)" opacity="0.12"/>
<circle cx="180.77" cy="164.26" r="0.43" fill="rgb(60,225,70)" opacity="0.12"/>
<circle cx="166.55" cy="165.34" r="1.05" fill="rgb(60,225,70)" opacity="0.18"/>
<circle cx="171.89" cy="166.62" r="0.61" fill="rgb(60,225,70)" opacity="0.14"/>
<circle cx="180.07" cy="169.05" r="0.44" fill="rgb(60,225,70)" opacity="0.14"/>
<circle cx="180.18" cy="171.20" r="0.55" fill="rgb(60,225,70)" opacity="0.21"/>
<circle cx="175.82" cy="174.07" r="1.15" fill="rgb(60,225,70)" opacity="0.18"/>
<circle cx="168.90" cy="174.84" r="0.70" fill="rgb(60,225,70)" opacity="0.11"/>
<circle cx="166.27" cy="172.59" r="1.18" fill="rgb(60,225,70)" opacity="0.19"/>
<circle cx="180.57" cy="174.48" r="1.19" fill="rgb(60,225,70)" opacity="0.17"/>
<circle cx="179.55" cy="166.30" r="0.67" fill="rgb(60,225,70)" opacity="0.23"/>
<circle cx="169.38" cy="162.63" r="0.52" fill="rgb(60,225,70)" opacity="0.16"/>
<circle cx="182.92" cy="174.50" r="0.44" fill="rgb(60,225,70)" opacity="0.13"/>
<circle cx="175.52" cy="163.90" r="1.04" fill="rgb(60,225,70)" opacity="0.17"/>
<circle cx="170.47" cy="167.33" r="0.73" fill="rgb(60,225,70)" opacity="0.22"/>
<circle cx="172.11" cy="173.71" r="1.11" fill="rgb(60,225,70)" opacity="0.21"/>
<circle cx="178.43" cy="167.20" r="1.06" fill="rgb(60,225,70)" opacity="0.19"/>
<circle cx="177.54" cy="164.84" r="0.70" fill="rgb(60,225,70)" opacity="0.14"/>
<circle cx="179.96" cy="169.16" r="1.05" fill="rgb(60,225,70)" opacity="0.17"/>
</g></g>
<rect x="175.04" y="171.00" width="8.80" height="8.40" fill="rgb(2,7,2)" stroke="#a8a8a8" stroke-width="0.45"/>
<g filter="url(#bl)"><circle cx="179.44" cy="175.40" r="2.86" fill="rgb(60,225,70)" fill-opacity="0.07" stroke="rgb(60,225,70)" stroke-width="1.2" stroke-opacity="0.26"/></g>
<rect x="177.64" y="168.20" width="2.30" height="2.30" fill="none" stroke="#a8a8a8" stroke-width="0.4"/>
<line x1="177.64" y1="170.50" x2="175.04" y2="171.00" stroke="#9a9a9a" stroke-width="0.35"/>
<line x1="179.94" y1="169.40" x2="183.84" y2="171.00" stroke="#9a9a9a" stroke-width="0.35"/>
<defs><clipPath id="fc21"><rect x="165.84" y="182.50" width="18.3" height="17.7"/></clipPath></defs>
<rect x="165.84" y="182.50" width="18.30" height="17.70" fill="rgb(9,2,2)"/>
<g clip-path="url(#fc21)"><g filter="url(#nz)">
<circle cx="178.88" cy="193.65" r="1.20" fill="rgb(245,30,30)" opacity="0.12"/>
<circle cx="169.39" cy="191.41" r="0.99" fill="rgb(245,30,30)" opacity="0.11"/>
<circle cx="168.61" cy="191.88" r="1.00" fill="rgb(245,30,30)" opacity="0.17"/>
<circle cx="173.92" cy="193.99" r="0.45" fill="rgb(245,30,30)" opacity="0.20"/>
<circle cx="175.30" cy="195.22" r="0.73" fill="rgb(245,30,30)" opacity="0.18"/>
<circle cx="171.41" cy="195.15" r="1.00" fill="rgb(245,30,30)" opacity="0.11"/>
<circle cx="181.27" cy="184.59" r="0.61" fill="rgb(245,30,30)" opacity="0.13"/>
<circle cx="175.76" cy="187.37" r="1.14" fill="rgb(245,30,30)" opacity="0.19"/>
<circle cx="171.63" cy="194.38" r="0.43" fill="rgb(245,30,30)" opacity="0.11"/>
<circle cx="178.01" cy="193.11" r="1.19" fill="rgb(245,30,30)" opacity="0.18"/>
<circle cx="181.57" cy="186.04" r="1.14" fill="rgb(245,30,30)" opacity="0.18"/>
<circle cx="167.55" cy="189.06" r="0.47" fill="rgb(245,30,30)" opacity="0.12"/>
<circle cx="174.62" cy="191.40" r="0.46" fill="rgb(245,30,30)" opacity="0.20"/>
<circle cx="175.09" cy="195.74" r="0.80" fill="rgb(245,30,30)" opacity="0.18"/>
<circle cx="170.28" cy="190.88" r="0.90" fill="rgb(245,30,30)" opacity="0.13"/>
<circle cx="177.71" cy="187.69" r="0.69" fill="rgb(245,30,30)" opacity="0.18"/>
<circle cx="174.42" cy="193.54" r="0.51" fill="rgb(245,30,30)" opacity="0.13"/>
<circle cx="176.35" cy="188.27" r="0.56" fill="rgb(245,30,30)" opacity="0.19"/>
<circle cx="172.64" cy="183.27" r="0.62" fill="rgb(245,30,30)" opacity="0.15"/>
<circle cx="174.05" cy="192.64" r="1.19" fill="rgb(245,30,30)" opacity="0.10"/>
<circle cx="178.86" cy="193.27" r="0.84" fill="rgb(245,30,30)" opacity="0.15"/>
<circle cx="173.34" cy="187.76" r="0.61" fill="rgb(245,30,30)" opacity="0.12"/>
</g></g>
<rect x="175.04" y="191.90" width="8.80" height="8.00" fill="rgb(6,1,1)" stroke="#a8a8a8" stroke-width="0.45"/>
<g filter="url(#bl)"><circle cx="179.44" cy="196.10" r="2.72" fill="rgb(245,30,30)" fill-opacity="0.06" stroke="rgb(245,30,30)" stroke-width="1.2" stroke-opacity="0.24"/></g>
<rect x="177.64" y="189.10" width="2.30" height="2.30" fill="none" stroke="#a8a8a8" stroke-width="0.4"/>
<line x1="177.64" y1="191.40" x2="175.04" y2="191.90" stroke="#9a9a9a" stroke-width="0.35"/>
<line x1="179.94" y1="190.30" x2="183.84" y2="191.90" stroke="#9a9a9a" stroke-width="0.35"/>
<defs><clipPath id="fc30"><rect x="186.01" y="161.60" width="18.3" height="18.1"/></clipPath></defs>
<rect x="186.01" y="161.60" width="18.30" height="18.10" fill="rgb(3,11,4)"/>
<g clip-path="url(#fc30)"><g filter="url(#nz)">
<circle cx="196.45" cy="173.04" r="0.59" fill="rgb(60,225,70)" opacity="0.22"/>
<circle cx="197.94" cy="177.72" r="0.51" fill="rgb(60,225,70)" opacity="0.23"/>
<circle cx="197.94" cy="172.77" r="1.17" fill="rgb(60,225,70)" opacity="0.17"/>
<circle cx="195.68" cy="169.66" r="0.89" fill="rgb(60,225,70)" opacity="0.23"/>
<circle cx="191.52" cy="167.20" r="0.39" fill="rgb(60,225,70)" opacity="0.17"/>
<circle cx="197.13" cy="174.92" r="1.07" fill="rgb(60,225,70)" opacity="0.16"/>
<circle cx="202.99" cy="171.66" r="0.45" fill="rgb(60,225,70)" opacity="0.20"/>
<circle cx="187.04" cy="179.34" r="0.53" fill="rgb(60,225,70)" opacity="0.14"/>
<circle cx="202.42" cy="175.17" r="0.62" fill="rgb(60,225,70)" opacity="0.12"/>
<circle cx="190.45" cy="166.54" r="0.80" fill="rgb(60,225,70)" opacity="0.10"/>
<circle cx="191.58" cy="168.74" r="0.44" fill="rgb(60,225,70)" opacity="0.13"/>
<circle cx="186.61" cy="177.40" r="0.83" fill="rgb(60,225,70)" opacity="0.21"/>
<circle cx="188.28" cy="164.30" r="0.62" fill="rgb(60,225,70)" opacity="0.12"/>
<circle cx="187.06" cy="166.58" r="0.51" fill="rgb(60,225,70)" opacity="0.13"/>
<circle cx="197.97" cy="169.89" r="0.65" fill="rgb(60,225,70)" opacity="0.17"/>
<circle cx="195.87" cy="175.81" r="0.41" fill="rgb(60,225,70)" opacity="0.14"/>
<circle cx="194.82" cy="168.46" r="0.44" fill="rgb(60,225,70)" opacity="0.21"/>
<circle cx="201.98" cy="161.87" r="0.73" fill="rgb(60,225,70)" opacity="0.18"/>
<circle cx="191.78" cy="177.69" r="0.49" fill="rgb(60,225,70)" opacity="0.20"/>
<circle cx="195.07" cy="172.68" r="0.42" fill="rgb(60,225,70)" opacity="0.10"/>
<circle cx="197.02" cy="174.80" r="0.71" fill="rgb(60,225,70)" opacity="0.17"/>
<circle cx="195.29" cy="166.32" r="1.17" fill="rgb(60,225,70)" opacity="0.23"/>
<circle cx="194.83" cy="161.97" r="1.03" fill="rgb(60,225,70)" opacity="0.16"/>
<circle cx="191.96" cy="163.51" r="0.95" fill="rgb(60,225,70)" opacity="0.13"/>
<circle cx="197.39" cy="166.78" r="1.00" fill="rgb(60,225,70)" opacity="0.19"/>
<circle cx="203.69" cy="176.65" r="1.04" fill="rgb(60,225,70)" opacity="0.16"/>
<circle cx="202.95" cy="177.33" r="0.85" fill="rgb(60,225,70)" opacity="0.21"/>
<circle cx="195.37" cy="176.99" r="0.96" fill="rgb(60,225,70)" opacity="0.19"/>
<circle cx="190.18" cy="163.27" r="0.85" fill="rgb(60,225,70)" opacity="0.14"/>
</g></g>
<rect x="193.21" y="171.60" width="10.80" height="7.80" fill="rgb(2,7,2)" stroke="#a8a8a8" stroke-width="0.45"/>
<g filter="url(#bl)"><circle cx="198.61" cy="175.70" r="2.65" fill="rgb(60,225,70)" fill-opacity="0.18" stroke="rgb(60,225,70)" stroke-width="1.2" stroke-opacity="0.68"/></g>
<rect x="187.61" y="166.20" width="2.30" height="2.30" fill="none" stroke="#a8a8a8" stroke-width="0.4"/>
<line x1="187.61" y1="168.50" x2="193.21" y2="171.60" stroke="#9a9a9a" stroke-width="0.35"/>
<line x1="189.91" y1="167.40" x2="204.01" y2="171.60" stroke="#9a9a9a" stroke-width="0.35"/>
<defs><clipPath id="fc31"><rect x="186.01" y="182.50" width="18.3" height="17.7"/></clipPath></defs>
<rect x="186.01" y="182.50" width="18.30" height="17.70" fill="rgb(12,2,2)"/>
<g clip-path="url(#fc31)"><g filter="url(#nz)">
<circle cx="195.69" cy="192.87" r="1.11" fill="rgb(245,30,30)" opacity="0.21"/>
<circle cx="202.15" cy="188.96" r="0.71" fill="rgb(245,30,30)" opacity="0.23"/>
<circle cx="191.61" cy="184.17" r="0.48" fill="rgb(245,30,30)" opacity="0.17"/>
<circle cx="191.03" cy="193.31" r="0.99" fill="rgb(245,30,30)" opacity="0.21"/>
<circle cx="187.59" cy="183.58" r="0.82" fill="rgb(245,30,30)" opacity="0.13"/>
<circle cx="201.36" cy="196.67" r="0.85" fill="rgb(245,30,30)" opacity="0.23"/>
<circle cx="197.66" cy="187.67" r="0.53" fill="rgb(245,30,30)" opacity="0.14"/>
<circle cx="195.81" cy="193.25" r="0.68" fill="rgb(245,30,30)" opacity="0.18"/>
<circle cx="193.77" cy="186.90" r="0.84" fill="rgb(245,30,30)" opacity="0.21"/>
<circle cx="199.71" cy="196.87" r="0.45" fill="rgb(245,30,30)" opacity="0.14"/>
<circle cx="191.19" cy="198.56" r="0.69" fill="rgb(245,30,30)" opacity="0.21"/>
<circle cx="200.22" cy="188.55" r="0.43" fill="rgb(245,30,30)" opacity="0.22"/>
<circle cx="199.57" cy="199.85" r="0.74" fill="rgb(245,30,30)" opacity="0.16"/>
<circle cx="188.41" cy="187.37" r="0.60" fill="rgb(245,30,30)" opacity="0.13"/>
<circle cx="187.26" cy="187.80" r="0.80" fill="rgb(245,30,30)" opacity="0.11"/>
<circle cx="193.45" cy="186.53" r="0.61" fill="rgb(245,30,30)" opacity="0.23"/>
<circle cx="195.74" cy="198.34" r="1.17" fill="rgb(245,30,30)" opacity="0.20"/>
<circle cx="197.16" cy="197.91" r="0.97" fill="rgb(245,30,30)" opacity="0.11"/>
<circle cx="192.16" cy="188.18" r="0.98" fill="rgb(245,30,30)" opacity="0.20"/>
<circle cx="192.27" cy="188.93" r="1.14" fill="rgb(245,30,30)" opacity="0.14"/>
<circle cx="197.26" cy="187.10" r="0.40" fill="rgb(245,30,30)" opacity="0.17"/>
<circle cx="190.94" cy="191.38" r="1.08" fill="rgb(245,30,30)" opacity="0.23"/>
<circle cx="196.03" cy="196.01" r="0.94" fill="rgb(245,30,30)" opacity="0.13"/>
<circle cx="204.24" cy="185.23" r="1.19" fill="rgb(245,30,30)" opacity="0.23"/>
<circle cx="192.74" cy="196.91" r="0.48" fill="rgb(245,30,30)" opacity="0.23"/>
<circle cx="194.52" cy="193.01" r="0.58" fill="rgb(245,30,30)" opacity="0.21"/>
<circle cx="199.77" cy="194.96" r="0.97" fill="rgb(245,30,30)" opacity="0.22"/>
<circle cx="201.77" cy="193.19" r="0.74" fill="rgb(245,30,30)" opacity="0.17"/>
</g></g>
<rect x="193.21" y="192.50" width="10.80" height="7.40" fill="rgb(8,1,1)" stroke="#a8a8a8" stroke-width="0.45"/>
<g filter="url(#bl)"><circle cx="198.61" cy="196.40" r="2.52" fill="rgb(245,30,30)" fill-opacity="0.10" stroke="rgb(245,30,30)" stroke-width="1.2" stroke-opacity="0.38"/></g>
<rect x="187.61" y="187.10" width="2.30" height="2.30" fill="none" stroke="#a8a8a8" stroke-width="0.4"/>
<line x1="187.61" y1="189.40" x2="193.21" y2="192.50" stroke="#9a9a9a" stroke-width="0.35"/>
<line x1="189.91" y1="188.30" x2="204.01" y2="192.50" stroke="#9a9a9a" stroke-width="0.35"/>
<defs><clipPath id="fc40"><rect x="206.18" y="161.60" width="18.3" height="18.1"/></clipPath></defs>
<rect x="206.18" y="161.60" width="18.30" height="18.10" fill="rgb(6,22,8)"/>
<g clip-path="url(#fc40)"><g filter="url(#nz)">
<circle cx="206.89" cy="174.20" r="0.74" fill="rgb(60,225,70)" opacity="0.13"/>
<circle cx="218.47" cy="175.95" r="0.77" fill="rgb(60,225,70)" opacity="0.21"/>
<circle cx="206.53" cy="169.43" r="1.07" fill="rgb(60,225,70)" opacity="0.19"/>
<circle cx="216.19" cy="175.27" r="0.50" fill="rgb(60,225,70)" opacity="0.20"/>
<circle cx="221.75" cy="176.45" r="0.43" fill="rgb(60,225,70)" opacity="0.19"/>
<circle cx="215.56" cy="170.58" r="0.86" fill="rgb(60,225,70)" opacity="0.28"/>
<circle cx="215.45" cy="172.01" r="0.39" fill="rgb(60,225,70)" opacity="0.19"/>
<circle cx="207.30" cy="178.65" r="0.60" fill="rgb(60,225,70)" opacity="0.30"/>
<circle cx="222.44" cy="171.05" r="1.08" fill="rgb(60,225,70)" opacity="0.12"/>
<circle cx="216.87" cy="178.48" r="0.43" fill="rgb(60,225,70)" opacity="0.26"/>
<circle cx="217.58" cy="175.84" r="0.63" fill="rgb(60,225,70)" opacity="0.31"/>
<circle cx="215.86" cy="174.29" r="1.07" fill="rgb(60,225,70)" opacity="0.14"/>
<circle cx="220.47" cy="162.51" r="0.66" fill="rgb(60,225,70)" opacity="0.24"/>
<circle cx="209.58" cy="172.54" r="0.82" fill="rgb(60,225,70)" opacity="0.33"/>
<circle cx="208.25" cy="170.56" r="1.16" fill="rgb(60,225,70)" opacity="0.29"/>
<circle cx="219.27" cy="162.35" r="0.86" fill="rgb(60,225,70)" opacity="0.33"/>
<circle cx="207.71" cy="163.90" r="0.92" fill="rgb(60,225,70)" opacity="0.12"/>
<circle cx="209.00" cy="176.22" r="0.80" fill="rgb(60,225,70)" opacity="0.13"/>
<circle cx="214.29" cy="162.29" r="1.12" fill="rgb(60,225,70)" opacity="0.10"/>
<circle cx="224.05" cy="163.85" r="1.19" fill="rgb(60,225,70)" opacity="0.27"/>
<circle cx="222.72" cy="177.62" r="0.96" fill="rgb(60,225,70)" opacity="0.18"/>
<circle cx="215.30" cy="178.57" r="1.07" fill="rgb(60,225,70)" opacity="0.27"/>
<circle cx="221.87" cy="168.58" r="0.43" fill="rgb(60,225,70)" opacity="0.27"/>
<circle cx="209.95" cy="178.55" r="0.93" fill="rgb(60,225,70)" opacity="0.20"/>
<circle cx="216.71" cy="166.31" r="1.13" fill="rgb(60,225,70)" opacity="0.24"/>
<circle cx="212.17" cy="167.88" r="0.50" fill="rgb(60,225,70)" opacity="0.14"/>
<circle cx="221.32" cy="174.38" r="0.92" fill="rgb(60,225,70)" opacity="0.33"/>
<circle cx="223.73" cy="165.62" r="0.53" fill="rgb(60,225,70)" opacity="0.14"/>
<circle cx="213.20" cy="179.51" r="0.74" fill="rgb(60,225,70)" opacity="0.15"/>
<circle cx="207.30" cy="162.09" r="0.87" fill="rgb(60,225,70)" opacity="0.23"/>
<circle cx="215.53" cy="178.16" r="1.16" fill="rgb(60,225,70)" opacity="0.30"/>
<circle cx="216.77" cy="166.37" r="1.00" fill="rgb(60,225,70)" opacity="0.13"/>
<circle cx="209.01" cy="161.71" r="0.46" fill="rgb(60,225,70)" opacity="0.27"/>
<circle cx="217.57" cy="165.24" r="0.36" fill="rgb(60,225,70)" opacity="0.20"/>
<circle cx="213.06" cy="167.54" r="0.46" fill="rgb(60,225,70)" opacity="0.16"/>
<circle cx="216.71" cy="174.14" r="0.39" fill="rgb(60,225,70)" opacity="0.15"/>
<circle cx="211.09" cy="174.26" r="0.90" fill="rgb(60,225,70)" opacity="0.17"/>
<circle cx="207.53" cy="174.33" r="0.54" fill="rgb(60,225,70)" opacity="0.13"/>
<circle cx="219.53" cy="170.20" r="0.59" fill="rgb(60,225,70)" opacity="0.25"/>
<circle cx="218.41" cy="167.01" r="0.73" fill="rgb(60,225,70)" opacity="0.21"/>
<circle cx="222.87" cy="175.22" r="1.07" fill="rgb(60,225,70)" opacity="0.23"/>
<circle cx="217.34" cy="174.70" r="0.84" fill="rgb(60,225,70)" opacity="0.22"/>
<circle cx="210.09" cy="178.45" r="1.05" fill="rgb(60,225,70)" opacity="0.25"/>
<circle cx="217.28" cy="162.05" r="1.10" fill="rgb(60,225,70)" opacity="0.13"/>
<circle cx="218.98" cy="177.97" r="0.55" fill="rgb(60,225,70)" opacity="0.31"/>
<circle cx="224.21" cy="172.65" r="0.79" fill="rgb(60,225,70)" opacity="0.27"/>
</g></g>
<rect x="213.38" y="171.60" width="10.80" height="7.80" fill="rgb(4,15,5)" stroke="#a8a8a8" stroke-width="0.45"/>
<g filter="url(#bl)"><circle cx="218.78" cy="175.70" r="2.65" fill="rgb(60,225,70)" fill-opacity="0.20" stroke="rgb(60,225,70)" stroke-width="1.2" stroke-opacity="0.77"/></g>
<rect x="207.78" y="166.20" width="2.30" height="2.30" fill="none" stroke="#a8a8a8" stroke-width="0.4"/>
<line x1="207.78" y1="168.50" x2="213.38" y2="171.60" stroke="#9a9a9a" stroke-width="0.35"/>
<line x1="210.08" y1="167.40" x2="224.18" y2="171.60" stroke="#9a9a9a" stroke-width="0.35"/>
<defs><clipPath id="fc41"><rect x="206.18" y="182.50" width="18.3" height="17.7"/></clipPath></defs>
<rect x="206.18" y="182.50" width="18.30" height="17.70" fill="rgb(22,3,3)"/>
<g clip-path="url(#fc41)"><g filter="url(#nz)">
<circle cx="213.66" cy="192.09" r="0.50" fill="rgb(245,30,30)" opacity="0.31"/>
<circle cx="210.30" cy="183.02" r="0.36" fill="rgb(245,30,30)" opacity="0.13"/>
<circle cx="209.05" cy="191.59" r="0.94" fill="rgb(245,30,30)" opacity="0.34"/>
<circle cx="213.11" cy="189.67" r="0.63" fill="rgb(245,30,30)" opacity="0.26"/>
<circle cx="207.53" cy="197.39" r="0.45" fill="rgb(245,30,30)" opacity="0.25"/>
<circle cx="207.46" cy="184.17" r="0.44" fill="rgb(245,30,30)" opacity="0.33"/>
<circle cx="217.62" cy="199.66" r="0.68" fill="rgb(245,30,30)" opacity="0.11"/>
<circle cx="214.91" cy="198.73" r="0.57" fill="rgb(245,30,30)" opacity="0.14"/>
<circle cx="210.72" cy="183.37" r="1.04" fill="rgb(245,30,30)" opacity="0.26"/>
<circle cx="214.17" cy="183.17" r="0.98" fill="rgb(245,30,30)" opacity="0.27"/>
<circle cx="218.14" cy="188.32" r="0.89" fill="rgb(245,30,30)" opacity="0.30"/>
<circle cx="216.98" cy="192.07" r="0.74" fill="rgb(245,30,30)" opacity="0.16"/>
<circle cx="220.71" cy="194.60" r="1.05" fill="rgb(245,30,30)" opacity="0.18"/>
<circle cx="221.54" cy="183.27" r="0.54" fill="rgb(245,30,30)" opacity="0.14"/>
<circle cx="206.45" cy="195.84" r="0.81" fill="rgb(245,30,30)" opacity="0.25"/>
<circle cx="224.38" cy="188.81" r="0.44" fill="rgb(245,30,30)" opacity="0.15"/>
<circle cx="212.40" cy="197.33" r="0.40" fill="rgb(245,30,30)" opacity="0.24"/>
<circle cx="214.11" cy="183.35" r="0.45" fill="rgb(245,30,30)" opacity="0.25"/>
<circle cx="209.46" cy="193.87" r="0.88" fill="rgb(245,30,30)" opacity="0.30"/>
<circle cx="211.55" cy="193.92" r="0.36" fill="rgb(245,30,30)" opacity="0.16"/>
<circle cx="211.19" cy="194.68" r="0.51" fill="rgb(245,30,30)" opacity="0.25"/>
<circle cx="221.56" cy="197.20" r="1.17" fill="rgb(245,30,30)" opacity="0.17"/>
<circle cx="210.98" cy="183.65" r="1.09" fill="rgb(245,30,30)" opacity="0.22"/>
<circle cx="217.15" cy="192.17" r="0.59" fill="rgb(245,30,30)" opacity="0.22"/>
<circle cx="211.67" cy="189.63" r="1.15" fill="rgb(245,30,30)" opacity="0.23"/>
<circle cx="207.51" cy="186.96" r="0.91" fill="rgb(245,30,30)" opacity="0.32"/>
<circle cx="207.54" cy="190.32" r="1.13" fill="rgb(245,30,30)" opacity="0.25"/>
<circle cx="207.72" cy="198.47" r="0.59" fill="rgb(245,30,30)" opacity="0.28"/>
<circle cx="215.94" cy="197.11" r="0.95" fill="rgb(245,30,30)" opacity="0.16"/>
<circle cx="216.43" cy="183.79" r="0.70" fill="rgb(245,30,30)" opacity="0.16"/>
<circle cx="208.73" cy="199.21" r="0.55" fill="rgb(245,30,30)" opacity="0.16"/>
<circle cx="217.11" cy="191.84" r="0.63" fill="rgb(245,30,30)" opacity="0.18"/>
<circle cx="215.27" cy="198.59" r="1.13" fill="rgb(245,30,30)" opacity="0.12"/>
<circle cx="223.35" cy="194.59" r="0.67" fill="rgb(245,30,30)" opacity="0.29"/>
<circle cx="223.80" cy="195.64" r="0.73" fill="rgb(245,30,30)" opacity="0.26"/>
<circle cx="210.22" cy="194.74" r="0.35" fill="rgb(245,30,30)" opacity="0.28"/>
<circle cx="211.88" cy="191.98" r="0.46" fill="rgb(245,30,30)" opacity="0.15"/>
<circle cx="209.62" cy="182.78" r="0.68" fill="rgb(245,30,30)" opacity="0.13"/>
<circle cx="215.36" cy="193.80" r="0.46" fill="rgb(245,30,30)" opacity="0.17"/>
<circle cx="223.02" cy="193.68" r="0.94" fill="rgb(245,30,30)" opacity="0.26"/>
<circle cx="212.07" cy="193.01" r="0.90" fill="rgb(245,30,30)" opacity="0.18"/>
<circle cx="221.15" cy="182.79" r="0.45" fill="rgb(245,30,30)" opacity="0.29"/>
<circle cx="206.47" cy="183.83" r="1.08" fill="rgb(245,30,30)" opacity="0.23"/>
<circle cx="223.11" cy="185.29" r="1.15" fill="rgb(245,30,30)" opacity="0.20"/>
<circle cx="222.42" cy="197.13" r="0.58" fill="rgb(245,30,30)" opacity="0.16"/>
<circle cx="208.91" cy="187.16" r="1.03" fill="rgb(245,30,30)" opacity="0.20"/>
</g></g>
<rect x="213.38" y="192.50" width="10.80" height="7.40" fill="rgb(15,2,2)" stroke="#a8a8a8" stroke-width="0.45"/>
<g filter="url(#bl)"><circle cx="218.78" cy="196.40" r="2.52" fill="rgb(245,30,30)" fill-opacity="0.22" stroke="rgb(245,30,30)" stroke-width="1.2" stroke-opacity="0.85"/></g>
<rect x="207.78" y="187.10" width="2.30" height="2.30" fill="none" stroke="#a8a8a8" stroke-width="0.4"/>
<line x1="207.78" y1="189.40" x2="213.38" y2="192.50" stroke="#9a9a9a" stroke-width="0.35"/>
<line x1="210.08" y1="188.30" x2="224.18" y2="192.50" stroke="#9a9a9a" stroke-width="0.35"/>
<defs><clipPath id="fc50"><rect x="226.35" y="161.60" width="18.3" height="18.1"/></clipPath></defs>
<rect x="226.35" y="161.60" width="18.30" height="18.10" fill="rgb(3,8,3)"/>
<g clip-path="url(#fc50)"><g filter="url(#nz)">
<circle cx="237.64" cy="177.71" r="0.95" fill="rgb(60,225,70)" opacity="0.15"/>
<circle cx="243.50" cy="171.02" r="0.97" fill="rgb(60,225,70)" opacity="0.17"/>
<circle cx="242.05" cy="162.27" r="1.20" fill="rgb(60,225,70)" opacity="0.12"/>
<circle cx="240.02" cy="166.32" r="0.49" fill="rgb(60,225,70)" opacity="0.18"/>
<circle cx="232.94" cy="169.58" r="0.47" fill="rgb(60,225,70)" opacity="0.12"/>
<circle cx="235.64" cy="173.31" r="0.91" fill="rgb(60,225,70)" opacity="0.13"/>
<circle cx="244.32" cy="162.60" r="0.43" fill="rgb(60,225,70)" opacity="0.13"/>
<circle cx="238.74" cy="169.07" r="0.56" fill="rgb(60,225,70)" opacity="0.14"/>
<circle cx="240.57" cy="175.34" r="1.05" fill="rgb(60,225,70)" opacity="0.15"/>
<circle cx="230.58" cy="167.83" r="0.54" fill="rgb(60,225,70)" opacity="0.20"/>
<circle cx="228.99" cy="162.18" r="1.05" fill="rgb(60,225,70)" opacity="0.17"/>
<circle cx="227.30" cy="170.26" r="0.63" fill="rgb(60,225,70)" opacity="0.14"/>
<circle cx="230.65" cy="168.56" r="1.13" fill="rgb(60,225,70)" opacity="0.11"/>
<circle cx="229.99" cy="171.29" r="0.91" fill="rgb(60,225,70)" opacity="0.17"/>
<circle cx="235.03" cy="171.07" r="0.50" fill="rgb(60,225,70)" opacity="0.20"/>
<circle cx="230.02" cy="167.07" r="0.71" fill="rgb(60,225,70)" opacity="0.18"/>
<circle cx="233.48" cy="163.00" r="0.90" fill="rgb(60,225,70)" opacity="0.11"/>
<circle cx="230.54" cy="169.94" r="0.61" fill="rgb(60,225,70)" opacity="0.12"/>
<circle cx="229.85" cy="178.03" r="0.76" fill="rgb(60,225,70)" opacity="0.16"/>
<circle cx="230.54" cy="176.74" r="0.46" fill="rgb(60,225,70)" opacity="0.16"/>
<circle cx="229.66" cy="178.80" r="0.70" fill="rgb(60,225,70)" opacity="0.13"/>
<circle cx="228.11" cy="177.41" r="0.83" fill="rgb(60,225,70)" opacity="0.13"/>
</g></g>
<rect x="233.55" y="171.60" width="10.80" height="7.80" fill="rgb(2,5,2)" stroke="#a8a8a8" stroke-width="0.45"/>
<g filter="url(#bl)"><circle cx="238.95" cy="175.70" r="2.65" fill="rgb(60,225,70)" fill-opacity="0.09" stroke="rgb(60,225,70)" stroke-width="1.2" stroke-opacity="0.34"/></g>
<rect x="227.95" y="166.20" width="2.30" height="2.30" fill="none" stroke="#a8a8a8" stroke-width="0.4"/>
<line x1="227.95" y1="168.50" x2="233.55" y2="171.60" stroke="#9a9a9a" stroke-width="0.35"/>
<line x1="230.25" y1="167.40" x2="244.35" y2="171.60" stroke="#9a9a9a" stroke-width="0.35"/>
<defs><clipPath id="fc51"><rect x="226.35" y="182.50" width="18.3" height="17.7"/></clipPath></defs>
<rect x="226.35" y="182.50" width="18.30" height="17.70" fill="rgb(16,2,2)"/>
<g clip-path="url(#fc51)"><g filter="url(#nz)">
<circle cx="243.07" cy="184.93" r="0.76" fill="rgb(245,30,30)" opacity="0.20"/>
<circle cx="243.90" cy="189.23" r="0.84" fill="rgb(245,30,30)" opacity="0.18"/>
<circle cx="233.34" cy="198.64" r="0.97" fill="rgb(245,30,30)" opacity="0.26"/>
<circle cx="227.37" cy="200.02" r="0.86" fill="rgb(245,30,30)" opacity="0.20"/>
<circle cx="236.27" cy="191.63" r="0.58" fill="rgb(245,30,30)" opacity="0.27"/>
<circle cx="228.96" cy="200.19" r="0.59" fill="rgb(245,30,30)" opacity="0.15"/>
<circle cx="234.36" cy="198.39" r="0.36" fill="rgb(245,30,30)" opacity="0.17"/>
<circle cx="231.21" cy="186.56" r="1.11" fill="rgb(245,30,30)" opacity="0.10"/>
<circle cx="239.78" cy="184.91" r="1.18" fill="rgb(245,30,30)" opacity="0.15"/>
<circle cx="239.17" cy="190.41" r="1.19" fill="rgb(245,30,30)" opacity="0.21"/>
<circle cx="230.73" cy="193.68" r="0.76" fill="rgb(245,30,30)" opacity="0.10"/>
<circle cx="230.65" cy="188.52" r="0.71" fill="rgb(245,30,30)" opacity="0.17"/>
<circle cx="242.72" cy="188.95" r="1.06" fill="rgb(245,30,30)" opacity="0.10"/>
<circle cx="243.24" cy="197.42" r="0.65" fill="rgb(245,30,30)" opacity="0.16"/>
<circle cx="240.37" cy="183.94" r="0.78" fill="rgb(245,30,30)" opacity="0.11"/>
<circle cx="230.56" cy="190.70" r="1.17" fill="rgb(245,30,30)" opacity="0.13"/>
<circle cx="235.43" cy="188.63" r="0.58" fill="rgb(245,30,30)" opacity="0.16"/>
<circle cx="240.66" cy="196.61" r="1.14" fill="rgb(245,30,30)" opacity="0.25"/>
<circle cx="237.41" cy="189.30" r="0.46" fill="rgb(245,30,30)" opacity="0.18"/>
<circle cx="233.05" cy="191.08" r="0.84" fill="rgb(245,30,30)" opacity="0.26"/>
<circle cx="228.14" cy="192.00" r="1.04" fill="rgb(245,30,30)" opacity="0.16"/>
<circle cx="241.68" cy="193.04" r="0.71" fill="rgb(245,30,30)" opacity="0.22"/>
<circle cx="231.45" cy="196.70" r="0.82" fill="rgb(245,30,30)" opacity="0.24"/>
<circle cx="243.37" cy="196.99" r="0.44" fill="rgb(245,30,30)" opacity="0.23"/>
<circle cx="243.93" cy="184.17" r="0.45" fill="rgb(245,30,30)" opacity="0.14"/>
<circle cx="229.61" cy="194.88" r="0.46" fill="rgb(245,30,30)" opacity="0.20"/>
<circle cx="230.04" cy="195.66" r="0.53" fill="rgb(245,30,30)" opacity="0.16"/>
<circle cx="241.07" cy="187.10" r="0.79" fill="rgb(245,30,30)" opacity="0.12"/>
<circle cx="239.82" cy="182.58" r="0.51" fill="rgb(245,30,30)" opacity="0.22"/>
<circle cx="242.27" cy="190.81" r="0.64" fill="rgb(245,30,30)" opacity="0.16"/>
<circle cx="227.76" cy="183.14" r="0.77" fill="rgb(245,30,30)" opacity="0.19"/>
<circle cx="229.25" cy="184.54" r="1.13" fill="rgb(245,30,30)" opacity="0.18"/>
<circle cx="227.37" cy="194.35" r="0.60" fill="rgb(245,30,30)" opacity="0.27"/>
<circle cx="233.14" cy="192.25" r="0.37" fill="rgb(245,30,30)" opacity="0.14"/>
<circle cx="229.07" cy="198.29" r="1.10" fill="rgb(245,30,30)" opacity="0.18"/>
<circle cx="229.48" cy="195.81" r="0.66" fill="rgb(245,30,30)" opacity="0.14"/>
<circle cx="239.99" cy="200.18" r="1.03" fill="rgb(245,30,30)" opacity="0.28"/>
</g></g>
<rect x="233.55" y="192.50" width="10.80" height="7.40" fill="rgb(11,1,1)" stroke="#a8a8a8" stroke-width="0.45"/>
<g filter="url(#bl)"><circle cx="238.95" cy="196.40" r="2.52" fill="rgb(245,30,30)" fill-opacity="0.22" stroke="rgb(245,30,30)" stroke-width="1.2" stroke-opacity="0.85"/></g>
<rect x="227.95" y="187.10" width="2.30" height="2.30" fill="none" stroke="#a8a8a8" stroke-width="0.4"/>
<line x1="227.95" y1="189.40" x2="233.55" y2="192.50" stroke="#9a9a9a" stroke-width="0.35"/>
<line x1="230.25" y1="188.30" x2="244.35" y2="192.50" stroke="#9a9a9a" stroke-width="0.35"/>
<defs><clipPath id="fc60"><rect x="246.52" y="161.60" width="18.3" height="18.1"/></clipPath></defs>
<rect x="246.52" y="161.60" width="18.30" height="18.10" fill="rgb(2,4,2)"/>
<g clip-path="url(#fc60)"><g filter="url(#nz)">
<circle cx="254.67" cy="166.92" r="0.76" fill="rgb(60,225,70)" opacity="0.12"/>
<circle cx="248.11" cy="175.17" r="0.52" fill="rgb(60,225,70)" opacity="0.10"/>
<circle cx="247.87" cy="172.97" r="0.87" fill="rgb(60,225,70)" opacity="0.12"/>
<circle cx="250.59" cy="176.89" r="0.63" fill="rgb(60,225,70)" opacity="0.12"/>
<circle cx="251.53" cy="173.80" r="1.13" fill="rgb(60,225,70)" opacity="0.13"/>
<circle cx="262.56" cy="174.56" r="0.87" fill="rgb(60,225,70)" opacity="0.11"/>
<circle cx="254.35" cy="173.16" r="0.53" fill="rgb(60,225,70)" opacity="0.11"/>
<circle cx="262.95" cy="162.25" r="0.63" fill="rgb(60,225,70)" opacity="0.11"/>
</g></g>
<rect x="253.72" y="171.60" width="10.80" height="7.80" fill="rgb(1,2,1)" stroke="#a8a8a8" stroke-width="0.45"/>
<g filter="url(#bl)"><circle cx="259.12" cy="175.70" r="2.65" fill="rgb(60,225,70)" fill-opacity="0.02" stroke="rgb(60,225,70)" stroke-width="1.2" stroke-opacity="0.09"/></g>
<rect x="248.12" y="166.20" width="2.30" height="2.30" fill="none" stroke="#a8a8a8" stroke-width="0.4"/>
<line x1="248.12" y1="168.50" x2="253.72" y2="171.60" stroke="#9a9a9a" stroke-width="0.35"/>
<line x1="250.42" y1="167.40" x2="264.52" y2="171.60" stroke="#9a9a9a" stroke-width="0.35"/>
<defs><clipPath id="fc61"><rect x="246.52" y="182.50" width="18.3" height="17.7"/></clipPath></defs>
<rect x="246.52" y="182.50" width="18.30" height="17.70" fill="rgb(12,2,2)"/>
<g clip-path="url(#fc61)"><g filter="url(#nz)">
<circle cx="255.23" cy="193.65" r="1.13" fill="rgb(245,30,30)" opacity="0.16"/>
<circle cx="246.83" cy="199.98" r="1.03" fill="rgb(245,30,30)" opacity="0.21"/>
<circle cx="261.22" cy="186.06" r="0.91" fill="rgb(245,30,30)" opacity="0.23"/>
<circle cx="249.22" cy="197.75" r="0.96" fill="rgb(245,30,30)" opacity="0.17"/>
<circle cx="248.05" cy="194.53" r="0.40" fill="rgb(245,30,30)" opacity="0.10"/>
<circle cx="248.45" cy="183.31" r="0.54" fill="rgb(245,30,30)" opacity="0.19"/>
<circle cx="250.12" cy="196.92" r="0.69" fill="rgb(245,30,30)" opacity="0.22"/>
<circle cx="250.43" cy="195.64" r="0.65" fill="rgb(245,30,30)" opacity="0.18"/>
<circle cx="252.14" cy="188.95" r="0.50" fill="rgb(245,30,30)" opacity="0.17"/>
<circle cx="246.55" cy="190.74" r="0.40" fill="rgb(245,30,30)" opacity="0.13"/>
<circle cx="251.66" cy="194.41" r="0.38" fill="rgb(245,30,30)" opacity="0.23"/>
<circle cx="261.28" cy="187.86" r="1.10" fill="rgb(245,30,30)" opacity="0.23"/>
<circle cx="251.99" cy="193.86" r="0.55" fill="rgb(245,30,30)" opacity="0.19"/>
<circle cx="264.13" cy="194.11" r="0.48" fill="rgb(245,30,30)" opacity="0.25"/>
<circle cx="251.24" cy="198.81" r="0.67" fill="rgb(245,30,30)" opacity="0.15"/>
<circle cx="251.53" cy="197.13" r="0.46" fill="rgb(245,30,30)" opacity="0.15"/>
<circle cx="248.55" cy="198.77" r="0.49" fill="rgb(245,30,30)" opacity="0.11"/>
<circle cx="252.62" cy="192.44" r="1.18" fill="rgb(245,30,30)" opacity="0.23"/>
<circle cx="255.18" cy="194.42" r="0.79" fill="rgb(245,30,30)" opacity="0.15"/>
<circle cx="247.20" cy="195.72" r="0.92" fill="rgb(245,30,30)" opacity="0.18"/>
<circle cx="261.94" cy="197.07" r="0.97" fill="rgb(245,30,30)" opacity="0.25"/>
<circle cx="248.52" cy="188.31" r="0.46" fill="rgb(245,30,30)" opacity="0.20"/>
<circle cx="253.67" cy="189.35" r="0.70" fill="rgb(245,30,30)" opacity="0.12"/>
<circle cx="258.95" cy="198.96" r="0.87" fill="rgb(245,30,30)" opacity="0.20"/>
<circle cx="249.66" cy="199.91" r="0.94" fill="rgb(245,30,30)" opacity="0.22"/>
<circle cx="255.24" cy="192.48" r="0.60" fill="rgb(245,30,30)" opacity="0.11"/>
<circle cx="246.98" cy="200.00" r="0.90" fill="rgb(245,30,30)" opacity="0.16"/>
<circle cx="260.31" cy="190.83" r="1.18" fill="rgb(245,30,30)" opacity="0.25"/>
<circle cx="255.46" cy="183.31" r="0.79" fill="rgb(245,30,30)" opacity="0.22"/>
<circle cx="246.93" cy="195.36" r="1.18" fill="rgb(245,30,30)" opacity="0.19"/>
<circle cx="257.46" cy="189.72" r="0.49" fill="rgb(245,30,30)" opacity="0.12"/>
</g></g>
<rect x="253.72" y="192.50" width="10.80" height="7.40" fill="rgb(8,1,1)" stroke="#a8a8a8" stroke-width="0.45"/>
<g filter="url(#bl)"><circle cx="259.12" cy="196.40" r="2.52" fill="rgb(245,30,30)" fill-opacity="0.19" stroke="rgb(245,30,30)" stroke-width="1.2" stroke-opacity="0.72"/></g>
<rect x="248.12" y="187.10" width="2.30" height="2.30" fill="none" stroke="#a8a8a8" stroke-width="0.4"/>
<line x1="248.12" y1="189.40" x2="253.72" y2="192.50" stroke="#9a9a9a" stroke-width="0.35"/>
<line x1="250.42" y1="188.30" x2="264.52" y2="192.50" stroke="#9a9a9a" stroke-width="0.35"/>
<text x="132.60" y="209.21" font-size="5.3" text-anchor="end" font-weight="bold" fill="#161616" stroke="#161616" stroke-width="0.18">CCCP</text>
<rect x="139.90" y="207.20" width="1.40" height="0.90" fill="#333"/>
<text x="160.60" y="209.24" font-size="5.4" text-anchor="middle" font-weight="bold" fill="#161616" stroke="#161616" stroke-width="0.18">10</text>
<rect x="177.90" y="207.20" width="1.40" height="0.90" fill="#333"/>
<rect x="197.10" y="207.20" width="1.40" height="0.90" fill="#333"/>
<rect x="214.90" y="207.20" width="1.40" height="0.90" fill="#333"/>
<rect x="232.90" y="207.20" width="1.40" height="0.90" fill="#333"/>
<rect x="252.50" y="207.20" width="1.40" height="0.90" fill="#333"/>
<text x="258.90" y="209.10" font-size="5.0" text-anchor="start" font-weight="bold" fill="#161616" stroke="#161616" stroke-width="0.18">μM</text>
<text x="132.60" y="218.91" font-size="5.3" text-anchor="end" font-weight="bold" fill="#161616" stroke="#161616" stroke-width="0.18">PROP</text>
<rect x="139.90" y="216.90" width="1.40" height="0.90" fill="#333"/>
<rect x="159.90" y="216.90" width="1.40" height="0.90" fill="#333"/>
<rect x="177.90" y="216.90" width="1.40" height="0.90" fill="#333"/>
<text x="197.80" y="218.94" font-size="5.4" text-anchor="middle" font-weight="bold" fill="#161616" stroke="#161616" stroke-width="0.18">10</text>
<rect x="214.90" y="216.90" width="1.40" height="0.90" fill="#333"/>
<rect x="232.90" y="216.90" width="1.40" height="0.90" fill="#333"/>
<text x="253.20" y="218.94" font-size="5.4" text-anchor="middle" font-weight="bold" fill="#161616" stroke="#161616" stroke-width="0.18">10</text>
<text x="258.90" y="218.80" font-size="5.0" text-anchor="start" font-weight="bold" fill="#161616" stroke="#161616" stroke-width="0.18">μM</text>
<text x="132.60" y="228.91" font-size="5.3" text-anchor="end" font-weight="bold" fill="#161616" stroke="#161616" stroke-width="0.18">FZ</text>
<rect x="139.90" y="226.90" width="1.40" height="0.90" fill="#333"/>
<rect x="159.90" y="226.90" width="1.40" height="0.90" fill="#333"/>
<rect x="177.90" y="226.90" width="1.40" height="0.90" fill="#333"/>
<rect x="197.10" y="226.90" width="1.40" height="0.90" fill="#333"/>
<text x="215.60" y="228.94" font-size="5.4" text-anchor="middle" font-weight="bold" fill="#161616" stroke="#161616" stroke-width="0.18">1</text>
<text x="233.60" y="228.94" font-size="5.4" text-anchor="middle" font-weight="bold" fill="#161616" stroke="#161616" stroke-width="0.18">10</text>
<text x="253.20" y="228.94" font-size="5.4" text-anchor="middle" font-weight="bold" fill="#161616" stroke="#161616" stroke-width="0.18">100</text>
<text x="258.90" y="228.80" font-size="5.0" text-anchor="start" font-weight="bold" fill="#161616" stroke="#161616" stroke-width="0.18">μg·mL<tspan dy="-1.6" font-size="3.0">-1</tspan></text>
<text x="132.60" y="238.41" font-size="5.3" text-anchor="end" font-weight="bold" fill="#161616" stroke="#161616" stroke-width="0.18">Metabolites</text>
<rect x="139.90" y="236.40" width="1.40" height="0.90" fill="#333"/>
<rect x="159.90" y="236.40" width="1.40" height="0.90" fill="#333"/>
<text x="178.60" y="238.44" font-size="5.4" text-anchor="middle" font-weight="bold" fill="#161616" stroke="#161616" stroke-width="0.18">10</text>
<text x="197.80" y="238.44" font-size="5.4" text-anchor="middle" font-weight="bold" fill="#161616" stroke="#161616" stroke-width="0.18">10</text>
<rect x="214.90" y="236.40" width="1.40" height="0.90" fill="#333"/>
<rect x="232.90" y="236.40" width="1.40" height="0.90" fill="#333"/>
<rect x="252.50" y="236.40" width="1.40" height="0.90" fill="#333"/>
<text x="258.90" y="238.30" font-size="5.0" text-anchor="start" font-weight="bold" fill="#161616" stroke="#161616" stroke-width="0.18">μg·mL<tspan dy="-1.6" font-size="3.0">-1</tspan></text>
<line x1="299.25" y1="192.00" x2="299.25" y2="190.90" stroke="#1c1c1c" stroke-width="0.7"/>
<line x1="297.05" y1="190.90" x2="301.45" y2="190.90" stroke="#1c1c1c" stroke-width="0.7"/>
<rect x="296.60" y="192.40" width="5.30" height="14.30" fill="#ffffff" stroke="#1c1c1c" stroke-width="0.8"/>
<text x="301.04" y="208.80" font-size="4.7" text-anchor="end" font-weight="bold" fill="#161616" transform="rotate(-90 301.04 208.80)" stroke="#161616" stroke-width="0.18">Con</text>
<line x1="308.35" y1="197.50" x2="308.35" y2="196.90" stroke="#1c1c1c" stroke-width="0.7"/>
<line x1="306.23" y1="196.90" x2="310.47" y2="196.90" stroke="#1c1c1c" stroke-width="0.7"/>
<rect x="305.80" y="197.90" width="5.10" height="8.80" fill="#dedede" stroke="#1c1c1c" stroke-width="0.8"/>
<text x="310.14" y="208.80" font-size="4.7" text-anchor="end" font-weight="bold" fill="#161616" transform="rotate(-90 310.14 208.80)" stroke="#161616" stroke-width="0.18">CCCP</text>
<text x="308.35" y="196.80" font-size="6.0" text-anchor="middle" font-weight="bold" fill="#1c1c1c" stroke="#1c1c1c" stroke-width="0.14">***</text>
<line x1="317.45" y1="177.10" x2="317.45" y2="174.80" stroke="#1c1c1c" stroke-width="0.7"/>
<line x1="315.25" y1="174.80" x2="319.65" y2="174.80" stroke="#1c1c1c" stroke-width="0.7"/>
<rect x="314.80" y="177.50" width="5.30" height="29.20" fill="#fbe4c8" stroke="#1c1c1c" stroke-width="0.8"/>
<text x="319.24" y="208.80" font-size="4.7" text-anchor="end" font-weight="bold" fill="#161616" transform="rotate(-90 319.24 208.80)" stroke="#161616" stroke-width="0.18">Metabolites</text>
<text x="317.45" y="174.90" font-size="6.0" text-anchor="middle" font-weight="bold" fill="#1c1c1c" stroke="#1c1c1c" stroke-width="0.14">***</text>
<line x1="326.55" y1="194.10" x2="326.55" y2="193.40" stroke="#1c1c1c" stroke-width="0.7"/>
<line x1="324.43" y1="193.40" x2="328.67" y2="193.40" stroke="#1c1c1c" stroke-width="0.7"/>
<rect x="324.00" y="194.50" width="5.10" height="12.20" fill="#fdeef0" stroke="#1c1c1c" stroke-width="0.8"/>
<text x="328.34" y="208.80" font-size="4.7" text-anchor="end" font-weight="bold" fill="#161616" transform="rotate(-90 328.34 208.80)" stroke="#161616" stroke-width="0.18">Prop</text>
<line x1="335.25" y1="181.20" x2="335.25" y2="180.30" stroke="#1c1c1c" stroke-width="0.7"/>
<line x1="333.05" y1="180.30" x2="337.45" y2="180.30" stroke="#1c1c1c" stroke-width="0.7"/>
<rect x="332.60" y="181.60" width="5.30" height="25.10" fill="#d9e6f8" stroke="#1c1c1c" stroke-width="0.8"/>
<text x="335.25" y="213.13" font-size="4.8" text-anchor="middle" font-weight="bold" fill="#161616" stroke="#161616" stroke-width="0.18">1</text>
<text x="335.25" y="179.70" font-size="6.0" text-anchor="middle" font-weight="bold" fill="#1c1c1c" stroke="#1c1c1c" stroke-width="0.14">***</text>
<line x1="344.25" y1="177.10" x2="344.25" y2="176.30" stroke="#1c1c1c" stroke-width="0.7"/>
<line x1="342.05" y1="176.30" x2="346.45" y2="176.30" stroke="#1c1c1c" stroke-width="0.7"/>
<rect x="341.60" y="177.50" width="5.30" height="29.20" fill="#92b2ee" stroke="#1c1c1c" stroke-width="0.8"/>
<text x="344.25" y="213.13" font-size="4.8" text-anchor="middle" font-weight="bold" fill="#161616" stroke="#161616" stroke-width="0.18">10</text>
<text x="344.25" y="175.40" font-size="6.0" text-anchor="middle" font-weight="bold" fill="#1c1c1c" stroke="#1c1c1c" stroke-width="0.14">***</text>
<line x1="353.20" y1="173.90" x2="353.20" y2="172.20" stroke="#1c1c1c" stroke-width="0.7"/>
<line x1="350.97" y1="172.20" x2="355.43" y2="172.20" stroke="#1c1c1c" stroke-width="0.7"/>
<rect x="350.50" y="174.30" width="5.40" height="32.40" fill="#6f96e6" stroke="#1c1c1c" stroke-width="0.8"/>
<text x="353.20" y="213.13" font-size="4.8" text-anchor="middle" font-weight="bold" fill="#161616" stroke="#161616" stroke-width="0.18">100</text>
<text x="353.20" y="171.50" font-size="6.0" text-anchor="middle" font-weight="bold" fill="#1c1c1c" stroke="#1c1c1c" stroke-width="0.14">***</text>
<line x1="294.00" y1="163.00" x2="294.00" y2="207.10" stroke="#1c1c1c" stroke-width="0.95"/>
<line x1="291.80" y1="164.80" x2="294.00" y2="164.80" stroke="#1c1c1c" stroke-width="0.8075"/>
<text x="291.10" y="166.78" font-size="5.5" text-anchor="end" font-weight="bold" fill="#161616" stroke="#161616" stroke-width="0.18">3</text>
<line x1="291.80" y1="178.20" x2="294.00" y2="178.20" stroke="#1c1c1c" stroke-width="0.8075"/>
<text x="291.10" y="180.18" font-size="5.5" text-anchor="end" font-weight="bold" fill="#161616" stroke="#161616" stroke-width="0.18">2</text>
<line x1="291.80" y1="191.60" x2="294.00" y2="191.60" stroke="#1c1c1c" stroke-width="0.8075"/>
<text x="291.10" y="193.58" font-size="5.5" text-anchor="end" font-weight="bold" fill="#161616" stroke="#161616" stroke-width="0.18">1</text>
<line x1="291.80" y1="205.00" x2="294.00" y2="205.00" stroke="#1c1c1c" stroke-width="0.8075"/>
<text x="291.10" y="206.98" font-size="5.5" text-anchor="end" font-weight="bold" fill="#161616" stroke="#161616" stroke-width="0.18">0</text>
<line x1="293.55" y1="206.70" x2="357.60" y2="206.70" stroke="#1c1c1c" stroke-width="0.95"/>
<path d="M317.3 169.2 q0.3 -2.2 2.0 -2.2 h7.6 q1.7 0 2.0 2.2" fill="none" stroke="#1c1c1c" stroke-width="0.85"/>
<text x="323.20" y="165.10" font-size="3.9" text-anchor="middle" font-weight="bold" fill="#161616" stroke="#161616" stroke-width="0.18">###</text>
<line x1="331.20" y1="218.40" x2="355.00" y2="218.40" stroke="#1c1c1c" stroke-width="1.0"/>
<text x="330.90" y="226.83" font-size="5.35" text-anchor="start" font-weight="normal" fill="#161616" stroke="#161616" stroke-width="0.32">FZ (μg·mL<tspan dy="-1.8" font-size="3.2">-1</tspan><tspan dy="1.8">)</tspan></text>
<text x="281.51" y="190.60" font-size="5.3" text-anchor="middle" font-weight="normal" fill="#161616" transform="rotate(-90 281.51 190.60)" stroke="#161616" stroke-width="0.3">Radio (Red/Green)</text>
<text x="10.40" y="270.80" font-size="9.1" font-weight="bold" fill="#0c0c0c" stroke="#0c0c0c" stroke-width="0.3">G</text>
<line x1="65.40" y1="276.80" x2="65.40" y2="274.80" stroke="#1c1c1c" stroke-width="0.7"/>
<line x1="64.10" y1="274.80" x2="66.70" y2="274.80" stroke="#1c1c1c" stroke-width="0.7"/>
<rect x="63.85" y="277.15" width="3.10" height="35.35" fill="#ffffff" stroke="#1c1c1c" stroke-width="0.7"/>
<line x1="71.30" y1="280.30" x2="71.30" y2="276.10" stroke="#1c1c1c" stroke-width="0.7"/>
<line x1="70.00" y1="276.10" x2="72.60" y2="276.10" stroke="#1c1c1c" stroke-width="0.7"/>
<rect x="69.75" y="280.65" width="3.10" height="31.85" fill="#ffffff" stroke="#1c1c1c" stroke-width="0.7"/>
<line x1="77.20" y1="276.10" x2="77.20" y2="272.30" stroke="#1c1c1c" stroke-width="0.7"/>
<line x1="75.90" y1="272.30" x2="78.50" y2="272.30" stroke="#1c1c1c" stroke-width="0.7"/>
<rect x="75.65" y="276.45" width="3.10" height="36.05" fill="#ffffff" stroke="#1c1c1c" stroke-width="0.7"/>
<line x1="83.10" y1="273.60" x2="83.10" y2="269.40" stroke="#1c1c1c" stroke-width="0.7"/>
<line x1="81.80" y1="269.40" x2="84.40" y2="269.40" stroke="#1c1c1c" stroke-width="0.7"/>
<rect x="81.55" y="273.95" width="3.10" height="38.55" fill="#ffffff" stroke="#1c1c1c" stroke-width="0.7"/>
<line x1="89.00" y1="280.30" x2="89.00" y2="273.60" stroke="#1c1c1c" stroke-width="0.7"/>
<line x1="87.70" y1="273.60" x2="90.30" y2="273.60" stroke="#1c1c1c" stroke-width="0.7"/>
<rect x="87.45" y="280.65" width="3.10" height="31.85" fill="#ffffff" stroke="#1c1c1c" stroke-width="0.7"/>
<line x1="94.90" y1="280.30" x2="94.90" y2="278.50" stroke="#1c1c1c" stroke-width="0.7"/>
<line x1="93.60" y1="278.50" x2="96.20" y2="278.50" stroke="#1c1c1c" stroke-width="0.7"/>
<rect x="93.35" y="280.65" width="3.10" height="31.85" fill="#d8e8fb" stroke="#1c1c1c" stroke-width="0.7"/>
<line x1="100.80" y1="276.60" x2="100.80" y2="273.60" stroke="#1c1c1c" stroke-width="0.7"/>
<line x1="99.50" y1="273.60" x2="102.10" y2="273.60" stroke="#1c1c1c" stroke-width="0.7"/>
<rect x="99.25" y="276.95" width="3.10" height="35.55" fill="#d8e8fb" stroke="#1c1c1c" stroke-width="0.7"/>
<line x1="106.70" y1="280.30" x2="106.70" y2="276.10" stroke="#1c1c1c" stroke-width="0.7"/>
<line x1="105.40" y1="276.10" x2="108.00" y2="276.10" stroke="#1c1c1c" stroke-width="0.7"/>
<rect x="105.15" y="280.65" width="3.10" height="31.85" fill="#d8e8fb" stroke="#1c1c1c" stroke-width="0.7"/>
<line x1="112.60" y1="282.30" x2="112.60" y2="278.50" stroke="#1c1c1c" stroke-width="0.7"/>
<line x1="111.30" y1="278.50" x2="113.90" y2="278.50" stroke="#1c1c1c" stroke-width="0.7"/>
<rect x="111.05" y="282.65" width="3.10" height="29.85" fill="#d8e8fb" stroke="#1c1c1c" stroke-width="0.7"/>
<line x1="118.50" y1="277.30" x2="118.50" y2="272.30" stroke="#1c1c1c" stroke-width="0.7"/>
<line x1="117.20" y1="272.30" x2="119.80" y2="272.30" stroke="#1c1c1c" stroke-width="0.7"/>
<rect x="116.95" y="277.65" width="3.10" height="34.85" fill="#d8e8fb" stroke="#1c1c1c" stroke-width="0.7"/>
<line x1="124.40" y1="286.70" x2="124.40" y2="284.70" stroke="#1c1c1c" stroke-width="0.7"/>
<line x1="123.10" y1="284.70" x2="125.70" y2="284.70" stroke="#1c1c1c" stroke-width="0.7"/>
<rect x="122.85" y="287.05" width="3.10" height="25.45" fill="#a4cdf9" stroke="#1c1c1c" stroke-width="0.7"/>
<line x1="130.30" y1="283.00" x2="130.30" y2="279.80" stroke="#1c1c1c" stroke-width="0.7"/>
<line x1="129.00" y1="279.80" x2="131.60" y2="279.80" stroke="#1c1c1c" stroke-width="0.7"/>
<rect x="128.75" y="283.35" width="3.10" height="29.15" fill="#a4cdf9" stroke="#1c1c1c" stroke-width="0.7"/>
<line x1="136.20" y1="285.50" x2="136.20" y2="281.00" stroke="#1c1c1c" stroke-width="0.7"/>
<line x1="134.90" y1="281.00" x2="137.50" y2="281.00" stroke="#1c1c1c" stroke-width="0.7"/>
<rect x="134.65" y="285.85" width="3.10" height="26.65" fill="#a4cdf9" stroke="#1c1c1c" stroke-width="0.7"/>
<line x1="142.10" y1="293.40" x2="142.10" y2="279.30" stroke="#1c1c1c" stroke-width="0.7"/>
<line x1="140.80" y1="279.30" x2="143.40" y2="279.30" stroke="#1c1c1c" stroke-width="0.7"/>
<rect x="140.55" y="293.75" width="3.10" height="18.75" fill="#a4cdf9" stroke="#1c1c1c" stroke-width="0.7"/>
<line x1="148.00" y1="283.00" x2="148.00" y2="278.50" stroke="#1c1c1c" stroke-width="0.7"/>
<line x1="146.70" y1="278.50" x2="149.30" y2="278.50" stroke="#1c1c1c" stroke-width="0.7"/>
<rect x="146.45" y="283.35" width="3.10" height="29.15" fill="#a4cdf9" stroke="#1c1c1c" stroke-width="0.7"/>
<line x1="153.90" y1="281.50" x2="153.90" y2="274.80" stroke="#1c1c1c" stroke-width="0.7"/>
<line x1="152.60" y1="274.80" x2="155.20" y2="274.80" stroke="#1c1c1c" stroke-width="0.7"/>
<rect x="152.35" y="281.85" width="3.10" height="30.65" fill="#4a9ff6" stroke="#1c1c1c" stroke-width="0.7"/>
<line x1="159.80" y1="288.50" x2="159.80" y2="283.50" stroke="#1c1c1c" stroke-width="0.7"/>
<line x1="158.50" y1="283.50" x2="161.10" y2="283.50" stroke="#1c1c1c" stroke-width="0.7"/>
<rect x="158.25" y="288.85" width="3.10" height="23.65" fill="#4a9ff6" stroke="#1c1c1c" stroke-width="0.7"/>
<line x1="165.70" y1="290.20" x2="165.70" y2="285.50" stroke="#1c1c1c" stroke-width="0.7"/>
<line x1="164.40" y1="285.50" x2="167.00" y2="285.50" stroke="#1c1c1c" stroke-width="0.7"/>
<rect x="164.15" y="290.55" width="3.10" height="21.95" fill="#4a9ff6" stroke="#1c1c1c" stroke-width="0.7"/>
<line x1="171.60" y1="295.90" x2="171.60" y2="293.40" stroke="#1c1c1c" stroke-width="0.7"/>
<line x1="170.30" y1="293.40" x2="172.90" y2="293.40" stroke="#1c1c1c" stroke-width="0.7"/>
<rect x="170.05" y="296.25" width="3.10" height="16.25" fill="#4a9ff6" stroke="#1c1c1c" stroke-width="0.7"/>
<line x1="177.50" y1="291.40" x2="177.50" y2="285.50" stroke="#1c1c1c" stroke-width="0.7"/>
<line x1="176.20" y1="285.50" x2="178.80" y2="285.50" stroke="#1c1c1c" stroke-width="0.7"/>
<rect x="175.95" y="291.75" width="3.10" height="20.75" fill="#4a9ff6" stroke="#1c1c1c" stroke-width="0.7"/>
<line x1="183.40" y1="297.10" x2="183.40" y2="294.70" stroke="#1c1c1c" stroke-width="0.7"/>
<line x1="182.10" y1="294.70" x2="184.70" y2="294.70" stroke="#1c1c1c" stroke-width="0.7"/>
<rect x="181.85" y="297.45" width="3.10" height="15.05" fill="#4242f3" stroke="#1c1c1c" stroke-width="0.7"/>
<line x1="189.30" y1="290.90" x2="189.30" y2="288.50" stroke="#1c1c1c" stroke-width="0.7"/>
<line x1="188.00" y1="288.50" x2="190.60" y2="288.50" stroke="#1c1c1c" stroke-width="0.7"/>
<rect x="187.75" y="291.25" width="3.10" height="21.25" fill="#4242f3" stroke="#1c1c1c" stroke-width="0.7"/>
<line x1="195.20" y1="281.80" x2="195.20" y2="274.30" stroke="#1c1c1c" stroke-width="0.7"/>
<line x1="193.90" y1="274.30" x2="196.50" y2="274.30" stroke="#1c1c1c" stroke-width="0.7"/>
<rect x="193.65" y="282.15" width="3.10" height="30.35" fill="#4242f3" stroke="#1c1c1c" stroke-width="0.7"/>
<line x1="201.10" y1="291.40" x2="201.10" y2="281.00" stroke="#1c1c1c" stroke-width="0.7"/>
<line x1="199.80" y1="281.00" x2="202.40" y2="281.00" stroke="#1c1c1c" stroke-width="0.7"/>
<rect x="199.55" y="291.75" width="3.10" height="20.75" fill="#4242f3" stroke="#1c1c1c" stroke-width="0.7"/>
<line x1="207.00" y1="290.20" x2="207.00" y2="279.30" stroke="#1c1c1c" stroke-width="0.7"/>
<line x1="205.70" y1="279.30" x2="208.30" y2="279.30" stroke="#1c1c1c" stroke-width="0.7"/>
<rect x="205.45" y="290.55" width="3.10" height="21.95" fill="#4242f3" stroke="#1c1c1c" stroke-width="0.7"/>
<line x1="212.90" y1="286.70" x2="212.90" y2="283.50" stroke="#1c1c1c" stroke-width="0.7"/>
<line x1="211.60" y1="283.50" x2="214.20" y2="283.50" stroke="#1c1c1c" stroke-width="0.7"/>
<rect x="211.35" y="287.05" width="3.10" height="25.45" fill="#9090f3" stroke="#1c1c1c" stroke-width="0.7"/>
<line x1="218.80" y1="280.50" x2="218.80" y2="279.80" stroke="#1c1c1c" stroke-width="0.7"/>
<line x1="217.50" y1="279.80" x2="220.10" y2="279.80" stroke="#1c1c1c" stroke-width="0.7"/>
<rect x="217.25" y="280.85" width="3.10" height="31.65" fill="#9090f3" stroke="#1c1c1c" stroke-width="0.7"/>
<line x1="224.70" y1="277.30" x2="224.70" y2="273.60" stroke="#1c1c1c" stroke-width="0.7"/>
<line x1="223.40" y1="273.60" x2="226.00" y2="273.60" stroke="#1c1c1c" stroke-width="0.7"/>
<rect x="223.15" y="277.65" width="3.10" height="34.85" fill="#9090f3" stroke="#1c1c1c" stroke-width="0.7"/>
<line x1="230.60" y1="283.00" x2="230.60" y2="278.50" stroke="#1c1c1c" stroke-width="0.7"/>
<line x1="229.30" y1="278.50" x2="231.90" y2="278.50" stroke="#1c1c1c" stroke-width="0.7"/>
<rect x="229.05" y="283.35" width="3.10" height="29.15" fill="#9090f3" stroke="#1c1c1c" stroke-width="0.7"/>
<line x1="236.50" y1="283.00" x2="236.50" y2="279.30" stroke="#1c1c1c" stroke-width="0.7"/>
<line x1="235.20" y1="279.30" x2="237.80" y2="279.30" stroke="#1c1c1c" stroke-width="0.7"/>
<rect x="234.95" y="283.35" width="3.10" height="29.15" fill="#9090f3" stroke="#1c1c1c" stroke-width="0.7"/>
<line x1="242.40" y1="282.30" x2="242.40" y2="277.80" stroke="#1c1c1c" stroke-width="0.7"/>
<line x1="241.10" y1="277.80" x2="243.70" y2="277.80" stroke="#1c1c1c" stroke-width="0.7"/>
<rect x="240.85" y="282.65" width="3.10" height="29.85" fill="#c8c8fa" stroke="#1c1c1c" stroke-width="0.7"/>
<line x1="248.30" y1="281.80" x2="248.30" y2="279.30" stroke="#1c1c1c" stroke-width="0.7"/>
<line x1="247.00" y1="279.30" x2="249.60" y2="279.30" stroke="#1c1c1c" stroke-width="0.7"/>
<rect x="246.75" y="282.15" width="3.10" height="30.35" fill="#c8c8fa" stroke="#1c1c1c" stroke-width="0.7"/>
<line x1="254.20" y1="280.30" x2="254.20" y2="274.80" stroke="#1c1c1c" stroke-width="0.7"/>
<line x1="252.90" y1="274.80" x2="255.50" y2="274.80" stroke="#1c1c1c" stroke-width="0.7"/>
<rect x="252.65" y="280.65" width="3.10" height="31.85" fill="#c8c8fa" stroke="#1c1c1c" stroke-width="0.7"/>
<line x1="260.10" y1="282.30" x2="260.10" y2="276.80" stroke="#1c1c1c" stroke-width="0.7"/>
<line x1="258.80" y1="276.80" x2="261.40" y2="276.80" stroke="#1c1c1c" stroke-width="0.7"/>
<rect x="258.55" y="282.65" width="3.10" height="29.85" fill="#c8c8fa" stroke="#1c1c1c" stroke-width="0.7"/>
<line x1="266.00" y1="294.20" x2="266.00" y2="291.00" stroke="#1c1c1c" stroke-width="0.7"/>
<line x1="264.70" y1="291.00" x2="267.30" y2="291.00" stroke="#1c1c1c" stroke-width="0.7"/>
<rect x="264.45" y="294.55" width="3.10" height="17.95" fill="#c8c8fa" stroke="#1c1c1c" stroke-width="0.7"/>
<line x1="271.90" y1="288.00" x2="271.90" y2="281.80" stroke="#1c1c1c" stroke-width="0.7"/>
<line x1="270.60" y1="281.80" x2="273.20" y2="281.80" stroke="#1c1c1c" stroke-width="0.7"/>
<rect x="270.35" y="288.35" width="3.10" height="24.15" fill="#f3e4f7" stroke="#1c1c1c" stroke-width="0.7"/>
<line x1="277.80" y1="285.20" x2="277.80" y2="281.80" stroke="#1c1c1c" stroke-width="0.7"/>
<line x1="276.50" y1="281.80" x2="279.10" y2="281.80" stroke="#1c1c1c" stroke-width="0.7"/>
<rect x="276.25" y="285.55" width="3.10" height="26.95" fill="#f3e4f7" stroke="#1c1c1c" stroke-width="0.7"/>
<line x1="283.70" y1="282.30" x2="283.70" y2="280.30" stroke="#1c1c1c" stroke-width="0.7"/>
<line x1="282.40" y1="280.30" x2="285.00" y2="280.30" stroke="#1c1c1c" stroke-width="0.7"/>
<rect x="282.15" y="282.65" width="3.10" height="29.85" fill="#f3e4f7" stroke="#1c1c1c" stroke-width="0.7"/>
<line x1="289.60" y1="281.00" x2="289.60" y2="278.50" stroke="#1c1c1c" stroke-width="0.7"/>
<line x1="288.30" y1="278.50" x2="290.90" y2="278.50" stroke="#1c1c1c" stroke-width="0.7"/>
<rect x="288.05" y="281.35" width="3.10" height="31.15" fill="#f3e4f7" stroke="#1c1c1c" stroke-width="0.7"/>
<line x1="295.50" y1="279.60" x2="295.50" y2="276.80" stroke="#1c1c1c" stroke-width="0.7"/>
<line x1="294.20" y1="276.80" x2="296.80" y2="276.80" stroke="#1c1c1c" stroke-width="0.7"/>
<rect x="293.95" y="279.95" width="3.10" height="32.55" fill="#f3e4f7" stroke="#1c1c1c" stroke-width="0.7"/>
<line x1="62.30" y1="258.60" x2="62.30" y2="312.90" stroke="#1c1c1c" stroke-width="0.95"/>
<line x1="60.00" y1="260.40" x2="62.30" y2="260.40" stroke="#1c1c1c" stroke-width="0.8075"/>
<text x="59.30" y="262.34" font-size="5.4" text-anchor="end" font-weight="bold" fill="#161616" stroke="#161616" stroke-width="0.18">45,000</text>
<line x1="60.00" y1="277.20" x2="62.30" y2="277.20" stroke="#1c1c1c" stroke-width="0.8075"/>
<text x="59.30" y="279.14" font-size="5.4" text-anchor="end" font-weight="bold" fill="#161616" stroke="#161616" stroke-width="0.18">40,000</text>
<line x1="60.00" y1="294.00" x2="62.30" y2="294.00" stroke="#1c1c1c" stroke-width="0.8075"/>
<text x="59.30" y="295.94" font-size="5.4" text-anchor="end" font-weight="bold" fill="#161616" stroke="#161616" stroke-width="0.18">35,000</text>
<line x1="60.00" y1="310.80" x2="62.30" y2="310.80" stroke="#1c1c1c" stroke-width="0.8075"/>
<text x="59.30" y="312.74" font-size="5.4" text-anchor="end" font-weight="bold" fill="#161616" stroke="#161616" stroke-width="0.18">30,000</text>
<line x1="61.85" y1="312.50" x2="299.40" y2="312.50" stroke="#1c1c1c" stroke-width="0.95"/>
<text x="34.38" y="285.00" font-size="6.6" text-anchor="middle" font-weight="normal" fill="#161616" transform="rotate(-90 34.38 285.00)" stroke="#161616" stroke-width="0.16">Fluorescence Intensity</text>
<rect x="92.00" y="320.15" width="5.99" height="9.20" fill="#d4e4fb"/>
<rect x="97.89" y="320.15" width="5.99" height="9.20" fill="#d4e4fb"/>
<rect x="103.78" y="320.15" width="5.99" height="9.20" fill="#c9defa"/>
<rect x="109.67" y="320.15" width="5.99" height="9.20" fill="#bed7f9"/>
<rect x="115.56" y="320.15" width="5.99" height="9.20" fill="#c9defa"/>
<rect x="121.45" y="320.15" width="5.99" height="9.20" fill="#bed7f9"/>
<rect x="127.34" y="320.15" width="5.99" height="9.20" fill="#bed7f9"/>
<rect x="133.23" y="320.15" width="5.99" height="9.20" fill="#b3d1f8"/>
<rect x="139.12" y="320.15" width="5.99" height="9.20" fill="#a9caf7"/>
<rect x="145.01" y="320.15" width="5.99" height="9.20" fill="#d4e4fb"/>
<rect x="150.90" y="320.15" width="5.99" height="9.20" fill="#a9caf7"/>
<rect x="156.79" y="320.15" width="5.99" height="9.20" fill="#b3d1f8"/>
<rect x="162.68" y="320.15" width="5.99" height="9.20" fill="#3d89ed"/>
<rect x="168.57" y="320.15" width="5.99" height="9.20" fill="#3d89ed"/>
<rect x="174.46" y="320.15" width="5.99" height="9.20" fill="#93bdf5"/>
<rect x="180.35" y="320.15" width="5.99" height="9.20" fill="#488fee"/>
<rect x="186.24" y="320.15" width="5.99" height="9.20" fill="#488fee"/>
<rect x="192.13" y="320.15" width="5.99" height="9.20" fill="#d4e4fb"/>
<rect x="198.02" y="320.15" width="5.99" height="9.20" fill="#bed7f9"/>
<rect x="203.91" y="320.15" width="5.99" height="9.20" fill="#488fee"/>
<rect x="209.80" y="320.15" width="5.99" height="9.20" fill="#9ec4f6"/>
<rect x="215.69" y="320.15" width="5.99" height="9.20" fill="#deebfc"/>
<rect x="221.58" y="320.15" width="5.99" height="9.20" fill="#c9defa"/>
<rect x="227.47" y="320.15" width="5.99" height="9.20" fill="#a9caf7"/>
<rect x="233.36" y="320.15" width="5.99" height="9.20" fill="#88b6f4"/>
<rect x="239.25" y="320.15" width="5.99" height="9.20" fill="#9ec4f6"/>
<rect x="245.14" y="320.15" width="5.99" height="9.20" fill="#e9f1fd"/>
<rect x="251.03" y="320.15" width="5.99" height="9.20" fill="#deebfc"/>
<rect x="256.92" y="320.15" width="5.99" height="9.20" fill="#bed7f9"/>
<rect x="262.81" y="320.15" width="5.99" height="9.20" fill="#a9caf7"/>
<rect x="268.70" y="320.15" width="5.99" height="9.20" fill="#b3d1f8"/>
<rect x="274.59" y="320.15" width="5.99" height="9.20" fill="#f4f8fe"/>
<rect x="280.48" y="320.15" width="5.99" height="9.20" fill="#d4e4fb"/>
<rect x="286.37" y="320.15" width="5.99" height="9.20" fill="#d4e4fb"/>
<rect x="292.26" y="320.15" width="5.99" height="9.20" fill="#b3d1f8"/>
<rect x="92.00" y="329.25" width="5.99" height="9.20" fill="#d4e4fb"/>
<rect x="97.89" y="329.25" width="5.99" height="9.20" fill="#d4e4fb"/>
<rect x="103.78" y="329.25" width="5.99" height="9.20" fill="#b3d1f8"/>
<rect x="109.67" y="329.25" width="5.99" height="9.20" fill="#a9caf7"/>
<rect x="115.56" y="329.25" width="5.99" height="9.20" fill="#d4e4fb"/>
<rect x="121.45" y="329.25" width="5.99" height="9.20" fill="#3d89ed"/>
<rect x="127.34" y="329.25" width="5.99" height="9.20" fill="#3d89ed"/>
<rect x="133.23" y="329.25" width="5.99" height="9.20" fill="#3d89ed"/>
<rect x="139.12" y="329.25" width="5.99" height="9.20" fill="#bed7f9"/>
<rect x="145.01" y="329.25" width="5.99" height="9.20" fill="#9ec4f6"/>
<rect x="150.90" y="329.25" width="5.99" height="9.20" fill="#b3d1f8"/>
<rect x="156.79" y="329.25" width="5.99" height="9.20" fill="#a9caf7"/>
<rect x="162.68" y="329.25" width="5.99" height="9.20" fill="#d4e4fb"/>
<rect x="168.57" y="329.25" width="5.99" height="9.20" fill="#488fee"/>
<rect x="174.46" y="329.25" width="5.99" height="9.20" fill="#488fee"/>
<rect x="180.35" y="329.25" width="5.99" height="9.20" fill="#9ec4f6"/>
<rect x="186.24" y="329.25" width="5.99" height="9.20" fill="#9ec4f6"/>
<rect x="192.13" y="329.25" width="5.99" height="9.20" fill="#bed7f9"/>
<rect x="198.02" y="329.25" width="5.99" height="9.20" fill="#a9caf7"/>
<rect x="203.91" y="329.25" width="5.99" height="9.20" fill="#a9caf7"/>
<rect x="209.80" y="329.25" width="5.99" height="9.20" fill="#a9caf7"/>
<rect x="215.69" y="329.25" width="5.99" height="9.20" fill="#b3d1f8"/>
<rect x="221.58" y="329.25" width="5.99" height="9.20" fill="#bed7f9"/>
<rect x="227.47" y="329.25" width="5.99" height="9.20" fill="#a9caf7"/>
<rect x="233.36" y="329.25" width="5.99" height="9.20" fill="#9ec4f6"/>
<rect x="239.25" y="329.25" width="5.99" height="9.20" fill="#b3d1f8"/>
<rect x="245.14" y="329.25" width="5.99" height="9.20" fill="#a9caf7"/>
<rect x="251.03" y="329.25" width="5.99" height="9.20" fill="#b3d1f8"/>
<rect x="256.92" y="329.25" width="5.99" height="9.20" fill="#b3d1f8"/>
<rect x="262.81" y="329.25" width="5.99" height="9.20" fill="#9ec4f6"/>
<rect x="268.70" y="329.25" width="5.99" height="9.20" fill="#a9caf7"/>
<rect x="274.59" y="329.25" width="5.99" height="9.20" fill="#b3d1f8"/>
<rect x="280.48" y="329.25" width="5.99" height="9.20" fill="#b3d1f8"/>
<rect x="286.37" y="329.25" width="5.99" height="9.20" fill="#bed7f9"/>
<rect x="292.26" y="329.25" width="5.99" height="9.20" fill="#b3d1f8"/>
<rect x="92.00" y="338.35" width="5.99" height="9.20" fill="#d4e4fb"/>
<rect x="97.89" y="338.35" width="5.99" height="9.20" fill="#c9defa"/>
<rect x="103.78" y="338.35" width="5.99" height="9.20" fill="#bed7f9"/>
<rect x="109.67" y="338.35" width="5.99" height="9.20" fill="#f4f8fe"/>
<rect x="115.56" y="338.35" width="5.99" height="9.20" fill="#bed7f9"/>
<rect x="121.45" y="338.35" width="5.99" height="9.20" fill="#b3d1f8"/>
<rect x="127.34" y="338.35" width="5.99" height="9.20" fill="#e9f1fd"/>
<rect x="133.23" y="338.35" width="5.99" height="9.20" fill="#deebfc"/>
<rect x="145.01" y="338.35" width="5.99" height="9.20" fill="#bed7f9"/>
<rect x="150.90" y="338.35" width="5.99" height="9.20" fill="#b3d1f8"/>
<rect x="156.79" y="338.35" width="5.99" height="9.20" fill="#488fee"/>
<rect x="162.68" y="338.35" width="5.99" height="9.20" fill="#e9f1fd"/>
<rect x="174.46" y="338.35" width="5.99" height="9.20" fill="#488fee"/>
<rect x="180.35" y="338.35" width="5.99" height="9.20" fill="#488fee"/>
<rect x="186.24" y="338.35" width="5.99" height="9.20" fill="#a9caf7"/>
<rect x="192.13" y="338.35" width="5.99" height="9.20" fill="#488fee"/>
<rect x="198.02" y="338.35" width="5.99" height="9.20" fill="#488fee"/>
<rect x="203.91" y="338.35" width="5.99" height="9.20" fill="#c9defa"/>
<rect x="209.80" y="338.35" width="5.99" height="9.20" fill="#9ec4f6"/>
<rect x="215.69" y="338.35" width="5.99" height="9.20" fill="#bed7f9"/>
<rect x="221.58" y="338.35" width="5.99" height="9.20" fill="#9ec4f6"/>
<rect x="227.47" y="338.35" width="5.99" height="9.20" fill="#bed7f9"/>
<rect x="233.36" y="338.35" width="5.99" height="9.20" fill="#deebfc"/>
<rect x="239.25" y="338.35" width="5.99" height="9.20" fill="#a9caf7"/>
<rect x="245.14" y="338.35" width="5.99" height="9.20" fill="#bed7f9"/>
<rect x="251.03" y="338.35" width="5.99" height="9.20" fill="#bed7f9"/>
<rect x="256.92" y="338.35" width="5.99" height="9.20" fill="#f4f8fe"/>
<rect x="262.81" y="338.35" width="5.99" height="9.20" fill="#c9defa"/>
<rect x="268.70" y="338.35" width="5.99" height="9.20" fill="#c9defa"/>
<rect x="274.59" y="338.35" width="5.99" height="9.20" fill="#a9caf7"/>
<rect x="280.48" y="338.35" width="5.99" height="9.20" fill="#bed7f9"/>
<rect x="286.37" y="338.35" width="5.99" height="9.20" fill="#e9f1fd"/>
<rect x="292.26" y="338.35" width="5.99" height="9.20" fill="#b3d1f8"/>
<rect x="92.00" y="347.45" width="5.99" height="9.20" fill="#d4e4fb"/>
<rect x="97.89" y="347.45" width="5.99" height="9.20" fill="#b3d1f8"/>
<rect x="103.78" y="347.45" width="5.99" height="9.20" fill="#d4e4fb"/>
<rect x="109.67" y="347.45" width="5.99" height="9.20" fill="#e9f1fd"/>
<rect x="115.56" y="347.45" width="5.99" height="9.20" fill="#c9defa"/>
<rect x="121.45" y="347.45" width="5.99" height="9.20" fill="#bed7f9"/>
<rect x="127.34" y="347.45" width="5.99" height="9.20" fill="#3d89ed"/>
<rect x="133.23" y="347.45" width="5.99" height="9.20" fill="#e9f1fd"/>
<rect x="139.12" y="347.45" width="5.99" height="9.20" fill="#f4f8fe"/>
<rect x="145.01" y="347.45" width="5.99" height="9.20" fill="#488fee"/>
<rect x="150.90" y="347.45" width="5.99" height="9.20" fill="#488fee"/>
<rect x="156.79" y="347.45" width="5.99" height="9.20" fill="#93bdf5"/>
<rect x="162.68" y="347.45" width="5.99" height="9.20" fill="#488fee"/>
<rect x="168.57" y="347.45" width="5.99" height="9.20" fill="#488fee"/>
<rect x="174.46" y="347.45" width="5.99" height="9.20" fill="#93bdf5"/>
<rect x="180.35" y="347.45" width="5.99" height="9.20" fill="#a9caf7"/>
<rect x="186.24" y="347.45" width="5.99" height="9.20" fill="#d4e4fb"/>
<rect x="192.13" y="347.45" width="5.99" height="9.20" fill="#93bdf5"/>
<rect x="198.02" y="347.45" width="5.99" height="9.20" fill="#c9defa"/>
<rect x="203.91" y="347.45" width="5.99" height="9.20" fill="#c9defa"/>
<rect x="209.80" y="347.45" width="5.99" height="9.20" fill="#b3d1f8"/>
<rect x="215.69" y="347.45" width="5.99" height="9.20" fill="#b3d1f8"/>
<rect x="221.58" y="347.45" width="5.99" height="9.20" fill="#93bdf5"/>
<rect x="227.47" y="347.45" width="5.99" height="9.20" fill="#f4f8fe"/>
<rect x="233.36" y="347.45" width="5.99" height="9.20" fill="#bed7f9"/>
<rect x="239.25" y="347.45" width="5.99" height="9.20" fill="#bed7f9"/>
<rect x="245.14" y="347.45" width="5.99" height="9.20" fill="#c9defa"/>
<rect x="251.03" y="347.45" width="5.99" height="9.20" fill="#c9defa"/>
<rect x="256.92" y="347.45" width="5.99" height="9.20" fill="#deebfc"/>
<rect x="262.81" y="347.45" width="5.99" height="9.20" fill="#d4e4fb"/>
<rect x="268.70" y="347.45" width="5.99" height="9.20" fill="#d4e4fb"/>
<rect x="274.59" y="347.45" width="5.99" height="9.20" fill="#deebfc"/>
<rect x="280.48" y="347.45" width="5.99" height="9.20" fill="#d4e4fb"/>
<rect x="286.37" y="347.45" width="5.99" height="9.20" fill="#f4f8fe"/>
<rect x="292.26" y="347.45" width="5.99" height="9.20" fill="#c9defa"/>
<rect x="62.50" y="320.30" width="235.70" height="36.30" fill="none" stroke="#303030" stroke-width="0.6"/>
<text x="54.60" y="327.26" font-size="4.9" text-anchor="middle" font-weight="bold" fill="#161616" stroke="#161616" stroke-width="0.18">FL</text>
<text x="54.60" y="336.33" font-size="4.9" text-anchor="middle" font-weight="bold" fill="#161616" stroke="#161616" stroke-width="0.18">NL</text>
<text x="54.60" y="345.40" font-size="4.9" text-anchor="middle" font-weight="bold" fill="#161616" stroke="#161616" stroke-width="0.18">TS</text>
<text x="54.60" y="354.47" font-size="4.9" text-anchor="middle" font-weight="bold" fill="#161616" stroke="#161616" stroke-width="0.18">BM</text>
<text x="35.98" y="337.80" font-size="6.6" text-anchor="middle" font-weight="normal" fill="#161616" transform="rotate(-90 35.98 337.80)" stroke="#161616" stroke-width="0.16">Alkaloids</text>
<line x1="62.30" y1="359.70" x2="92.40" y2="359.70" stroke="#1c1c1c" stroke-width="0.8"/>
<line x1="62.70" y1="357.50" x2="62.70" y2="360.10" stroke="#1c1c1c" stroke-width="0.9"/>
<text x="77.10" y="369.01" font-size="5.3" text-anchor="middle" font-weight="bold" fill="#161616" stroke="#161616" stroke-width="0.18">0 min</text>
<line x1="92.00" y1="359.70" x2="122.10" y2="359.70" stroke="#1c1c1c" stroke-width="0.8"/>
<line x1="92.40" y1="357.50" x2="92.40" y2="360.10" stroke="#1c1c1c" stroke-width="0.9"/>
<text x="106.80" y="369.01" font-size="5.3" text-anchor="middle" font-weight="bold" fill="#161616" stroke="#161616" stroke-width="0.18">10 min</text>
<line x1="121.70" y1="359.70" x2="151.80" y2="359.70" stroke="#1c1c1c" stroke-width="0.8"/>
<line x1="122.10" y1="357.50" x2="122.10" y2="360.10" stroke="#1c1c1c" stroke-width="0.9"/>
<text x="136.50" y="369.01" font-size="5.3" text-anchor="middle" font-weight="bold" fill="#161616" stroke="#161616" stroke-width="0.18">20 min</text>
<line x1="151.40" y1="359.70" x2="181.50" y2="359.70" stroke="#1c1c1c" stroke-width="0.8"/>
<line x1="151.80" y1="357.50" x2="151.80" y2="360.10" stroke="#1c1c1c" stroke-width="0.9"/>
<text x="166.20" y="369.01" font-size="5.3" text-anchor="middle" font-weight="bold" fill="#161616" stroke="#161616" stroke-width="0.18">30 min</text>
<line x1="181.10" y1="359.70" x2="211.20" y2="359.70" stroke="#1c1c1c" stroke-width="0.8"/>
<line x1="181.50" y1="357.50" x2="181.50" y2="360.10" stroke="#1c1c1c" stroke-width="0.9"/>
<text x="195.90" y="369.01" font-size="5.3" text-anchor="middle" font-weight="bold" fill="#161616" stroke="#161616" stroke-width="0.18">40 min</text>
<line x1="210.80" y1="359.70" x2="240.90" y2="359.70" stroke="#1c1c1c" stroke-width="0.8"/>
<line x1="211.20" y1="357.50" x2="211.20" y2="360.10" stroke="#1c1c1c" stroke-width="0.9"/>
<text x="225.60" y="369.01" font-size="5.3" text-anchor="middle" font-weight="bold" fill="#161616" stroke="#161616" stroke-width="0.18">60 min</text>
<line x1="240.50" y1="359.70" x2="270.60" y2="359.70" stroke="#1c1c1c" stroke-width="0.8"/>
<line x1="240.90" y1="357.50" x2="240.90" y2="360.10" stroke="#1c1c1c" stroke-width="0.9"/>
<text x="255.30" y="369.01" font-size="5.3" text-anchor="middle" font-weight="bold" fill="#161616" stroke="#161616" stroke-width="0.18">90 min</text>
<line x1="270.20" y1="359.70" x2="298.50" y2="359.70" stroke="#1c1c1c" stroke-width="0.8"/>
<line x1="270.60" y1="357.50" x2="270.60" y2="360.10" stroke="#1c1c1c" stroke-width="0.9"/>
<text x="285.00" y="369.01" font-size="5.3" text-anchor="middle" font-weight="bold" fill="#161616" stroke="#161616" stroke-width="0.18">120 min</text>
<line x1="298.50" y1="357.50" x2="298.50" y2="360.10" stroke="#1c1c1c" stroke-width="0.9"/>
<defs><linearGradient id="cb" x1="0" y1="0" x2="0" y2="1"><stop offset="0" stop-color="#3a86ea"/><stop offset="1" stop-color="#ffffff"/></linearGradient></defs>
<rect x="313.40" y="319.70" width="6.70" height="36.30" fill="url(#cb)" stroke="#3a3a3a" stroke-width="0.55"/>
<line x1="313.40" y1="337.80" x2="314.60" y2="337.80" stroke="#333" stroke-width="0.5"/>
<line x1="318.90" y1="337.80" x2="320.10" y2="337.80" stroke="#333" stroke-width="0.5"/>
<text x="305.70" y="324.84" font-size="5.1" text-anchor="middle" font-weight="bold" fill="#161616" stroke="#161616" stroke-width="0.18">1.0</text>
<text x="305.70" y="339.84" font-size="5.1" text-anchor="middle" font-weight="bold" fill="#161616" stroke="#161616" stroke-width="0.18">0.5</text>
<text x="306.60" y="354.24" font-size="5.1" text-anchor="middle" font-weight="bold" fill="#161616" stroke="#161616" stroke-width="0.18">0</text>
<text x="329.23" y="339.00" font-size="5.35" text-anchor="middle" font-weight="bold" fill="#161616" transform="rotate(-90 329.23 339.00)" stroke="#161616" stroke-width="0.18">Relative</text>
<text x="339.13" y="339.30" font-size="5.35" text-anchor="middle" font-weight="bold" fill="#161616" transform="rotate(-90 339.13 339.30)" stroke="#161616" stroke-width="0.18">Content</text>
<text x="56.60" y="387.40" font-size="9.1" font-weight="bold" fill="#0c0c0c" stroke="#0c0c0c" stroke-width="0.3">H</text>
<defs><linearGradient id="hg" x1="0" y1="0" x2="1" y2="0"><stop offset="0" stop-color="#aabcf4"/><stop offset="1" stop-color="#7f98ea"/></linearGradient></defs>
<rect x="101.80" y="397.10" width="5.90" height="41.00" fill="url(#hg)" stroke="#3a3a3a" stroke-width="0.6"/>
<text x="103.20" y="446.91" font-size="5.3" text-anchor="middle" font-weight="bold" fill="#161616" stroke="#161616" stroke-width="0.18">FZL</text>
<rect x="111.50" y="414.20" width="5.80" height="23.90" fill="#d3e8f7" stroke="#3a3a3a" stroke-width="0.6"/>
<text x="114.20" y="446.91" font-size="5.3" text-anchor="middle" font-weight="bold" fill="#161616" stroke="#161616" stroke-width="0.18">NL</text>
<rect x="121.10" y="428.80" width="5.40" height="9.30" fill="#c3e7f7" stroke="#3a3a3a" stroke-width="0.6"/>
<text x="123.80" y="446.91" font-size="5.3" text-anchor="middle" font-weight="bold" fill="#161616" stroke="#161616" stroke-width="0.18">TS</text>
<rect x="130.20" y="420.00" width="6.30" height="18.10" fill="#8ecaf0" stroke="#3a3a3a" stroke-width="0.6"/>
<text x="134.00" y="446.91" font-size="5.3" text-anchor="middle" font-weight="bold" fill="#161616" stroke="#161616" stroke-width="0.18">BM</text>
<line x1="99.60" y1="390.00" x2="99.60" y2="438.50" stroke="#1c1c1c" stroke-width="0.95"/>
<line x1="97.40" y1="391.80" x2="99.60" y2="391.80" stroke="#1c1c1c" stroke-width="0.8075"/>
<text x="96.40" y="393.82" font-size="5.6" text-anchor="end" font-weight="bold" fill="#161616" stroke="#161616" stroke-width="0.18">35</text>
<line x1="97.40" y1="403.02" x2="99.60" y2="403.02" stroke="#1c1c1c" stroke-width="0.8075"/>
<text x="96.40" y="405.04" font-size="5.6" text-anchor="end" font-weight="bold" fill="#161616" stroke="#161616" stroke-width="0.18">30</text>
<line x1="97.40" y1="414.25" x2="99.60" y2="414.25" stroke="#1c1c1c" stroke-width="0.8075"/>
<text x="96.40" y="416.27" font-size="5.6" text-anchor="end" font-weight="bold" fill="#161616" stroke="#161616" stroke-width="0.18">25</text>
<line x1="97.40" y1="425.48" x2="99.60" y2="425.48" stroke="#1c1c1c" stroke-width="0.8075"/>
<text x="96.40" y="427.49" font-size="5.6" text-anchor="end" font-weight="bold" fill="#161616" stroke="#161616" stroke-width="0.18">20</text>
<line x1="97.40" y1="436.70" x2="99.60" y2="436.70" stroke="#1c1c1c" stroke-width="0.8075"/>
<text x="96.40" y="438.72" font-size="5.6" text-anchor="end" font-weight="bold" fill="#161616" stroke="#161616" stroke-width="0.18">15</text>
<line x1="99.15" y1="438.10" x2="139.00" y2="438.10" stroke="#1c1c1c" stroke-width="0.95"/>
<text x="82.23" y="415.80" font-size="6.2" text-anchor="middle" font-weight="normal" fill="#161616" transform="rotate(-90 82.23 415.80)" stroke="#161616" stroke-width="0.3">Relative Importance (%)</text>
<text x="159.60" y="386.60" font-size="8.4" font-weight="bold" fill="#0c0c0c" stroke="#0c0c0c" stroke-width="0.3">I</text>
<line x1="213.60" y1="394.60" x2="213.60" y2="393.20" stroke="#1c1c1c" stroke-width="0.7"/>
<line x1="211.08" y1="393.20" x2="216.12" y2="393.20" stroke="#1c1c1c" stroke-width="0.7"/>
<rect x="210.50" y="395.00" width="6.20" height="43.10" fill="#dedede" stroke="#1c1c1c" stroke-width="0.8"/>
<text x="215.50" y="440.60" font-size="5.0" text-anchor="end" font-weight="bold" fill="#161616" transform="rotate(-90 215.50 440.60)" stroke="#161616" stroke-width="0.18">Con</text>
<line x1="224.15" y1="413.90" x2="224.15" y2="411.40" stroke="#1c1c1c" stroke-width="0.7"/>
<line x1="221.38" y1="411.40" x2="226.92" y2="411.40" stroke="#1c1c1c" stroke-width="0.7"/>
<rect x="220.70" y="414.30" width="6.90" height="23.80" fill="#ffffff" stroke="#1c1c1c" stroke-width="0.8"/>
<text x="226.05" y="440.60" font-size="5.0" text-anchor="end" font-weight="bold" fill="#161616" transform="rotate(-90 226.05 440.60)" stroke="#161616" stroke-width="0.18">CCCP</text>
<text x="224.15" y="407.80" font-size="7.0" text-anchor="middle" font-weight="bold" fill="#1c1c1c" stroke="#1c1c1c" stroke-width="0.14">***</text>
<line x1="234.55" y1="412.50" x2="234.55" y2="408.00" stroke="#1c1c1c" stroke-width="0.7"/>
<line x1="231.85" y1="408.00" x2="237.25" y2="408.00" stroke="#1c1c1c" stroke-width="0.7"/>
<rect x="231.20" y="412.90" width="6.70" height="25.20" fill="#e6e2fa" stroke="#1c1c1c" stroke-width="0.8"/>
<text x="236.45" y="440.60" font-size="5.0" text-anchor="end" font-weight="bold" fill="#161616" transform="rotate(-90 236.45 440.60)" stroke="#161616" stroke-width="0.18">ISO</text>
<text x="234.55" y="401.70" font-size="7.0" text-anchor="middle" font-weight="bold" fill="#1c1c1c" stroke="#1c1c1c" stroke-width="0.14">***</text>
<line x1="245.40" y1="409.20" x2="245.40" y2="407.40" stroke="#1c1c1c" stroke-width="0.7"/>
<line x1="242.81" y1="407.40" x2="247.99" y2="407.40" stroke="#1c1c1c" stroke-width="0.7"/>
<rect x="242.20" y="409.60" width="6.40" height="28.50" fill="#fbe4c8" stroke="#1c1c1c" stroke-width="0.8"/>
<text x="247.37" y="440.60" font-size="5.2" text-anchor="end" font-weight="bold" fill="#161616" transform="rotate(-90 247.37 440.60)" stroke="#161616" stroke-width="0.18">Metabolites</text>
<text x="245.40" y="404.50" font-size="7.0" text-anchor="middle" font-weight="bold" fill="#1c1c1c" stroke="#1c1c1c" stroke-width="0.14">**</text>
<line x1="256.40" y1="416.60" x2="256.40" y2="412.50" stroke="#1c1c1c" stroke-width="0.7"/>
<line x1="253.88" y1="412.50" x2="258.92" y2="412.50" stroke="#1c1c1c" stroke-width="0.7"/>
<rect x="253.30" y="417.00" width="6.20" height="21.10" fill="#8fa6ec" stroke="#1c1c1c" stroke-width="0.8"/>
<text x="258.30" y="440.60" font-size="5.0" text-anchor="end" font-weight="bold" fill="#161616" transform="rotate(-90 258.30 440.60)" stroke="#161616" stroke-width="0.18">FZL</text>
<text x="256.40" y="410.50" font-size="7.0" text-anchor="middle" font-weight="bold" fill="#1c1c1c" stroke="#1c1c1c" stroke-width="0.14">***</text>
<line x1="266.90" y1="403.10" x2="266.90" y2="400.40" stroke="#1c1c1c" stroke-width="0.7"/>
<line x1="264.38" y1="400.40" x2="269.42" y2="400.40" stroke="#1c1c1c" stroke-width="0.7"/>
<rect x="263.80" y="403.50" width="6.20" height="34.60" fill="#d3e8f7" stroke="#1c1c1c" stroke-width="0.8"/>
<text x="268.80" y="440.60" font-size="5.0" text-anchor="end" font-weight="bold" fill="#161616" transform="rotate(-90 268.80 440.60)" stroke="#161616" stroke-width="0.18">NL</text>
<line x1="277.40" y1="407.80" x2="277.40" y2="405.00" stroke="#1c1c1c" stroke-width="0.7"/>
<line x1="274.88" y1="405.00" x2="279.92" y2="405.00" stroke="#1c1c1c" stroke-width="0.7"/>
<rect x="274.30" y="408.20" width="6.20" height="29.90" fill="#c3e3f6" stroke="#1c1c1c" stroke-width="0.8"/>
<text x="279.30" y="440.60" font-size="5.0" text-anchor="end" font-weight="bold" fill="#161616" transform="rotate(-90 279.30 440.60)" stroke="#161616" stroke-width="0.18">TS</text>
<text x="277.40" y="402.80" font-size="7.0" text-anchor="middle" font-weight="bold" fill="#1c1c1c" stroke="#1c1c1c" stroke-width="0.14">**</text>
<line x1="288.10" y1="415.20" x2="288.10" y2="412.80" stroke="#1c1c1c" stroke-width="0.7"/>
<line x1="285.58" y1="412.80" x2="290.62" y2="412.80" stroke="#1c1c1c" stroke-width="0.7"/>
<rect x="285.00" y="415.60" width="6.20" height="22.50" fill="#8ecaf0" stroke="#1c1c1c" stroke-width="0.8"/>
<text x="290.00" y="440.60" font-size="5.0" text-anchor="end" font-weight="bold" fill="#161616" transform="rotate(-90 290.00 440.60)" stroke="#161616" stroke-width="0.18">BM</text>
<text x="288.10" y="410.50" font-size="7.0" text-anchor="middle" font-weight="bold" fill="#1c1c1c" stroke="#1c1c1c" stroke-width="0.14">***</text>
<line x1="207.30" y1="380.30" x2="207.30" y2="438.50" stroke="#1c1c1c" stroke-width="0.95"/>
<line x1="205.10" y1="382.20" x2="207.30" y2="382.20" stroke="#1c1c1c" stroke-width="0.8075"/>
<text x="204.40" y="384.14" font-size="5.4" text-anchor="end" font-weight="bold" fill="#161616" stroke="#161616" stroke-width="0.18">50,000</text>
<line x1="205.10" y1="398.27" x2="207.30" y2="398.27" stroke="#1c1c1c" stroke-width="0.8075"/>
<text x="204.40" y="400.21" font-size="5.4" text-anchor="end" font-weight="bold" fill="#161616" stroke="#161616" stroke-width="0.18">40,000</text>
<line x1="205.10" y1="414.33" x2="207.30" y2="414.33" stroke="#1c1c1c" stroke-width="0.8075"/>
<text x="204.40" y="416.28" font-size="5.4" text-anchor="end" font-weight="bold" fill="#161616" stroke="#161616" stroke-width="0.18">30,000</text>
<line x1="205.10" y1="430.40" x2="207.30" y2="430.40" stroke="#1c1c1c" stroke-width="0.8075"/>
<text x="204.40" y="432.34" font-size="5.4" text-anchor="end" font-weight="bold" fill="#161616" stroke="#161616" stroke-width="0.18">20,000</text>
<line x1="206.85" y1="438.10" x2="293.80" y2="438.10" stroke="#1c1c1c" stroke-width="0.95"/>
<line x1="252.90" y1="453.80" x2="292.30" y2="453.80" stroke="#1c1c1c" stroke-width="0.7"/>
<text x="270.60" y="462.84" font-size="5.1" text-anchor="middle" font-weight="bold" fill="#161616" stroke="#161616" stroke-width="0.18">50μM</text>
<text x="180.65" y="412.00" font-size="6.25" text-anchor="middle" font-weight="normal" fill="#161616" transform="rotate(-90 180.65 412.00)" stroke="#161616" stroke-width="0.34">Fluorescence Intensity</text>
</g>
</svg>
</body></html>
